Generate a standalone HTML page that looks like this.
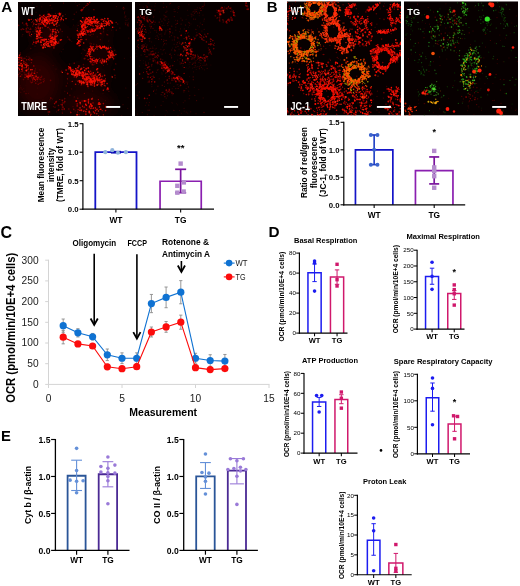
<!DOCTYPE html>
<html><head><meta charset="utf-8"><style>
html,body{margin:0;padding:0;background:#fff;width:520px;height:586px;overflow:hidden}
svg{display:block}
text{font-family:'Liberation Sans', Arial, sans-serif}
</style></head><body>
<svg width="520" height="586" viewBox="0 0 520 586">
<rect width="520" height="586" fill="#fff"/>
<text x="1.30" y="11.90" font-size="15.3" font-weight="bold" text-anchor="start" fill="#000" >A</text>
<text x="266.70" y="11.70" font-size="15" font-weight="bold" text-anchor="start" fill="#000" >B</text>
<text x="0.60" y="238.40" font-size="16" font-weight="bold" text-anchor="start" fill="#000" >C</text>
<text x="268.40" y="236.80" font-size="15.3" font-weight="bold" text-anchor="start" fill="#000" >D</text>
<text x="0.90" y="440.60" font-size="14.8" font-weight="bold" text-anchor="start" fill="#000" >E</text>
<defs><filter id="soft" x="-5%" y="-5%" width="110%" height="110%"><feGaussianBlur stdDeviation="0.35"/></filter><filter id="haze" x="-50%" y="-50%" width="200%" height="200%"><feGaussianBlur stdDeviation="7"/></filter><clipPath id="cA1"><rect x="18" y="2" width="114" height="114"/></clipPath><clipPath id="cA2"><rect x="135" y="2" width="115" height="114"/></clipPath><clipPath id="cB1"><rect x="287" y="1.3" width="114" height="114.3"/></clipPath><clipPath id="cB2"><rect x="404" y="1.3" width="114" height="114.3"/></clipPath></defs>
<g clip-path="url(#cA1)"><rect x="18" y="2" width="114" height="114" fill="#070000"/><g filter="url(#haze)"><ellipse cx="38" cy="82" rx="22" ry="28" fill="#2a0000"/><ellipse cx="88" cy="104" rx="26" ry="10" fill="#2a0000"/><ellipse cx="48" cy="34" rx="14" ry="14" fill="#220000"/><ellipse cx="93" cy="32" rx="16" ry="10" fill="#1e0000"/><ellipse cx="86" cy="78" rx="20" ry="10" fill="#260000"/><ellipse cx="100" cy="54" rx="13" ry="8" fill="#1e0000"/></g><g filter="url(#soft)"><path d="M53.7 24.6h0M50.3 15.8h0M48.8 18.2h0M39.1 19.9h0M49.5 23.8h0M55.5 40.1h0M56.1 16.8h0M109.1 20.5h0M86.9 18.6h0M106.5 25.2h0M99.7 23.7h0M107.4 23.2h0M77.4 39.4h0M82.5 29.0h0M83.7 29.7h0M83.6 25.8h0M95.4 30.5h0M95.0 29.3h0M93.1 28.7h0M101.4 25.9h0M89.7 54.6h0M95.2 60.9h0M91.9 56.6h0M108.7 59.8h0M97.2 49.1h0M92.5 59.9h0M97.2 60.4h0M75.5 72.5h0M95.1 75.1h0M91.9 81.2h0M80.7 75.1h0M72.4 69.6h0M77.4 74.8h0M22.1 65.4h0M22.6 70.9h0M28.9 72.0h0M35.1 79.4h0M95.6 108.5h0M84.6 107.1h0M86.0 100.9h0M45.3 22.5h0M47.8 21.3h0M41.3 16.6h0M81.2 82.9h0M92.4 83.6h0" stroke="#e80a04" stroke-width="1.2" stroke-opacity="0.8" stroke-linecap="round"/><path d="M46.4 17.6h0M41.9 39.6h0M37.7 34.7h0M55.9 34.7h0M55.9 39.3h0M86.7 22.2h0M78.4 37.4h0M77.4 34.3h0M89.9 31.5h0M93.9 30.5h0M111.8 53.8h0M112.5 51.6h0M89.0 50.5h0M100.4 60.5h0M75.6 84.2h0M75.8 75.4h0M91.5 82.2h0M104.6 75.4h0M86.0 74.5h0M72.7 71.5h0M83.6 75.5h0M87.0 73.8h0M24.0 63.6h0M105.6 110.6h0M98.3 104.1h0M42.0 21.7h0M54.9 38.8h0M49.6 41.8h0M88.9 20.6h0M94.7 23.2h0" stroke="#ff1208" stroke-width="1.6" stroke-opacity="0.6" stroke-linecap="round"/><path d="M39.4 20.1h0M52.9 15.6h0M54.0 42.7h0M54.2 31.6h0M98.7 25.3h0M83.9 20.0h0M85.5 23.4h0M90.5 56.3h0M71.4 71.2h0M97.8 80.3h0M81.1 85.0h0M67.4 78.8h0M91.6 85.0h0M94.9 80.9h0M86.2 83.8h0M98.3 79.3h0M31.3 75.6h0M89.7 105.4h0M98.4 99.7h0M55.5 38.8h0" stroke="#f00c04" stroke-width="1.2" stroke-opacity="0.6" stroke-linecap="round"/><path d="M39.9 15.4h0M43.6 18.4h0M57.9 19.7h0M48.6 16.4h0M44.4 16.6h0M51.9 19.6h0M52.2 44.0h0M58.6 42.0h0M44.2 40.8h0M58.2 16.7h0M60.5 19.7h0M90.4 20.3h0M90.8 19.6h0M104.4 23.2h0M82.2 27.1h0M100.1 28.4h0M84.9 33.8h0M76.9 43.9h0M71.5 72.8h0M100.4 74.1h0M89.3 76.7h0M86.9 81.4h0M97.3 76.5h0M104.3 85.3h0M82.6 71.7h0M102.9 81.7h0M34.4 79.0h0M37.6 79.1h0M90.4 108.5h0M84.1 100.9h0M45.0 19.6h0M46.5 23.9h0M55.9 32.2h0" stroke="#ff0a00" stroke-width="1.6" stroke-opacity="0.6" stroke-linecap="round"/><path d="M47.2 20.4h0M37.0 21.7h0M46.5 22.3h0M41.8 32.3h0M39.2 34.5h0M39.1 29.0h0M44.7 39.6h0M44.2 40.9h0M66.0 18.7h0M87.4 18.9h0M86.9 19.7h0M78.7 35.9h0M106.3 61.3h0M110.6 47.3h0M104.6 47.6h0M87.3 53.2h0M73.5 74.7h0M99.8 77.4h0M87.4 74.2h0M81.8 73.8h0M68.7 66.7h0M86.9 77.9h0M18.9 62.1h0M28.1 65.7h0M90.6 115.2h0M46.3 19.4h0M84.0 79.8h0M85.2 78.8h0M82.9 78.6h0" stroke="#ff1208" stroke-width="1.2" stroke-opacity="1.0" stroke-linecap="round"/><path d="M49.3 17.1h0M56.2 20.9h0M36.0 29.9h0M48.7 42.0h0M52.4 42.0h0M52.3 37.9h0M47.9 43.6h0M52.9 37.4h0M55.3 37.5h0M56.6 36.3h0M93.9 21.6h0M109.1 23.6h0M98.6 23.0h0M103.0 25.7h0M85.3 21.1h0M83.9 31.2h0M81.1 34.0h0M82.1 22.9h0M81.2 30.5h0M92.2 29.7h0M89.4 30.0h0M106.1 47.6h0M108.9 58.5h0M106.2 47.2h0M95.6 48.5h0M90.7 49.3h0M108.6 57.2h0M75.9 70.5h0M76.3 77.6h0M90.6 80.2h0M72.2 81.4h0M81.5 84.0h0M95.1 79.3h0M105.5 78.8h0M92.0 82.3h0M94.8 81.0h0M28.8 73.3h0M88.7 103.5h0M105.5 106.3h0M88.8 99.1h0M93.0 102.9h0M95.3 107.5h0M105.5 107.2h0M44.2 20.5h0M55.2 38.0h0M92.5 25.0h0" stroke="#f00c04" stroke-width="1.2" stroke-opacity="0.8" stroke-linecap="round"/><path d="M46.0 19.8h0M39.5 21.4h0M49.9 22.0h0M44.5 20.1h0M42.6 21.0h0M53.2 20.5h0M40.6 37.5h0M38.3 32.4h0M38.3 33.2h0M54.5 42.7h0M50.8 35.9h0M41.3 45.0h0M55.2 29.4h0M54.5 43.7h0M88.9 24.0h0M95.4 21.3h0M98.3 21.6h0M100.6 25.3h0M85.3 20.2h0M109.2 25.3h0M102.7 19.5h0M94.5 19.7h0M78.6 37.6h0M80.5 35.2h0M83.3 31.7h0M85.6 23.0h0M84.7 27.9h0M92.0 30.4h0M94.0 31.0h0M83.8 33.4h0M88.9 49.8h0M88.4 51.5h0M97.2 61.2h0M108.7 56.7h0M102.2 59.3h0M111.8 55.5h0M77.3 74.4h0M70.6 68.1h0M75.0 74.7h0M78.5 73.4h0M76.0 72.8h0M84.0 74.4h0M76.1 69.1h0M76.7 76.3h0M81.3 82.4h0M81.9 75.7h0M87.8 84.0h0M101.8 79.4h0M86.2 77.2h0M83.7 72.3h0M26.2 67.6h0M22.2 68.7h0M33.2 78.1h0M86.6 109.3h0M91.4 106.0h0M87.3 82.3h0M83.6 76.1h0M81.2 82.8h0M86.6 21.9h0" stroke="#f00c04" stroke-width="1.6" stroke-opacity="0.8" stroke-linecap="round"/><path d="M47.9 27.6h0M51.5 18.8h0M45.1 24.0h0M42.4 19.1h0M37.9 18.9h0M50.0 23.3h0M61.0 17.2h0M38.2 32.3h0M40.9 42.0h0M52.4 33.1h0M108.3 21.2h0M82.1 28.4h0M83.8 24.2h0M82.8 29.2h0M104.0 25.6h0M95.6 29.2h0M91.1 31.6h0M88.1 59.7h0M107.8 51.9h0M92.5 59.1h0M97.6 61.2h0M94.0 62.6h0M106.4 49.0h0M89.9 56.3h0M108.7 47.9h0M94.0 58.0h0M77.9 71.2h0M85.8 76.6h0M83.4 82.4h0M83.7 75.9h0M99.2 80.0h0M104.4 83.1h0M97.8 82.5h0M33.8 65.9h0M29.1 75.4h0M96.0 110.0h0M90.5 104.1h0M78.1 109.7h0M47.3 22.8h0M52.4 38.7h0M81.7 81.6h0" stroke="#ff0a00" stroke-width="1.2" stroke-opacity="0.8" stroke-linecap="round"/><path d="M47.2 19.5h0M50.3 20.4h0M53.0 19.3h0M38.6 37.2h0M37.3 41.7h0M42.8 47.9h0M48.0 43.9h0M58.6 32.1h0M57.4 30.3h0M55.1 42.1h0M55.3 33.0h0M62.8 16.0h0M104.0 20.6h0M89.3 21.9h0M79.2 33.9h0M86.9 30.5h0M82.9 25.1h0M83.1 35.3h0M90.6 32.3h0M90.4 52.0h0M90.5 54.0h0M97.2 60.1h0M77.7 74.2h0M85.9 79.6h0M99.2 78.2h0M93.5 80.7h0M100.7 76.3h0M21.3 63.8h0M96.8 113.7h0M95.5 110.8h0M80.2 103.7h0M80.0 107.9h0M91.8 105.6h0M55.2 17.9h0M81.6 81.0h0" stroke="#ff2414" stroke-width="1.6" stroke-opacity="0.6" stroke-linecap="round"/><path d="M53.4 20.6h0M54.0 19.5h0M53.6 42.1h0M53.4 39.5h0M44.8 43.6h0M55.2 39.7h0M53.0 31.2h0M57.9 43.2h0M85.9 19.8h0M103.5 21.5h0M105.9 21.2h0M80.6 20.9h0M84.8 31.3h0M83.5 25.2h0M83.3 35.1h0M77.5 43.8h0M89.2 49.8h0M90.3 58.7h0M72.4 71.3h0M76.0 74.0h0M90.5 79.2h0M92.4 82.6h0M92.3 82.8h0M70.0 67.7h0M21.8 69.5h0M89.5 106.9h0M98.9 104.1h0M80.1 102.5h0M97.0 109.3h0M44.5 20.7h0M44.7 19.4h0M40.9 24.0h0M52.1 37.2h0M85.0 79.9h0M86.1 23.2h0" stroke="#f00c04" stroke-width="1.6" stroke-opacity="1.0" stroke-linecap="round"/><path d="M47.3 23.3h0M43.7 44.4h0M41.0 42.5h0M52.1 41.5h0M108.1 24.0h0M94.5 21.4h0M97.5 22.5h0M110.4 21.0h0M80.2 34.3h0M97.8 26.2h0M99.4 46.6h0M88.5 77.9h0M79.2 80.9h0M87.2 84.6h0M99.4 74.5h0M94.6 82.2h0M75.8 73.8h0M98.6 116.2h0M52.3 37.2h0M88.3 77.8h0M89.9 24.2h0M87.8 21.8h0M88.4 20.1h0" stroke="#ff2414" stroke-width="1.6" stroke-opacity="1.0" stroke-linecap="round"/><path d="M50.2 20.4h0M44.3 15.0h0M47.0 16.0h0M52.1 39.7h0M111.4 21.2h0M89.6 19.4h0M99.7 28.2h0M97.1 27.0h0M98.4 59.7h0M91.3 50.6h0M113.2 53.0h0M78.6 72.2h0M94.4 82.7h0M85.5 75.8h0M77.6 112.0h0M92.6 98.1h0M84.5 110.8h0M90.8 82.3h0M89.9 78.5h0M92.7 23.3h0" stroke="#ff1208" stroke-width="1.2" stroke-opacity="0.6" stroke-linecap="round"/><path d="M47.3 23.5h0M44.2 39.3h0M95.0 21.2h0M80.3 41.7h0M91.6 59.4h0M88.6 81.4h0M26.7 64.2h0M53.7 43.4h0" stroke="#e80a04" stroke-width="2.0" stroke-opacity="0.6" stroke-linecap="round"/><path d="M45.7 20.6h0M35.6 19.7h0M40.1 18.7h0M52.5 22.8h0M56.0 24.3h0M56.5 23.4h0M57.4 18.6h0M37.2 35.9h0M36.1 24.5h0M40.2 30.5h0M46.1 45.1h0M45.3 47.3h0M54.0 45.8h0M55.6 36.5h0M54.1 37.3h0M106.1 25.5h0M106.0 23.4h0M102.4 26.5h0M81.0 37.0h0M81.7 26.1h0M83.9 33.7h0M113.9 55.6h0M89.2 54.4h0M104.4 61.7h0M104.7 60.5h0M73.4 71.9h0M78.0 67.7h0M96.3 76.9h0M97.8 72.2h0M101.2 84.7h0M77.7 74.2h0M112.3 77.0h0M101.3 82.6h0M94.5 78.7h0M99.4 80.8h0M95.3 81.0h0M94.5 83.6h0M84.2 74.9h0M26.9 65.8h0M17.4 62.3h0M19.1 65.2h0M30.1 76.1h0M30.4 75.4h0M98.4 111.0h0M99.5 107.0h0M36.7 20.6h0M49.2 19.4h0M47.9 41.5h0M93.0 81.5h0M81.8 83.6h0M91.4 23.6h0M95.8 25.6h0M95.1 21.3h0" stroke="#ff2414" stroke-width="1.6" stroke-opacity="0.8" stroke-linecap="round"/><path d="M50.0 16.5h0M49.5 23.6h0M43.4 15.4h0M39.8 37.8h0M63.1 19.5h0M89.1 20.4h0M106.5 24.4h0M82.1 25.2h0M100.9 26.5h0M101.5 48.6h0M107.2 58.7h0M87.4 55.9h0M76.6 73.8h0M76.8 74.4h0M91.1 75.1h0M103.3 90.2h0M19.2 65.6h0M24.1 67.8h0M28.6 68.0h0M22.4 64.8h0M21.5 58.0h0M100.0 109.5h0M51.9 23.5h0M82.8 78.4h0M90.8 78.6h0M88.5 24.6h0" stroke="#f00c04" stroke-width="1.2" stroke-opacity="1.0" stroke-linecap="round"/><path d="M51.8 18.7h0M40.2 28.9h0M107.8 22.8h0M90.2 29.8h0M98.2 28.3h0M87.6 84.5h0M92.5 74.1h0M92.5 75.8h0M105.1 85.5h0M91.9 106.1h0M46.4 19.3h0M77.8 81.2h0" stroke="#ff2414" stroke-width="1.2" stroke-opacity="0.6" stroke-linecap="round"/><path d="M43.4 24.0h0M43.1 21.2h0M57.9 20.5h0M36.0 42.0h0M50.6 42.1h0M53.8 16.8h0M89.8 22.5h0M82.8 17.8h0M94.2 20.0h0M79.0 35.1h0M97.2 27.4h0M90.2 61.4h0M89.3 55.0h0M93.1 46.8h0M78.9 66.1h0M86.7 77.6h0M93.3 72.9h0M32.7 75.5h0M28.7 75.2h0M85.9 111.7h0M88.4 99.9h0M51.9 41.6h0M90.9 25.2h0" stroke="#e80a04" stroke-width="1.6" stroke-opacity="1.0" stroke-linecap="round"/><path d="M54.6 15.8h0M55.6 18.0h0M33.8 42.2h0M47.6 46.1h0M46.6 41.5h0M46.0 44.1h0M57.3 35.7h0M59.9 15.1h0M106.5 22.0h0M107.1 23.1h0M107.4 22.9h0M84.6 29.9h0M83.1 28.3h0M81.7 26.1h0M84.4 23.2h0M103.6 28.7h0M80.2 45.2h0M77.9 42.6h0M96.7 63.1h0M106.5 47.8h0M107.2 48.9h0M110.6 52.7h0M102.6 60.5h0M110.3 57.3h0M107.0 58.9h0M92.7 60.8h0M111.6 51.0h0M99.5 46.5h0M88.6 51.8h0M95.4 61.1h0M83.5 73.8h0M70.8 70.9h0M80.6 69.6h0M74.1 75.0h0M83.9 83.4h0M96.2 79.1h0M90.7 74.1h0M91.3 82.1h0M89.0 77.0h0M83.4 72.8h0M108.0 89.4h0M87.2 76.9h0M101.8 82.0h0M88.6 76.9h0M90.7 79.2h0M19.5 55.3h0M34.6 73.3h0M31.3 74.0h0M92.2 106.0h0M94.6 113.1h0M93.5 108.1h0M46.0 17.6h0M50.6 38.5h0" stroke="#ff0a00" stroke-width="1.6" stroke-opacity="0.8" stroke-linecap="round"/><path d="M38.0 19.9h0M52.9 21.7h0M58.2 13.4h0M53.0 40.9h0M55.9 37.1h0M83.3 25.3h0M83.2 31.7h0M112.7 56.9h0M95.8 62.6h0M99.4 58.3h0M91.5 80.2h0M98.7 81.0h0M73.3 69.4h0M81.2 110.1h0M43.3 17.8h0M47.8 43.4h0" stroke="#e80a04" stroke-width="1.2" stroke-opacity="0.6" stroke-linecap="round"/><path d="M50.4 20.5h0M104.5 25.9h0M108.9 22.3h0M92.8 19.2h0M80.8 24.0h0M84.9 34.1h0M104.3 61.6h0M101.4 62.0h0M76.4 74.1h0M75.9 75.1h0M95.2 75.2h0M62.3 72.4h0M87.3 84.0h0M97.7 79.5h0M98.2 84.0h0M85.4 73.2h0M82.6 75.9h0M85.9 74.7h0M19.5 69.2h0M22.3 67.0h0M32.1 69.7h0M91.0 114.2h0M83.4 111.1h0M91.3 108.0h0M86.3 80.0h0M85.5 81.0h0M95.2 22.2h0" stroke="#ff2414" stroke-width="1.2" stroke-opacity="1.0" stroke-linecap="round"/><path d="M47.8 16.8h0M51.9 20.5h0M36.7 34.3h0M37.5 31.1h0M44.2 45.7h0M40.9 41.4h0M52.0 45.4h0M51.3 44.4h0M61.5 18.3h0M87.2 18.5h0M92.0 22.9h0M81.7 21.6h0M84.7 70.4h0M90.9 81.3h0M73.7 72.8h0M97.6 68.8h0M94.5 86.0h0M99.6 80.1h0M91.5 82.3h0M103.2 81.0h0M82.9 76.8h0M30.8 69.7h0M21.5 60.5h0M99.1 102.7h0M88.4 102.1h0M54.2 25.2h0M86.4 78.5h0M94.1 21.9h0" stroke="#ff1208" stroke-width="1.6" stroke-opacity="1.0" stroke-linecap="round"/><path d="M41.4 22.4h0M38.4 28.2h0M39.5 30.7h0M37.9 38.7h0M49.8 40.1h0M87.6 20.0h0M88.4 17.4h0M87.0 23.9h0M100.4 28.5h0M86.0 55.6h0M113.7 58.8h0M112.9 53.5h0M76.9 72.7h0M68.5 68.0h0M82.0 74.0h0M84.1 78.6h0M80.1 80.7h0M98.1 80.1h0M100.0 80.2h0M75.6 68.6h0M22.6 65.9h0M37.8 77.4h0M82.6 106.2h0M55.6 43.5h0M48.4 39.3h0M54.6 37.0h0M88.3 76.7h0M82.4 82.2h0" stroke="#e80a04" stroke-width="1.2" stroke-opacity="1.0" stroke-linecap="round"/><path d="M40.1 19.6h0M52.4 22.4h0M50.9 40.8h0M53.0 29.7h0M56.3 42.6h0M77.8 43.2h0M110.3 53.9h0M94.5 60.7h0M86.2 68.7h0M93.9 75.9h0M91.3 23.1h0" stroke="#f00c04" stroke-width="2.0" stroke-opacity="0.8" stroke-linecap="round"/><path d="M55.0 21.3h0M29.0 19.9h0M40.1 18.3h0M83.0 25.0h0M102.9 47.2h0M96.6 46.8h0M108.3 48.5h0M93.9 81.5h0M21.8 66.3h0M27.0 76.2h0M28.2 77.0h0M90.9 104.2h0" stroke="#ff1208" stroke-width="2.0" stroke-opacity="0.8" stroke-linecap="round"/><path d="M31.2 19.3h0M38.2 41.2h0M45.8 42.7h0M82.2 22.7h0M83.3 32.3h0M81.4 26.7h0M96.6 28.8h0M89.5 54.0h0M91.2 73.2h0M93.4 111.9h0M86.3 105.3h0M46.5 20.4h0M54.7 39.9h0M91.2 79.5h0M97.3 24.0h0M92.1 23.3h0" stroke="#ff0a00" stroke-width="1.2" stroke-opacity="1.0" stroke-linecap="round"/><path d="M46.6 19.9h0M56.1 15.7h0M36.6 31.5h0M48.5 45.9h0M90.1 20.9h0M85.3 22.3h0M110.6 55.5h0M109.2 52.2h0M92.5 49.3h0M90.8 84.5h0M90.7 80.0h0M83.3 82.2h0M74.8 75.5h0M97.2 84.9h0M89.4 112.4h0M77.1 114.8h0M54.8 43.3h0M53.6 39.2h0" stroke="#ff2414" stroke-width="2.0" stroke-opacity="0.8" stroke-linecap="round"/><path d="M48.3 14.2h0M78.5 42.5h0M87.8 86.2h0M17.2 63.1h0M45.4 21.2h0" stroke="#ff1208" stroke-width="2.0" stroke-opacity="0.6" stroke-linecap="round"/><path d="M53.4 16.6h0M44.7 21.0h0M89.4 17.7h0M85.0 25.1h0M81.5 68.6h0M89.7 81.5h0M90.1 80.5h0M70.5 68.9h0M36.1 76.6h0M91.8 99.1h0" stroke="#ff2414" stroke-width="2.0" stroke-opacity="0.6" stroke-linecap="round"/><path d="M57.4 22.2h0M47.0 20.1h0M46.2 17.6h0M55.7 20.9h0M37.3 38.6h0M39.0 23.9h0M36.4 38.8h0M39.5 34.9h0M40.6 37.3h0M52.0 41.7h0M36.1 43.2h0M48.1 43.3h0M101.4 23.2h0M93.7 18.0h0M86.2 17.8h0M96.1 22.2h0M77.3 30.6h0M83.9 24.9h0M88.5 31.6h0M97.9 28.6h0M97.9 28.3h0M106.3 61.9h0M106.6 59.7h0M104.8 46.5h0M107.0 48.2h0M112.1 52.7h0M97.9 46.2h0M115.8 54.6h0M96.7 59.5h0M95.8 59.8h0M72.8 74.7h0M74.1 71.1h0M66.1 70.1h0M84.3 78.8h0M77.4 75.9h0M107.1 83.6h0M101.8 82.4h0M94.4 81.9h0M100.2 82.8h0M94.3 83.9h0M94.7 79.4h0M92.1 80.3h0M100.9 79.6h0M20.4 65.3h0M29.4 76.1h0M86.2 105.2h0M91.2 106.1h0M44.5 22.4h0M44.7 25.8h0M58.2 17.1h0M47.6 20.8h0M50.8 34.2h0M89.4 81.9h0M87.3 79.6h0M87.1 78.6h0M88.7 76.5h0M84.6 22.5h0" stroke="#e80a04" stroke-width="1.6" stroke-opacity="0.8" stroke-linecap="round"/><path d="M42.6 22.3h0M44.8 18.8h0M55.0 18.3h0M53.3 17.5h0M60.5 14.0h0M38.3 41.0h0M39.3 31.2h0M40.3 32.6h0M49.8 46.4h0M55.4 42.6h0M55.6 44.6h0M46.1 42.6h0M106.8 24.6h0M104.8 18.6h0M101.2 19.8h0M92.5 21.9h0M80.8 39.7h0M82.9 25.6h0M82.7 26.7h0M92.5 30.4h0M91.8 29.5h0M99.4 27.6h0M82.6 35.1h0M100.0 27.5h0M79.2 45.7h0M83.7 43.0h0M112.4 57.3h0M102.8 46.5h0M90.0 51.9h0M102.9 61.8h0M109.8 57.1h0M108.2 55.3h0M112.0 54.4h0M104.0 47.1h0M100.1 46.6h0M101.6 63.0h0M92.0 50.0h0M89.2 53.4h0M77.1 71.1h0M78.8 70.6h0M79.2 72.2h0M72.0 74.1h0M89.6 78.3h0M97.1 78.4h0M92.8 78.2h0M104.5 81.5h0M90.8 83.0h0M82.6 75.2h0M97.5 80.9h0M76.5 70.7h0M18.6 57.5h0M79.9 110.3h0M100.4 104.0h0M79.5 82.1h0M82.0 75.8h0M90.3 78.8h0M90.8 22.1h0M88.5 24.1h0" stroke="#ff1208" stroke-width="1.6" stroke-opacity="0.8" stroke-linecap="round"/><path d="M40.9 17.7h0M48.4 22.2h0M53.4 15.7h0M39.8 32.5h0M61.6 39.6h0M50.9 42.8h0M50.3 41.0h0M63.5 20.1h0M87.1 18.5h0M81.7 27.4h0M90.9 31.8h0M90.4 57.0h0M89.6 50.8h0M96.4 59.1h0M112.7 55.2h0M108.2 55.5h0M83.9 67.4h0M89.2 72.5h0M93.2 78.6h0M88.0 77.4h0M92.0 76.8h0M102.9 83.7h0M100.5 75.6h0M92.8 85.1h0M101.7 83.8h0M70.3 68.9h0M17.7 64.0h0M28.0 69.4h0M26.6 66.7h0M103.3 114.8h0M77.2 103.9h0M44.6 21.8h0M84.5 82.7h0M100.0 27.3h0M90.5 22.3h0M96.7 26.2h0" stroke="#ff1208" stroke-width="1.2" stroke-opacity="0.8" stroke-linecap="round"/><path d="M49.2 14.4h0M50.0 36.4h0M60.5 39.9h0M91.3 21.6h0M94.1 17.0h0M101.8 23.9h0M111.8 22.2h0M83.6 29.1h0M82.3 33.7h0M88.0 31.1h0M90.6 46.4h0M88.2 68.1h0M76.4 72.1h0M79.3 74.7h0M80.1 81.8h0M96.9 69.4h0M104.1 80.6h0M97.1 79.4h0M94.2 79.0h0M86.6 79.5h0" stroke="#ff0a00" stroke-width="2.0" stroke-opacity="0.8" stroke-linecap="round"/><path d="M45.6 26.1h0M95.0 30.3h0M87.7 32.0h0M92.1 59.6h0M67.7 73.7h0M20.9 63.6h0M85.9 114.3h0M42.6 16.9h0M87.5 82.2h0" stroke="#ff0a00" stroke-width="2.0" stroke-opacity="0.6" stroke-linecap="round"/><path d="M43.0 23.3h0M48.1 44.0h0M59.7 13.4h0M90.8 19.5h0M112.7 27.2h0M108.5 21.2h0M82.3 34.3h0M97.8 28.2h0M97.4 28.5h0M91.4 48.3h0M109.4 51.4h0M93.7 50.9h0M71.4 70.3h0M82.5 72.6h0M92.9 81.4h0M88.5 71.4h0M77.3 70.4h0M99.4 104.3h0M100.8 109.2h0M85.7 104.2h0M89.2 111.4h0M43.8 24.5h0M54.6 38.8h0M90.4 80.6h0M88.0 23.9h0" stroke="#ff0a00" stroke-width="1.6" stroke-opacity="1.0" stroke-linecap="round"/><path d="M41.9 19.9h0M38.2 26.2h0M49.3 42.7h0M56.5 42.7h0M103.1 23.7h0M84.8 26.1h0M86.1 34.7h0M90.1 35.1h0M91.3 47.9h0M92.5 47.2h0M94.2 79.2h0M89.0 79.1h0M90.0 81.2h0M83.7 81.3h0M81.6 74.1h0M74.2 63.2h0M68.3 69.1h0M102.2 110.6h0M92.8 108.5h0M41.3 20.4h0M90.0 74.1h0" stroke="#ff0a00" stroke-width="1.2" stroke-opacity="0.6" stroke-linecap="round"/><path d="M50.6 15.7h0M43.3 47.4h0M46.0 39.4h0M85.7 27.5h0M92.7 30.9h0M101.0 47.9h0M99.8 46.5h0M26.4 70.4h0M46.6 19.2h0" stroke="#ff1208" stroke-width="2.0" stroke-opacity="1.0" stroke-linecap="round"/><path d="M57.5 20.6h0M54.9 15.9h0M41.4 39.9h0M39.0 35.0h0M52.7 31.8h0M91.7 47.6h0M82.2 72.2h0M50.4 20.1h0" stroke="#f00c04" stroke-width="2.0" stroke-opacity="0.6" stroke-linecap="round"/><path d="M55.6 17.6h0M40.5 27.9h0M31.6 34.4h0M38.5 33.9h0M46.4 44.8h0M52.7 34.6h0M95.6 23.0h0M92.0 21.6h0M99.0 21.6h0M79.9 33.0h0M77.8 35.4h0M87.3 26.6h0M81.0 33.7h0M82.5 27.0h0M83.8 23.9h0M94.2 31.2h0M85.7 32.9h0M105.5 48.1h0M89.2 49.7h0M113.2 54.7h0M110.8 56.8h0M111.3 52.4h0M104.4 46.2h0M93.5 60.5h0M71.5 74.1h0M79.2 75.4h0M74.1 70.8h0M105.2 80.9h0M72.1 74.7h0M91.6 81.7h0M86.9 83.9h0M98.6 80.2h0M101.9 81.1h0M94.3 80.7h0M102.6 84.4h0M102.3 81.9h0M53.8 23.9h0M57.3 22.3h0M47.9 23.0h0M56.4 32.8h0M52.0 41.2h0M98.7 75.5h0M86.9 78.9h0M91.6 79.1h0M86.0 82.5h0M95.9 80.7h0M96.8 23.5h0" stroke="#ff2414" stroke-width="1.2" stroke-opacity="0.8" stroke-linecap="round"/><path d="M54.0 15.7h0M40.0 28.0h0M55.6 31.7h0M61.4 19.6h0M88.4 20.4h0M88.3 23.4h0M90.7 31.1h0M100.4 27.5h0M79.2 43.5h0M90.6 52.1h0M96.1 61.3h0M113.7 55.1h0M79.8 82.6h0M88.5 74.8h0M97.2 77.9h0M23.8 61.9h0M33.8 77.3h0M103.4 103.6h0M42.4 22.8h0M49.7 20.7h0" stroke="#e80a04" stroke-width="1.6" stroke-opacity="0.6" stroke-linecap="round"/><path d="M39.8 31.1h0M53.6 44.9h0M91.3 18.1h0M81.2 31.7h0M79.6 34.3h0M79.4 72.1h0M94.1 77.8h0M87.5 78.4h0M107.7 88.3h0M76.3 101.1h0" stroke="#e80a04" stroke-width="2.0" stroke-opacity="1.0" stroke-linecap="round"/><path d="M37.0 36.5h0M101.4 26.3h0M78.9 40.9h0M82.0 33.3h0M79.9 73.0h0M44.8 20.5h0M55.7 41.5h0" stroke="#ff2414" stroke-width="2.0" stroke-opacity="1.0" stroke-linecap="round"/><path d="M42.0 37.5h0M48.0 43.5h0M51.5 42.5h0M54.5 35.7h0M93.0 21.7h0M102.1 25.0h0M109.4 23.7h0M86.3 18.6h0M81.9 39.5h0M84.8 34.1h0M94.5 49.5h0M81.2 68.9h0M88.5 80.9h0M101.0 81.8h0M100.1 81.1h0M94.7 80.6h0M92.4 80.2h0M80.8 73.0h0M72.9 73.7h0M74.4 71.3h0M101.0 85.6h0M87.0 73.6h0M93.8 21.6h0M93.2 26.2h0" stroke="#f00c04" stroke-width="1.6" stroke-opacity="0.6" stroke-linecap="round"/><path d="M39.6 33.9h0M43.0 40.1h0M59.5 14.5h0M82.4 29.8h0M109.9 57.6h0M89.4 48.9h0M83.3 74.8h0M91.2 80.2h0M84.8 100.9h0M90.3 82.3h0" stroke="#f00c04" stroke-width="2.0" stroke-opacity="1.0" stroke-linecap="round"/><path d="M51.9 40.8h0M55.7 36.4h0M84.5 21.7h0M112.3 23.1h0M107.9 18.8h0M96.6 21.2h0M84.9 26.1h0M90.8 82.6h0M19.7 57.6h0M25.5 64.7h0M81.4 110.2h0M83.4 77.3h0M87.9 78.5h0M92.9 22.3h0" stroke="#e80a04" stroke-width="2.0" stroke-opacity="0.8" stroke-linecap="round"/><path d="M32.7 26.1h0M30.5 14.2h0M30.4 81.1h0M27.9 73.5h0M79.1 101.0h0M30.7 48.5h0M91.9 34.3h0M110.5 24.3h0M74.3 14.2h0M117.7 24.0h0M83.7 74.6h0M85.9 71.1h0M87.8 78.0h0M84.8 50.3h0M93.8 44.3h0" stroke="#900404" stroke-width="1.6" stroke-opacity="0.4" stroke-linecap="round"/><path d="M29.6 35.1h0M33.3 20.2h0M28.0 31.7h0M28.7 32.2h0M28.2 28.2h0M33.9 24.0h0M80.9 10.2h0M43.2 79.2h0M26.4 76.8h0M21.0 71.5h0M63.5 107.2h0M60.6 29.8h0M49.7 35.2h0M82.2 29.2h0M103.0 27.6h0M74.1 74.9h0M108.9 91.5h0M84.9 58.2h0M69.9 95.2h0M91.7 76.5h0M84.4 93.4h0M102.6 63.8h0" stroke="#a00606" stroke-width="1.2" stroke-opacity="0.6" stroke-linecap="round"/><path d="M30.0 35.6h0M30.0 31.9h0M27.0 32.4h0M84.1 7.5h0M19.5 69.9h0M19.9 73.0h0M26.6 59.9h0M55.6 102.1h0M38.8 42.2h0M42.4 27.8h0M67.5 93.1h0M89.2 73.8h0M103.9 62.7h0M89.5 50.2h0M84.8 58.8h0" stroke="#c00808" stroke-width="1.2" stroke-opacity="0.8" stroke-linecap="round"/><path d="M31.0 36.6h0M48.8 36.4h0M44.9 25.2h0M96.0 77.2h0M107.2 64.2h0" stroke="#c00808" stroke-width="0.8" stroke-opacity="0.6" stroke-linecap="round"/><path d="M37.2 28.0h0M31.8 22.5h0M31.9 15.6h0M33.6 24.6h0M26.1 23.9h0M89.4 2.7h0M34.6 79.6h0M32.5 82.0h0M28.3 74.9h0M27.6 75.4h0M18.4 74.4h0M39.9 83.3h0M30.5 74.6h0M25.0 74.3h0M83.4 107.2h0M48.4 27.0h0M38.8 28.2h0M30.9 1.0h0M100.3 39.6h0M116.2 30.1h0M97.7 27.2h0M115.8 63.9h0M89.8 76.3h0M85.3 81.0h0" stroke="#b00404" stroke-width="1.2" stroke-opacity="0.6" stroke-linecap="round"/><path d="M21.2 29.6h0M36.5 28.5h0M81.9 9.9h0M88.4 4.3h0M31.8 72.4h0M40.7 79.7h0M34.9 71.1h0M35.8 83.2h0M43.5 81.8h0M41.1 82.8h0M26.0 75.1h0M31.3 82.6h0M29.9 58.3h0M64.2 108.9h0M58.5 105.5h0M38.9 36.1h0M32.8 44.1h0M114.2 69.6h0M61.5 71.3h0M89.0 77.0h0M97.0 47.2h0" stroke="#a00606" stroke-width="1.6" stroke-opacity="0.6" stroke-linecap="round"/><path d="M38.1 34.7h0M26.3 28.9h0M27.5 25.3h0M87.4 3.8h0M32.8 79.5h0M20.6 76.2h0M28.1 79.0h0M17.1 59.8h0M64.8 101.6h0M62.4 100.6h0M79.1 114.7h0M49.5 111.9h0M48.2 112.0h0M62.5 107.1h0M62.1 109.2h0M56.8 26.3h0M50.3 29.7h0M92.2 59.6h0M90.5 50.1h0" stroke="#c00808" stroke-width="1.6" stroke-opacity="0.6" stroke-linecap="round"/><path d="M37.1 34.6h0M30.8 29.0h0M38.9 76.9h0M33.1 73.2h0M17.5 64.8h0M31.3 62.7h0M25.8 62.4h0M63.8 102.8h0M35.7 27.4h0M92.7 22.5h0M102.6 47.8h0M113.4 58.2h0" stroke="#c00808" stroke-width="1.2" stroke-opacity="0.6" stroke-linecap="round"/><path d="M18.6 25.4h0M26.5 24.8h0M17.9 75.9h0M32.7 80.3h0M36.2 75.6h0M21.8 74.8h0M29.2 60.1h0M61.1 104.5h0M68.8 109.0h0M56.2 102.5h0M47.4 109.1h0M58.9 109.5h0M50.7 97.9h0M62.5 103.0h0M42.3 45.9h0M40.7 40.0h0M98.0 28.4h0M96.0 73.9h0M99.1 78.3h0M111.1 57.0h0M96.7 46.6h0" stroke="#900404" stroke-width="1.6" stroke-opacity="0.6" stroke-linecap="round"/><path d="M34.9 33.5h0M20.2 76.4h0M24.0 61.2h0M74.3 96.9h0M75.1 110.8h0M45.7 16.5h0M60.2 28.8h0M108.5 52.9h0" stroke="#c00808" stroke-width="1.2" stroke-opacity="0.4" stroke-linecap="round"/><path d="M27.1 27.1h0M32.6 21.6h0M81.4 10.5h0M40.9 77.6h0M24.9 58.2h0M77.8 98.2h0M59.8 99.5h0M41.2 41.7h0M69.1 39.2h0M93.9 9.7h0M91.4 24.6h0M70.0 40.1h0M105.1 86.6h0M93.7 64.8h0M96.9 75.7h0M103.4 59.9h0" stroke="#900404" stroke-width="1.2" stroke-opacity="0.8" stroke-linecap="round"/><path d="M25.9 30.9h0M36.6 78.3h0M37.5 81.0h0M31.5 77.6h0M37.1 77.1h0M18.0 59.8h0M19.0 59.8h0M23.0 58.2h0M23.0 60.5h0M51.0 98.3h0M42.7 19.2h0M50.0 47.1h0M55.4 13.3h0M78.2 25.5h0M48.1 18.9h0M119.9 28.0h0M91.4 43.8h0M83.9 26.4h0M101.5 33.8h0M106.7 49.8h0M99.1 23.5h0M88.2 86.7h0M102.2 80.4h0M96.6 44.8h0M91.2 58.6h0" stroke="#900404" stroke-width="1.2" stroke-opacity="0.6" stroke-linecap="round"/><path d="M29.3 33.8h0M23.8 29.3h0M38.2 84.2h0M39.7 79.1h0M37.1 72.6h0M35.5 80.4h0M28.3 59.4h0M100.0 73.9h0" stroke="#b00404" stroke-width="1.2" stroke-opacity="0.8" stroke-linecap="round"/><path d="M28.6 31.3h0M35.0 29.1h0M22.8 34.6h0M85.3 6.1h0M83.5 8.8h0M81.2 10.7h0M41.1 77.5h0M73.0 106.6h0M70.4 111.3h0M60.3 21.1h0M111.6 76.3h0M99.2 84.7h0M97.0 76.3h0M97.6 77.3h0M71.6 88.9h0M94.8 64.1h0M108.7 52.3h0M87.2 48.0h0M86.8 54.4h0M108.3 46.2h0" stroke="#a00606" stroke-width="1.2" stroke-opacity="0.4" stroke-linecap="round"/><path d="M22.6 23.0h0M89.8 2.3h0M81.3 10.3h0M28.7 75.5h0M36.9 79.5h0M58.3 110.2h0M82.1 101.0h0M73.7 109.4h0M38.3 27.6h0M103.3 21.0h0M91.4 28.8h0M86.2 39.5h0M116.2 22.5h0M74.2 77.1h0M90.6 62.8h0M111.2 56.7h0" stroke="#b00404" stroke-width="1.6" stroke-opacity="0.6" stroke-linecap="round"/><path d="M33.9 23.7h0M26.4 23.4h0M81.7 10.7h0M19.1 59.2h0M56.4 101.5h0M26.7 23.6h0M90.4 84.0h0M92.3 64.7h0M104.1 60.0h0M99.1 46.5h0M100.2 61.9h0" stroke="#a00606" stroke-width="1.6" stroke-opacity="0.8" stroke-linecap="round"/><path d="M30.7 29.3h0M28.3 19.2h0M23.5 79.5h0M41.6 76.4h0M35.0 75.7h0M62.4 113.1h0M62.1 100.1h0M64.2 109.4h0M59.1 25.3h0M66.3 86.0h0M83.4 64.6h0M50.6 80.4h0" stroke="#b00404" stroke-width="1.6" stroke-opacity="0.4" stroke-linecap="round"/><path d="M24.0 24.9h0M85.4 6.1h0M44.6 78.8h0M31.7 76.4h0M28.9 56.9h0M24.0 58.7h0M41.3 27.8h0M77.6 28.7h0M93.8 30.6h0M102.3 63.4h0M83.1 49.2h0" stroke="#b00404" stroke-width="0.8" stroke-opacity="0.6" stroke-linecap="round"/><path d="M37.7 24.0h0M34.9 77.2h0M32.0 59.9h0M55.0 107.2h0M64.7 98.6h0M95.1 74.9h0M114.9 75.4h0M111.0 48.3h0" stroke="#c00808" stroke-width="1.6" stroke-opacity="0.4" stroke-linecap="round"/><path d="M22.7 29.4h0M83.6 7.7h0M82.2 9.8h0M31.5 76.3h0M32.5 82.1h0M19.9 60.0h0M22.0 62.7h0M42.2 105.3h0M56.6 111.8h0M51.9 14.0h0M51.1 29.4h0M32.9 31.7h0M59.1 43.4h0M103.3 32.0h0M103.5 31.0h0M100.0 81.1h0M83.0 84.8h0M104.2 89.0h0M110.6 49.2h0" stroke="#900404" stroke-width="1.2" stroke-opacity="0.4" stroke-linecap="round"/><path d="M39.1 25.6h0M33.7 22.7h0M83.4 8.9h0" stroke="#a00606" stroke-width="0.8" stroke-opacity="0.8" stroke-linecap="round"/><path d="M35.9 22.0h0M24.0 67.8h0M64.1 103.7h0M83.6 74.5h0" stroke="#b00404" stroke-width="0.8" stroke-opacity="0.4" stroke-linecap="round"/><path d="M29.5 29.3h0M24.2 72.7h0M26.8 74.1h0M25.1 74.2h0M34.2 81.5h0M24.9 75.8h0M20.6 61.1h0M20.8 58.8h0M26.6 56.5h0M23.2 60.6h0M56.2 32.3h0M49.4 28.4h0M93.5 34.2h0M94.5 28.9h0M100.1 24.8h0M92.2 80.5h0M93.3 74.1h0M91.1 51.3h0" stroke="#b00404" stroke-width="1.2" stroke-opacity="0.4" stroke-linecap="round"/><path d="M22.8 28.5h0M101.9 86.4h0" stroke="#c00808" stroke-width="0.8" stroke-opacity="0.8" stroke-linecap="round"/><path d="M26.9 31.2h0M30.3 75.1h0M107.2 34.8h0" stroke="#900404" stroke-width="1.6" stroke-opacity="0.8" stroke-linecap="round"/><path d="M30.4 28.2h0M31.9 78.4h0M64.5 108.7h0M64.6 102.2h0M111.2 51.0h0" stroke="#a00606" stroke-width="0.8" stroke-opacity="0.6" stroke-linecap="round"/><path d="M97.0 19.5h0M70.0 67.5h0M48.4 21.2h0M51.5 38.3h0" stroke="#ff0a00" stroke-width="2.0" stroke-opacity="1.0" stroke-linecap="round"/><path d="M83.3 7.3h0M85.0 81.6h0M93.0 67.7h0M76.2 80.4h0" stroke="#900404" stroke-width="0.8" stroke-opacity="0.4" stroke-linecap="round"/><path d="M86.9 5.3h0M65.0 102.0h0M48.4 114.3h0M84.7 30.6h0M97.6 69.4h0M103.5 65.4h0" stroke="#900404" stroke-width="0.8" stroke-opacity="0.8" stroke-linecap="round"/><path d="M82.1 9.7h0M36.0 74.5h0M21.5 71.7h0M81.3 53.3h0" stroke="#900404" stroke-width="0.8" stroke-opacity="0.6" stroke-linecap="round"/><path d="M82.1 9.6h0M38.3 77.8h0M17.1 65.8h0M54.6 103.6h0M53.9 47.9h0M88.6 31.5h0M102.4 76.4h0M107.0 89.6h0M90.4 71.2h0M96.3 60.8h0" stroke="#b00404" stroke-width="1.6" stroke-opacity="0.8" stroke-linecap="round"/><path d="M86.9 5.4h0M32.0 75.8h0M21.9 57.0h0M20.3 54.2h0M58.7 116.9h0M36.7 42.2h0M53.1 44.8h0M86.3 29.9h0M67.7 37.0h0M90.6 77.5h0" stroke="#a00606" stroke-width="1.2" stroke-opacity="0.8" stroke-linecap="round"/><path d="M127.4 25.0h0M123.5 9.1h0M123.4 7.4h0M125.3 23.0h0M125.0 17.1h0M50.2 5.3h0M114.7 50.3h0M35.4 68.9h0M35.0 46.1h0M88.4 82.0h0M77.3 5.7h0M20.2 52.6h0M108.8 48.1h0M63.5 3.1h0M69.5 64.1h0M115.1 77.8h0M90.1 43.2h0M62.2 31.4h0" stroke="#800404" stroke-width="1.2" stroke-opacity="0.6" stroke-linecap="round"/><path d="M124.4 13.9h0M32.7 3.2h0M75.4 2.3h0M36.1 12.4h0" stroke="#600000" stroke-width="0.8" stroke-opacity="0.6" stroke-linecap="round"/><path d="M127.4 24.4h0M126.2 22.9h0M25.9 85.2h0M106.1 63.0h0M88.8 9.8h0M107.8 30.6h0M109.1 40.1h0M37.2 94.1h0M36.5 81.4h0M26.3 91.0h0M25.0 31.7h0" stroke="#600000" stroke-width="0.8" stroke-opacity="0.4" stroke-linecap="round"/><path d="M124.8 11.8h0M128.1 22.9h0M124.2 8.2h0M124.7 8.7h0M125.9 20.4h0M127.2 20.0h0M22.1 89.7h0M108.6 41.1h0M71.8 41.5h0M124.4 58.3h0M53.2 65.6h0M22.1 36.1h0M54.6 33.7h0M83.5 58.7h0M94.8 109.2h0M65.4 14.4h0M92.6 91.0h0M51.9 8.1h0M111.6 30.2h0M42.9 21.2h0M90.4 44.8h0M105.5 100.5h0M64.2 99.8h0M106.4 25.7h0" stroke="#700202" stroke-width="1.2" stroke-opacity="0.4" stroke-linecap="round"/><path d="M126.1 18.7h0M20.6 85.8h0M47.6 11.7h0M88.6 88.2h0M43.1 48.3h0M91.6 71.4h0M100.0 109.1h0" stroke="#800404" stroke-width="0.8" stroke-opacity="0.4" stroke-linecap="round"/><path d="M123.6 7.6h0M127.9 24.4h0M125.8 88.0h0M64.8 91.3h0M123.0 104.7h0M93.2 26.5h0M128.8 38.1h0M96.0 77.2h0M121.7 115.9h0M61.5 13.0h0M43.0 100.0h0M88.4 34.7h0" stroke="#600000" stroke-width="1.2" stroke-opacity="0.6" stroke-linecap="round"/><path d="M124.5 12.8h0M125.7 24.6h0M128.5 25.8h0M25.8 93.7h0M56.7 39.6h0M33.2 40.0h0M53.4 106.7h0M77.6 36.8h0M45.5 42.4h0M67.5 83.2h0M76.3 12.1h0M24.1 106.6h0M39.9 69.9h0M52.4 99.0h0" stroke="#700202" stroke-width="1.2" stroke-opacity="0.6" stroke-linecap="round"/><path d="M128.6 23.8h0M125.1 15.8h0M23.7 88.5h0M114.3 27.4h0M88.3 25.9h0M130.5 57.3h0M95.4 26.9h0" stroke="#700202" stroke-width="0.8" stroke-opacity="0.4" stroke-linecap="round"/><path d="M125.8 16.2h0M24.2 91.4h0M20.9 87.3h0M19.8 88.9h0M20.8 92.3h0M28.3 93.3h0M49.4 42.3h0M22.5 68.4h0M56.0 69.0h0M26.2 74.9h0M97.2 36.8h0M38.0 31.0h0M78.5 84.3h0M63.1 49.2h0M79.2 4.5h0M50.0 99.7h0M73.1 19.4h0M84.1 18.1h0M116.4 6.6h0" stroke="#800404" stroke-width="1.2" stroke-opacity="0.4" stroke-linecap="round"/><path d="M122.4 8.3h0M21.2 88.7h0M127.7 108.4h0M85.1 80.8h0M37.5 88.0h0M91.9 36.6h0M37.2 103.0h0M36.8 6.4h0M62.5 110.9h0M61.3 51.7h0M73.5 25.2h0M41.8 6.8h0M95.6 75.1h0M65.4 72.3h0M128.1 97.6h0M51.3 31.4h0" stroke="#600000" stroke-width="1.2" stroke-opacity="0.4" stroke-linecap="round"/><path d="M127.4 25.8h0M26.6 93.7h0M113.0 58.4h0M44.8 110.0h0" stroke="#800404" stroke-width="0.8" stroke-opacity="0.6" stroke-linecap="round"/><path d="M25.0 77.5h0M18.5 68.1h0M31.3 59.7h0M62.2 104.9h0M77.2 105.9h0M70.8 112.6h0M100.5 33.5h0M91.6 61.9h0" stroke="#c00808" stroke-width="1.6" stroke-opacity="0.8" stroke-linecap="round"/><path d="M29.5 74.4h0M40.1 78.0h0M20.9 58.0h0M98.1 77.3h0" stroke="#a00606" stroke-width="0.8" stroke-opacity="0.4" stroke-linecap="round"/><path d="M20.3 76.5h0M19.0 62.9h0M25.1 58.8h0M65.5 117.0h0M101.5 18.6h0" stroke="#c00808" stroke-width="0.8" stroke-opacity="0.4" stroke-linecap="round"/><path d="M44.2 80.7h0" stroke="#b00404" stroke-width="0.8" stroke-opacity="0.8" stroke-linecap="round"/><path d="M22.7 59.4h0M78.8 31.7h0M99.7 25.5h0M94.5 85.1h0M92.2 63.2h0" stroke="#a00606" stroke-width="1.6" stroke-opacity="0.4" stroke-linecap="round"/><path d="M18.4 91.3h0M85.8 110.4h0M114.0 56.1h0M103.0 93.7h0M108.3 35.0h0M106.7 34.1h0M20.0 2.5h0M128.8 18.8h0M100.6 59.0h0M54.7 20.6h0" stroke="#700202" stroke-width="0.8" stroke-opacity="0.6" stroke-linecap="round"/></g></g>
<g clip-path="url(#cA2)"><rect x="135" y="2" width="115" height="114" fill="#070000"/><g filter="url(#soft)"><path d="M142.4 45.4h0M141.4 27.7h0M139.6 18.1h0M147.0 17.6h0M176.6 77.1h0M171.3 73.8h0M177.5 78.0h0M149.0 74.2h0M203.1 40.2h0M199.6 57.8h0M209.3 52.5h0M191.9 48.9h0M204.0 57.9h0M205.1 59.9h0M193.9 58.0h0M227.1 8.9h0" stroke="#a00606" stroke-width="1.6" stroke-opacity="0.4" stroke-linecap="round"/><path d="M140.8 16.1h0M137.5 17.2h0M138.4 16.6h0M143.8 17.8h0M158.7 56.1h0M156.6 56.7h0M163.7 70.8h0M148.2 82.0h0M204.1 54.6h0M213.9 45.4h0M187.2 52.4h0M223.2 22.0h0M228.5 6.4h0M169.4 92.0h0M181.4 63.1h0M142.7 78.3h0M178.0 38.1h0" stroke="#900404" stroke-width="1.2" stroke-opacity="0.8" stroke-linecap="round"/><path d="M140.1 39.1h0M139.9 38.5h0M142.8 46.9h0M146.4 19.8h0M148.3 21.9h0M147.7 19.0h0M144.5 20.1h0M153.5 58.8h0M213.6 48.6h0M200.0 59.9h0M203.9 40.3h0M210.6 52.4h0M208.5 48.0h0M204.8 34.4h0M246.1 3.6h0M247.8 9.4h0M157.9 86.3h0M167.7 83.3h0" stroke="#900404" stroke-width="1.6" stroke-opacity="0.4" stroke-linecap="round"/><path d="M139.9 34.3h0M138.0 31.1h0M142.5 40.9h0M138.4 17.6h0M143.5 18.6h0M153.2 53.6h0M147.5 73.6h0M190.2 42.1h0M210.3 51.4h0M187.9 53.8h0M222.0 7.5h0M221.0 8.3h0M231.2 17.9h0M246.2 2.6h0M151.3 26.6h0M175.0 50.8h0M152.8 51.2h0M172.7 65.6h0M180.2 55.6h0" stroke="#900404" stroke-width="1.6" stroke-opacity="0.6" stroke-linecap="round"/><path d="M144.1 46.1h0M138.3 29.9h0M142.9 24.4h0M140.5 15.7h0M143.1 37.3h0M143.0 16.6h0M155.1 56.9h0M144.9 51.9h0M164.9 68.1h0M162.0 63.7h0M167.8 71.7h0M178.0 76.4h0M186.1 82.0h0M174.6 79.2h0M152.3 78.9h0M199.6 57.9h0M190.3 56.5h0M202.0 57.6h0M209.6 49.7h0M222.9 19.7h0M234.9 15.9h0M224.8 9.8h0M226.4 21.4h0M219.3 12.1h0M219.9 20.9h0M219.2 17.3h0M230.0 19.1h0M217.3 17.6h0M162.2 92.4h0M151.0 9.5h0M169.1 68.9h0M182.2 43.2h0M147.0 56.7h0" stroke="#b00404" stroke-width="1.2" stroke-opacity="0.6" stroke-linecap="round"/><path d="M140.3 30.3h0M155.1 57.4h0M169.2 76.2h0M165.1 61.6h0M170.0 66.4h0M165.5 65.6h0M184.0 80.8h0M174.0 77.4h0M151.6 79.5h0M213.2 44.6h0M195.4 56.6h0M197.6 35.1h0M204.0 37.3h0M194.1 39.8h0M198.5 58.3h0M229.6 8.2h0M233.4 10.9h0M232.2 18.8h0M248.2 9.2h0M248.2 8.4h0M170.9 91.8h0M169.1 89.2h0M150.8 28.0h0M153.5 91.5h0M164.9 96.7h0M171.6 57.8h0M178.1 88.5h0" stroke="#a00606" stroke-width="1.2" stroke-opacity="0.6" stroke-linecap="round"/><path d="M141.8 26.4h0M164.1 63.1h0M164.0 64.9h0M174.7 74.5h0M154.7 81.9h0M193.1 54.9h0M205.0 60.9h0M149.3 95.2h0M139.6 74.0h0M161.8 68.1h0" stroke="#b00404" stroke-width="1.6" stroke-opacity="0.8" stroke-linecap="round"/><path d="M140.7 33.8h0M151.7 22.1h0M150.5 21.1h0M154.3 54.0h0M163.6 67.2h0M164.5 64.6h0M176.9 77.4h0M179.9 78.1h0M151.0 73.0h0M205.1 58.2h0M200.5 57.4h0M233.5 15.3h0M215.2 15.8h0M226.1 8.0h0M173.1 93.7h0M184.1 73.4h0" stroke="#c00808" stroke-width="1.2" stroke-opacity="0.8" stroke-linecap="round"/><path d="M141.5 45.9h0M138.4 44.7h0M144.7 46.1h0M141.1 35.9h0M157.4 63.8h0M161.8 63.0h0M171.9 78.2h0M168.2 64.0h0M178.1 80.1h0M184.1 81.4h0M154.1 77.3h0M151.9 76.5h0M230.5 11.3h0M221.7 7.1h0M218.7 13.1h0M234.2 14.6h0M223.8 20.9h0M232.0 11.4h0M178.9 6.7h0" stroke="#a00606" stroke-width="1.2" stroke-opacity="0.4" stroke-linecap="round"/><path d="M142.0 40.9h0M141.3 48.1h0M140.3 22.4h0M151.1 23.7h0M144.9 49.4h0M153.4 54.6h0M148.9 50.8h0M155.2 60.9h0M169.2 76.4h0M163.5 68.6h0M163.2 63.5h0M183.5 82.0h0M174.7 77.6h0M148.3 64.0h0M145.8 65.3h0M226.4 8.3h0M228.2 20.8h0M222.4 9.6h0M220.3 11.6h0M166.2 92.1h0M170.8 65.6h0M161.9 21.2h0M151.7 64.7h0M180.5 28.8h0" stroke="#900404" stroke-width="1.2" stroke-opacity="0.4" stroke-linecap="round"/><path d="M144.6 26.4h0M141.5 27.0h0M141.6 22.4h0M147.8 20.4h0M144.3 16.6h0M153.5 21.1h0M147.8 21.7h0M161.8 63.0h0M157.3 57.8h0M151.2 51.6h0M153.0 54.6h0M150.9 53.1h0M155.7 53.1h0M165.5 66.0h0M184.6 83.6h0M183.3 80.5h0M172.0 78.9h0M177.6 77.2h0M148.2 74.5h0M196.2 35.8h0M202.3 58.4h0M210.6 41.3h0M211.4 39.3h0M187.5 50.0h0M203.8 55.2h0M195.5 55.2h0M226.5 21.2h0M219.7 11.6h0M231.0 17.1h0M248.1 9.6h0M245.7 5.1h0" stroke="#c00808" stroke-width="1.2" stroke-opacity="0.6" stroke-linecap="round"/><path d="M136.7 28.6h0M214.6 43.3h0" stroke="#a00606" stroke-width="0.8" stroke-opacity="0.8" stroke-linecap="round"/><path d="M139.6 25.0h0M140.8 34.2h0M142.2 48.8h0M147.2 20.9h0M151.1 54.6h0M157.7 62.0h0M153.2 60.9h0M162.1 66.1h0M179.2 80.7h0M178.5 76.4h0M152.7 72.1h0M149.7 69.8h0M212.8 40.5h0M188.9 36.5h0M202.1 39.1h0M208.9 44.2h0M194.9 38.4h0M206.9 57.1h0M219.1 11.0h0M226.0 22.1h0M230.6 8.5h0M169.9 29.0h0M147.2 7.0h0M149.2 38.6h0" stroke="#b00404" stroke-width="1.6" stroke-opacity="0.6" stroke-linecap="round"/><path d="M142.6 24.9h0M137.6 22.4h0M149.6 19.9h0M144.3 18.7h0M146.4 47.1h0M143.3 47.3h0M147.4 49.9h0M160.2 61.6h0M164.4 62.6h0M182.8 82.5h0M172.0 80.2h0M178.8 76.5h0M147.5 67.6h0M146.4 65.2h0M204.6 57.9h0M207.8 33.8h0M206.1 56.4h0M199.3 33.7h0M206.4 41.9h0M190.7 50.2h0M201.0 57.5h0M189.9 45.0h0M195.0 55.6h0M229.6 20.3h0M219.5 10.2h0M246.0 5.7h0M246.0 3.1h0M166.5 90.2h0M168.4 91.3h0" stroke="#a00606" stroke-width="1.6" stroke-opacity="0.6" stroke-linecap="round"/><path d="M137.9 31.3h0M145.4 29.4h0M157.3 62.4h0M154.1 77.3h0M150.5 77.3h0M201.3 35.7h0M189.3 42.7h0M186.5 48.2h0M201.8 38.9h0M189.7 38.5h0M191.4 59.0h0M207.6 56.5h0M166.1 90.2h0M183.1 63.3h0M151.8 79.0h0" stroke="#a00606" stroke-width="1.2" stroke-opacity="0.8" stroke-linecap="round"/><path d="M140.3 35.4h0M172.2 73.3h0M161.7 62.9h0M172.9 72.7h0M173.0 74.0h0M227.9 20.0h0M164.6 94.0h0M181.6 44.4h0" stroke="#900404" stroke-width="1.6" stroke-opacity="0.8" stroke-linecap="round"/><path d="M142.8 30.9h0M154.1 24.5h0M182.2 80.1h0M204.8 40.6h0M220.8 17.1h0M224.3 8.6h0M246.9 3.6h0M165.0 17.3h0" stroke="#a00606" stroke-width="0.8" stroke-opacity="0.4" stroke-linecap="round"/><path d="M141.4 31.1h0M139.9 20.5h0M141.1 39.5h0M152.5 22.5h0M142.0 17.5h0M152.6 54.7h0M143.7 51.3h0M165.2 68.7h0M162.0 68.2h0M171.6 71.4h0M174.2 78.5h0M149.0 66.7h0M210.5 39.1h0M188.3 54.5h0M185.1 49.9h0M198.4 56.6h0M234.1 15.3h0M226.9 22.9h0M228.4 19.4h0M169.4 90.1h0M180.6 85.4h0M167.3 80.1h0M169.9 31.8h0M146.7 71.8h0" stroke="#c00808" stroke-width="1.6" stroke-opacity="0.6" stroke-linecap="round"/><path d="M141.0 21.2h0M157.8 55.2h0M167.1 70.5h0M166.5 65.8h0M151.7 81.8h0M192.5 51.7h0M234.2 12.8h0" stroke="#a00606" stroke-width="1.6" stroke-opacity="0.8" stroke-linecap="round"/><path d="M142.8 38.6h0M144.6 18.2h0M146.5 49.3h0M170.5 68.5h0M167.3 66.8h0M161.3 63.0h0M179.1 77.4h0M153.3 76.3h0M209.1 50.1h0M188.8 49.1h0M213.8 48.7h0M247.5 6.7h0M147.3 98.5h0" stroke="#b00404" stroke-width="1.6" stroke-opacity="0.4" stroke-linecap="round"/><path d="M139.2 20.7h0M162.8 59.9h0M144.8 54.5h0M144.8 50.1h0M150.0 59.2h0M200.8 56.8h0M191.7 56.9h0M188.6 43.6h0M221.0 9.2h0M167.3 95.8h0" stroke="#c00808" stroke-width="0.8" stroke-opacity="0.6" stroke-linecap="round"/><path d="M138.9 20.0h0M210.8 44.1h0M233.7 12.7h0M231.9 20.1h0M181.2 35.4h0M144.6 98.4h0" stroke="#c00808" stroke-width="1.6" stroke-opacity="0.8" stroke-linecap="round"/><path d="M140.6 23.4h0M141.1 21.1h0M141.7 48.2h0M158.0 63.2h0M160.9 64.7h0M175.7 80.8h0M169.3 78.4h0M148.0 67.6h0M190.5 43.0h0M194.8 57.6h0M200.3 34.5h0M206.3 36.7h0M219.7 19.1h0M228.1 7.6h0M219.5 15.8h0M233.2 11.2h0M246.7 6.3h0M171.9 92.4h0M171.8 93.2h0M146.0 32.2h0" stroke="#c00808" stroke-width="1.6" stroke-opacity="0.4" stroke-linecap="round"/><path d="M141.9 26.8h0M158.7 39.4h0M163.0 70.0h0" stroke="#b00404" stroke-width="0.8" stroke-opacity="0.8" stroke-linecap="round"/><path d="M140.8 33.3h0M141.2 39.3h0M154.3 54.9h0M149.1 54.9h0M138.3 47.5h0M152.9 58.8h0M166.3 72.6h0M165.0 65.0h0M162.9 64.4h0M169.9 72.2h0M179.9 76.4h0M167.3 72.5h0M194.6 38.8h0M189.3 45.0h0M205.9 36.0h0M190.2 54.6h0M224.3 7.0h0M217.2 12.5h0M229.5 21.3h0M220.2 12.5h0M184.7 90.6h0M177.3 23.3h0M157.4 70.0h0" stroke="#900404" stroke-width="1.2" stroke-opacity="0.6" stroke-linecap="round"/><path d="M143.3 44.8h0M143.9 50.2h0M152.9 48.2h0M165.0 66.9h0M165.0 69.2h0M178.9 80.9h0M180.7 81.7h0M174.6 78.3h0M148.4 74.1h0M151.7 65.9h0M195.1 62.2h0M208.7 53.8h0M209.2 44.4h0M211.6 54.2h0M203.1 36.8h0M230.9 7.5h0M219.3 20.6h0M223.5 9.1h0M231.9 9.8h0M247.2 5.3h0" stroke="#c00808" stroke-width="1.2" stroke-opacity="0.4" stroke-linecap="round"/><path d="M139.2 28.1h0M142.5 29.3h0M160.6 59.1h0M149.2 81.0h0M148.0 76.9h0M211.8 44.0h0M186.6 53.5h0M200.9 37.4h0M247.0 9.2h0" stroke="#b00404" stroke-width="1.2" stroke-opacity="0.8" stroke-linecap="round"/><path d="M144.7 31.3h0M165.6 73.2h0M171.7 74.6h0M166.1 63.1h0M187.3 84.1h0M176.1 78.1h0M150.4 77.4h0M206.6 36.8h0M203.5 59.3h0M210.7 45.3h0M210.9 53.6h0M205.9 36.1h0M197.6 59.4h0M220.8 10.9h0M216.7 10.0h0M228.2 20.2h0M174.4 39.9h0M177.4 42.7h0M178.0 55.0h0M161.2 94.7h0M163.7 7.3h0M177.4 20.8h0" stroke="#b00404" stroke-width="1.2" stroke-opacity="0.4" stroke-linecap="round"/><path d="M140.1 29.1h0M149.6 20.6h0M149.3 48.9h0M182.8 79.9h0M152.8 80.1h0M146.6 69.5h0M163.3 92.3h0M148.2 2.9h0M179.0 49.2h0" stroke="#c00808" stroke-width="0.8" stroke-opacity="0.4" stroke-linecap="round"/><path d="M139.7 22.9h0M154.6 60.0h0M145.2 51.0h0M179.1 79.1h0M207.8 59.0h0" stroke="#a00606" stroke-width="0.8" stroke-opacity="0.6" stroke-linecap="round"/><path d="M150.0 24.0h0M174.9 78.4h0M227.8 20.7h0M233.5 14.4h0" stroke="#900404" stroke-width="0.8" stroke-opacity="0.8" stroke-linecap="round"/><path d="M147.0 18.9h0M166.2 62.0h0M187.2 84.1h0" stroke="#900404" stroke-width="0.8" stroke-opacity="0.4" stroke-linecap="round"/><path d="M140.6 28.9h0M142.3 39.4h0M159.9 28.6h0" stroke="#ff1208" stroke-width="1.2" stroke-opacity="0.6" stroke-linecap="round"/><path d="M139.6 32.2h0M187.6 46.7h0M220.0 14.1h0M160.9 28.5h0" stroke="#f00c04" stroke-width="1.6" stroke-opacity="1.0" stroke-linecap="round"/><path d="M143.2 36.6h0" stroke="#e80a04" stroke-width="2.0" stroke-opacity="0.6" stroke-linecap="round"/><path d="M142.8 35.0h0M142.4 31.2h0M166.2 68.7h0M188.9 53.6h0M185.3 42.7h0M187.3 49.7h0M160.8 28.1h0" stroke="#ff1208" stroke-width="1.2" stroke-opacity="0.8" stroke-linecap="round"/><path d="M141.5 35.6h0" stroke="#ff1208" stroke-width="2.0" stroke-opacity="0.8" stroke-linecap="round"/><path d="M144.7 38.3h0M223.2 10.8h0" stroke="#ff2414" stroke-width="2.0" stroke-opacity="0.8" stroke-linecap="round"/><path d="M144.2 34.7h0M190.4 49.3h0" stroke="#f00c04" stroke-width="1.6" stroke-opacity="0.6" stroke-linecap="round"/><path d="M142.9 36.8h0" stroke="#ff0a00" stroke-width="2.0" stroke-opacity="0.8" stroke-linecap="round"/><path d="M141.3 32.1h0M138.4 33.1h0M191.0 54.1h0M189.3 43.4h0" stroke="#ff0a00" stroke-width="1.6" stroke-opacity="1.0" stroke-linecap="round"/><path d="M141.3 34.8h0M142.0 33.7h0M165.0 64.9h0" stroke="#ff1208" stroke-width="1.6" stroke-opacity="0.8" stroke-linecap="round"/><path d="M139.6 34.5h0M184.2 67.5h0M182.6 55.7h0" stroke="#ff0a00" stroke-width="1.2" stroke-opacity="0.8" stroke-linecap="round"/><path d="M141.9 41.4h0M169.2 70.3h0M178.0 79.1h0M186.1 45.3h0M190.1 50.0h0" stroke="#ff2414" stroke-width="1.2" stroke-opacity="0.8" stroke-linecap="round"/><path d="M139.7 36.1h0M138.0 40.5h0M185.3 62.5h0" stroke="#e80a04" stroke-width="1.6" stroke-opacity="0.6" stroke-linecap="round"/><path d="M144.7 49.7h0M143.5 72.4h0M189.4 46.4h0M200.4 34.7h0M162.2 85.3h0M164.3 82.0h0" stroke="#c00808" stroke-width="0.8" stroke-opacity="0.8" stroke-linecap="round"/><path d="M155.8 62.8h0M157.0 63.4h0M201.6 35.8h0M247.2 5.9h0" stroke="#b00404" stroke-width="0.8" stroke-opacity="0.4" stroke-linecap="round"/><path d="M155.9 55.6h0M163.1 64.1h0M167.6 68.4h0M223.0 20.5h0M232.7 20.5h0M232.5 12.7h0M167.5 92.8h0M135.7 29.4h0" stroke="#900404" stroke-width="0.8" stroke-opacity="0.6" stroke-linecap="round"/><path d="M163.7 66.9h0M181.0 78.7h0M175.2 78.6h0M179.2 81.9h0M197.4 55.0h0M203.4 37.1h0M217.0 18.5h0" stroke="#b00404" stroke-width="0.8" stroke-opacity="0.6" stroke-linecap="round"/><path d="M166.9 67.6h0M159.9 28.1h0" stroke="#ff1208" stroke-width="1.6" stroke-opacity="1.0" stroke-linecap="round"/><path d="M161.3 62.0h0M168.2 69.9h0M161.8 29.9h0" stroke="#ff2414" stroke-width="1.6" stroke-opacity="0.8" stroke-linecap="round"/><path d="M161.7 63.1h0" stroke="#ff0a00" stroke-width="1.2" stroke-opacity="1.0" stroke-linecap="round"/><path d="M166.9 66.5h0M162.5 63.1h0M187.8 58.4h0" stroke="#e80a04" stroke-width="1.6" stroke-opacity="0.8" stroke-linecap="round"/><path d="M168.3 68.0h0M165.4 68.1h0M181.0 79.2h0M182.5 79.2h0M173.6 78.0h0M183.8 46.7h0M187.7 53.0h0M159.7 30.0h0" stroke="#f00c04" stroke-width="1.6" stroke-opacity="0.8" stroke-linecap="round"/><path d="M169.6 69.3h0M165.1 64.4h0M188.2 45.8h0M186.7 52.6h0M221.2 11.0h0" stroke="#ff0a00" stroke-width="1.6" stroke-opacity="0.6" stroke-linecap="round"/><path d="M172.8 72.1h0M182.5 60.0h0" stroke="#e80a04" stroke-width="1.2" stroke-opacity="1.0" stroke-linecap="round"/><path d="M167.8 71.3h0M177.0 77.7h0M191.1 51.3h0" stroke="#ff2414" stroke-width="1.6" stroke-opacity="1.0" stroke-linecap="round"/><path d="M169.0 70.9h0M183.3 80.9h0M182.8 43.0h0" stroke="#ff2414" stroke-width="1.6" stroke-opacity="0.6" stroke-linecap="round"/><path d="M163.2 65.3h0M175.6 78.2h0M186.7 39.0h0" stroke="#ff1208" stroke-width="1.6" stroke-opacity="0.6" stroke-linecap="round"/><path d="M167.1 67.3h0" stroke="#f00c04" stroke-width="1.2" stroke-opacity="0.8" stroke-linecap="round"/><path d="M167.3 68.0h0" stroke="#ff2414" stroke-width="1.2" stroke-opacity="0.6" stroke-linecap="round"/><path d="M164.3 67.3h0M189.1 43.6h0M189.5 43.5h0" stroke="#ff0a00" stroke-width="1.6" stroke-opacity="0.8" stroke-linecap="round"/><path d="M183.8 81.9h0M175.9 81.7h0M181.1 77.9h0M222.2 7.8h0M160.0 27.3h0" stroke="#f00c04" stroke-width="1.2" stroke-opacity="1.0" stroke-linecap="round"/><path d="M177.6 78.8h0" stroke="#ff0a00" stroke-width="2.0" stroke-opacity="1.0" stroke-linecap="round"/><path d="M183.4 81.8h0M159.8 26.7h0" stroke="#ff1208" stroke-width="1.2" stroke-opacity="1.0" stroke-linecap="round"/><path d="M186.1 55.6h0M223.6 12.6h0" stroke="#ff2414" stroke-width="2.0" stroke-opacity="0.6" stroke-linecap="round"/><path d="M186.6 50.1h0M185.1 47.9h0" stroke="#ff2414" stroke-width="1.2" stroke-opacity="1.0" stroke-linecap="round"/><path d="M184.2 47.9h0" stroke="#f00c04" stroke-width="1.2" stroke-opacity="0.6" stroke-linecap="round"/><path d="M187.9 58.8h0" stroke="#f00c04" stroke-width="2.0" stroke-opacity="0.6" stroke-linecap="round"/><path d="M186.3 30.9h0M191.6 39.5h0" stroke="#e80a04" stroke-width="1.6" stroke-opacity="1.0" stroke-linecap="round"/><path d="M180.9 54.5h0M218.5 10.7h0" stroke="#f00c04" stroke-width="2.0" stroke-opacity="0.8" stroke-linecap="round"/><path d="M191.1 52.7h0" stroke="#e80a04" stroke-width="1.2" stroke-opacity="0.8" stroke-linecap="round"/><path d="M186.4 37.5h0" stroke="#ff1208" stroke-width="2.0" stroke-opacity="0.6" stroke-linecap="round"/><path d="M183.5 51.1h0" stroke="#e80a04" stroke-width="1.2" stroke-opacity="0.6" stroke-linecap="round"/><path d="M220.6 14.4h0" stroke="#ff0a00" stroke-width="2.0" stroke-opacity="0.6" stroke-linecap="round"/><path d="M197.3 7.8h0M185.7 25.1h0M165.9 30.2h0M154.3 30.3h0M197.3 58.1h0M206.9 65.1h0M199.8 60.7h0M202.8 68.9h0M163.1 95.3h0M188.9 4.7h0M137.7 83.5h0M151.7 42.0h0M173.4 78.8h0M179.9 43.2h0M163.1 101.6h0M155.9 93.7h0M185.3 25.1h0M172.2 88.7h0M147.2 114.4h0" stroke="#700202" stroke-width="0.8" stroke-opacity="0.6" stroke-linecap="round"/><path d="M204.2 4.1h0M201.7 7.2h0M191.8 16.0h0M202.9 8.6h0M158.5 28.3h0M150.2 38.2h0M148.6 49.9h0M179.6 31.6h0M166.8 16.9h0M175.8 37.0h0M147.9 16.7h0M165.9 31.1h0M172.6 32.9h0M168.4 19.3h0M175.5 11.6h0M158.3 37.5h0M162.4 29.6h0M204.0 62.9h0M200.7 63.5h0M176.8 69.7h0M188.9 36.1h0M188.0 15.5h0M161.8 72.8h0M165.6 53.1h0M139.7 4.6h0M139.4 66.2h0M196.5 34.7h0M159.7 64.2h0M136.7 49.5h0M199.4 26.9h0M161.6 59.1h0M178.0 115.4h0M187.6 113.0h0M164.1 25.5h0M139.1 14.1h0M183.3 102.6h0M163.5 23.0h0M159.4 64.3h0M198.0 56.0h0M184.2 111.1h0M196.0 113.6h0M203.0 15.1h0M200.3 23.1h0M194.3 87.3h0M172.2 94.9h0M138.9 39.7h0M136.9 95.0h0M165.3 115.3h0M163.9 15.1h0M203.2 97.9h0M204.6 69.8h0M156.6 89.8h0M188.6 22.4h0M154.6 90.0h0" stroke="#600000" stroke-width="1.2" stroke-opacity="0.4" stroke-linecap="round"/><path d="M193.8 15.4h0M192.9 12.2h0M148.7 33.2h0M154.5 45.4h0M186.3 43.6h0M164.8 34.3h0M157.8 36.5h0M187.4 10.3h0M194.3 59.6h0M189.8 66.9h0M189.1 64.2h0M181.4 113.4h0M172.4 48.1h0M168.6 69.7h0M153.4 61.6h0M166.7 80.8h0M155.0 21.3h0M155.6 3.5h0M196.2 69.5h0M136.4 84.5h0M171.8 102.7h0M199.2 15.7h0M147.6 114.9h0" stroke="#800404" stroke-width="0.8" stroke-opacity="0.4" stroke-linecap="round"/><path d="M203.4 6.7h0M201.5 10.5h0M160.5 19.1h0M174.1 44.3h0M161.9 36.1h0M150.2 32.2h0M153.8 16.4h0M170.5 32.6h0M161.1 34.0h0M187.2 60.5h0M199.5 66.8h0M201.6 57.5h0M196.1 60.6h0M206.4 64.1h0M174.7 49.5h0M145.8 56.6h0M155.7 107.1h0M193.7 37.1h0M146.7 102.8h0M145.1 68.6h0M169.3 4.0h0M186.2 112.1h0M159.2 78.8h0M196.8 32.7h0M179.4 110.6h0M151.9 86.6h0M198.8 89.6h0M148.6 62.9h0M166.2 43.9h0M144.7 44.7h0M169.7 33.9h0M169.2 76.5h0" stroke="#800404" stroke-width="0.8" stroke-opacity="0.6" stroke-linecap="round"/><path d="M200.5 8.5h0M199.5 12.9h0M195.1 11.9h0M196.5 11.6h0M202.4 6.6h0M195.0 9.8h0M193.5 19.0h0M184.1 38.5h0M171.8 26.2h0M164.4 43.6h0M153.0 28.4h0M165.9 16.6h0M195.9 29.3h0M186.1 59.1h0M167.1 91.8h0M149.9 26.1h0M147.0 45.0h0M144.9 14.8h0M149.6 82.1h0M169.7 54.3h0M175.8 88.6h0M154.7 10.0h0M192.4 64.4h0M174.5 61.5h0M166.4 89.8h0M173.9 110.3h0M174.3 36.8h0M164.4 64.7h0M193.3 79.7h0M177.7 79.5h0M178.0 46.3h0M182.3 20.1h0M185.7 31.1h0M204.0 112.4h0M193.2 76.9h0M150.8 48.3h0M202.3 24.6h0M137.4 46.2h0" stroke="#800404" stroke-width="1.2" stroke-opacity="0.6" stroke-linecap="round"/><path d="M196.8 9.6h0M194.5 13.3h0M192.8 14.8h0M156.1 30.6h0M163.3 50.2h0M159.2 21.9h0M175.8 27.1h0M157.1 35.3h0M175.8 30.2h0M174.6 54.5h0M165.9 12.4h0M203.0 65.3h0M188.3 86.8h0M199.0 62.4h0M204.2 29.4h0M183.2 51.9h0M167.9 29.7h0M156.6 72.3h0M146.2 5.6h0M151.8 84.3h0M166.9 11.2h0M197.7 25.7h0M188.2 60.7h0M169.7 36.8h0M200.4 65.5h0M185.0 100.8h0M138.8 48.1h0M188.7 35.7h0M156.3 48.3h0M149.4 102.5h0M162.1 74.0h0M155.1 49.0h0M176.8 44.3h0M153.6 90.5h0M160.9 49.3h0M189.2 98.7h0M178.8 78.5h0M174.2 11.6h0M193.3 11.3h0" stroke="#800404" stroke-width="1.2" stroke-opacity="0.4" stroke-linecap="round"/><path d="M191.7 14.8h0M203.1 6.0h0M191.3 16.8h0M167.9 25.5h0M174.4 38.2h0M143.4 28.3h0M210.9 65.1h0M186.0 67.7h0M186.8 46.9h0M187.7 82.8h0M138.2 49.8h0M151.8 6.8h0M143.4 7.4h0M193.5 56.4h0M145.4 62.7h0M172.4 103.2h0M177.3 104.8h0M188.4 27.3h0M191.0 24.0h0M177.5 12.5h0M152.3 46.9h0" stroke="#700202" stroke-width="0.8" stroke-opacity="0.4" stroke-linecap="round"/><path d="M197.7 13.0h0M204.3 5.1h0M200.6 10.3h0M167.4 23.3h0M166.6 6.9h0M171.2 55.8h0M155.9 38.5h0M142.9 37.8h0M162.1 54.1h0M163.6 41.6h0M177.2 23.4h0M161.5 39.4h0M149.7 41.1h0M175.9 24.5h0M170.5 54.0h0M166.3 40.4h0M192.8 59.1h0M199.4 68.7h0M189.9 62.3h0M201.5 67.3h0M192.6 57.9h0M141.1 55.0h0M164.5 86.5h0M163.9 18.9h0M152.0 64.6h0M137.3 95.5h0M183.7 90.3h0M199.5 36.9h0M145.8 64.2h0M170.3 83.0h0M149.1 54.0h0M174.0 80.6h0M148.8 105.1h0M204.3 19.1h0M196.6 100.6h0M181.1 24.1h0M175.9 47.2h0M179.7 43.1h0M201.0 60.6h0M174.3 16.6h0M150.0 73.4h0M170.6 3.3h0M189.4 23.1h0M191.2 14.0h0M155.1 22.3h0M168.8 21.9h0M193.2 63.2h0M195.3 19.2h0" stroke="#700202" stroke-width="1.2" stroke-opacity="0.6" stroke-linecap="round"/><path d="M155.8 36.4h0M160.4 24.5h0M149.1 30.4h0M177.3 7.4h0M158.6 33.6h0M162.4 47.0h0M201.6 60.6h0M143.1 6.5h0M189.9 38.0h0M153.7 16.0h0M159.5 11.8h0M143.6 60.7h0M189.4 76.6h0M179.7 61.8h0M197.4 57.2h0M176.7 103.7h0M159.3 30.9h0M190.6 39.0h0M143.4 63.4h0M167.6 112.0h0M188.1 68.2h0M168.1 82.9h0M190.9 47.4h0M145.4 61.6h0" stroke="#600000" stroke-width="0.8" stroke-opacity="0.4" stroke-linecap="round"/><path d="M188.3 32.4h0M164.9 33.9h0M168.0 25.3h0M192.5 68.2h0M182.8 66.0h0M179.0 41.5h0M178.9 86.5h0M135.8 53.3h0M186.1 19.3h0M166.2 110.6h0M175.5 20.3h0M185.4 33.4h0M137.4 114.1h0M145.3 43.6h0M136.8 56.2h0" stroke="#600000" stroke-width="0.8" stroke-opacity="0.6" stroke-linecap="round"/><path d="M164.9 15.6h0M163.6 44.9h0M171.7 49.9h0M163.8 39.8h0M159.2 22.7h0M171.4 35.6h0M195.2 65.7h0M207.2 68.4h0M182.5 61.4h0M205.0 65.2h0M183.8 91.9h0M186.2 88.5h0M184.1 61.3h0M180.2 63.0h0M191.9 50.3h0M148.0 110.2h0M140.1 60.5h0M201.9 31.0h0M194.8 95.4h0M137.2 17.6h0M188.5 87.1h0M188.7 91.2h0M183.0 55.1h0M175.7 81.5h0M142.3 112.5h0M163.4 3.0h0M173.9 86.5h0M138.2 39.6h0M161.1 105.3h0M180.1 58.5h0M195.2 63.5h0M139.4 92.0h0M165.6 76.5h0M188.9 53.4h0M189.8 95.6h0M164.2 49.5h0M157.4 57.4h0M149.4 110.2h0M194.8 54.8h0M178.5 8.4h0M162.3 25.5h0M139.2 98.1h0M165.0 20.2h0" stroke="#600000" stroke-width="1.2" stroke-opacity="0.6" stroke-linecap="round"/><path d="M145.4 26.6h0M187.7 33.1h0M153.6 17.5h0M159.9 34.6h0M165.0 40.4h0M177.6 37.4h0M192.8 57.9h0M197.9 66.7h0M196.0 67.1h0M194.2 67.3h0M193.5 71.8h0M145.4 105.3h0M172.3 40.1h0M190.7 111.8h0M189.6 25.5h0M180.9 18.1h0M204.4 2.8h0M146.1 30.8h0M153.5 77.7h0M191.7 48.5h0M147.8 77.3h0M138.6 30.6h0M177.6 60.0h0M158.3 52.4h0M154.1 115.7h0M174.2 9.4h0M177.1 84.8h0M171.9 77.0h0M177.9 84.5h0M187.9 81.9h0M166.3 98.2h0M165.1 32.8h0M135.7 85.1h0M199.5 7.9h0M156.6 32.2h0M184.1 108.4h0M203.9 21.0h0M180.2 64.1h0M154.9 6.0h0M184.3 28.9h0M135.5 109.1h0M158.3 69.6h0" stroke="#700202" stroke-width="1.2" stroke-opacity="0.4" stroke-linecap="round"/></g></g>
<g clip-path="url(#cB1)"><rect x="287" y="1.3" width="114" height="114.3" fill="#070000"/><g filter="url(#soft)"><path d="M315.2 16.5h0M317.3 12.8h0M323.2 9.4h0M315.9 15.7h0M325.4 11.4h0M319.2 4.9h0M314.6 17.7h0M317.8 18.0h0M310.7 14.4h0M303.1 14.9h0M313.8 44.1h0M306.3 34.0h0M306.7 52.7h0M296.7 48.3h0M305.7 51.6h0M310.9 51.0h0M297.1 54.4h0M296.7 40.9h0M304.7 34.7h0M303.1 35.3h0M308.4 52.6h0M289.8 46.8h0M305.2 51.4h0M302.6 35.9h0M317.8 45.4h0M312.2 46.2h0M308.3 36.1h0M306.4 52.4h0M314.1 41.4h0M305.3 33.6h0M303.6 33.6h0M357.5 81.8h0M362.0 72.6h0M356.2 65.6h0M345.0 83.3h0M355.9 83.3h0M365.5 76.3h0M346.7 75.5h0M354.2 66.5h0M354.2 82.5h0M347.2 73.5h0M356.2 82.6h0M349.3 77.1h0M356.4 68.0h0M348.4 76.4h0M354.0 80.6h0M352.0 64.5h0M360.0 67.9h0M346.8 84.1h0M304.7 57.0h0" stroke="#a8a000" stroke-width="1.6" stroke-opacity="0.8" stroke-linecap="round"/><path d="M309.9 4.7h0M327.1 15.5h0M316.1 51.6h0M289.8 37.7h0M347.6 81.1h0M356.7 82.6h0M351.5 62.7h0M363.1 72.3h0M357.0 84.2h0M369.9 76.2h0M363.4 76.4h0M296.7 57.3h0" stroke="#ff5000" stroke-width="2.0" stroke-opacity="1.0" stroke-linecap="round"/><path d="M310.7 4.4h0M312.1 19.4h0M326.2 11.6h0M321.6 6.4h0M315.2 16.3h0M317.8 12.4h0M319.0 11.5h0M312.4 13.4h0M318.4 0.4h0M312.6 1.3h0M320.0 11.9h0M316.6 17.0h0M310.2 50.8h0M322.2 37.7h0M301.5 37.1h0M308.2 39.3h0M310.9 37.6h0M304.1 36.5h0M289.4 41.4h0M295.8 50.7h0M318.1 39.6h0M293.4 47.6h0M299.7 52.6h0M286.0 51.9h0M294.0 52.7h0M293.7 46.5h0M307.7 55.9h0M292.3 41.5h0M294.0 47.6h0M294.7 34.7h0M350.8 88.8h0M343.8 77.7h0M359.0 80.7h0M359.2 88.9h0M354.0 67.6h0M366.4 78.9h0M349.6 64.1h0M368.9 75.8h0M365.9 76.4h0M365.1 63.7h0M354.7 61.4h0M350.2 83.3h0M347.3 82.6h0M357.3 90.6h0M363.5 68.1h0M344.7 78.3h0M344.5 72.2h0M297.3 60.6h0M309.9 59.2h0M303.2 55.1h0" stroke="#ff5000" stroke-width="1.6" stroke-opacity="0.8" stroke-linecap="round"/><path d="M317.3 3.8h0M309.2 9.8h0M316.1 3.1h0M313.1 14.5h0M312.1 14.1h0M320.3 11.4h0M306.3 18.4h0M308.5 53.9h0M296.5 43.3h0M294.6 52.7h0M296.1 45.6h0M308.3 52.2h0M301.8 52.8h0M313.6 42.3h0M305.4 51.6h0M290.5 50.4h0M304.3 29.4h0M313.3 58.1h0M293.1 46.2h0M299.7 37.5h0M312.3 44.8h0M311.3 54.4h0M348.9 69.2h0M355.0 80.0h0M362.1 88.0h0M348.4 77.5h0M357.8 88.8h0M358.6 64.9h0M350.9 63.5h0M346.7 72.3h0M350.2 78.5h0M349.2 67.2h0M349.1 76.4h0M344.0 75.7h0M356.6 58.4h0M304.5 60.3h0M295.2 61.8h0" stroke="#ff6400" stroke-width="1.2" stroke-opacity="0.8" stroke-linecap="round"/><path d="M314.2 14.4h0M319.5 15.1h0M307.0 7.3h0M320.3 12.6h0M321.1 11.3h0M310.9 14.0h0M304.8 13.2h0M317.7 3.5h0M316.7 13.1h0M310.5 13.3h0M314.9 15.1h0M320.3 13.6h0M295.2 42.8h0M315.4 38.1h0M297.4 50.0h0M311.0 39.9h0M293.3 45.3h0M300.7 38.4h0M308.5 32.8h0M305.2 38.1h0M298.4 37.1h0M296.5 46.0h0M303.2 56.2h0M306.2 54.5h0M297.3 47.3h0M292.8 45.0h0M296.7 38.5h0M303.1 30.2h0M344.3 77.3h0M351.8 85.4h0M356.8 81.5h0M364.2 68.0h0M348.4 79.8h0M352.6 61.6h0M363.8 77.3h0M349.1 70.2h0M358.3 64.5h0M344.4 74.9h0M365.9 68.3h0M353.1 84.3h0M348.5 77.6h0M350.6 78.8h0M300.8 58.8h0" stroke="#f86a00" stroke-width="1.6" stroke-opacity="0.8" stroke-linecap="round"/><path d="M298.4 11.4h0M309.5 13.8h0M320.1 3.4h0M320.3 13.8h0M312.1 13.2h0M314.5 0.4h0M309.9 14.2h0M312.2 15.7h0M304.7 11.2h0M302.3 52.9h0M304.2 51.5h0M291.6 36.7h0M295.8 43.2h0M307.4 52.5h0M315.1 47.4h0M312.8 44.0h0M291.3 48.3h0M309.9 55.2h0M313.6 61.4h0M314.6 41.3h0M310.2 39.0h0M302.6 51.4h0M297.6 35.1h0M299.4 38.1h0M293.0 44.3h0M368.2 71.6h0M350.2 83.1h0M362.4 83.7h0M358.3 60.4h0M351.5 65.3h0M362.7 72.5h0M349.9 76.9h0M351.8 69.1h0M364.1 70.5h0M364.2 76.7h0M368.0 74.1h0M367.9 67.0h0M361.9 68.7h0M357.6 63.1h0M306.7 65.2h0" stroke="#ff4200" stroke-width="1.2" stroke-opacity="0.8" stroke-linecap="round"/><path d="M318.0 13.0h0M313.2 3.4h0M314.4 0.6h0M310.8 13.4h0M319.6 13.2h0M310.7 17.5h0M319.5 4.1h0M308.9 19.8h0M302.7 13.8h0M296.3 40.5h0M291.3 43.9h0M306.5 51.6h0M310.8 39.4h0M313.8 43.7h0M310.7 50.3h0M300.7 35.3h0M349.0 69.0h0M348.3 67.5h0M350.0 82.8h0M353.7 81.7h0M348.3 75.0h0M358.2 66.6h0M351.5 67.8h0M298.3 61.4h0" stroke="#ff3a00" stroke-width="1.2" stroke-opacity="1.0" stroke-linecap="round"/><path d="M309.4 2.4h0M310.0 5.8h0M310.9 13.2h0M326.3 8.6h0M318.0 4.3h0M320.4 7.4h0M308.4 8.2h0M307.9 1.8h0M317.7 14.9h0M311.9 12.9h0M307.8 14.5h0M306.8 13.9h0M309.4 36.2h0M296.5 44.8h0M312.3 36.9h0M308.5 39.5h0M300.4 35.4h0M295.0 40.7h0M294.4 42.2h0M300.2 51.5h0M300.1 38.8h0M311.4 45.3h0M309.6 39.2h0M310.9 47.3h0M299.6 51.3h0M303.2 37.8h0M300.5 56.9h0M311.3 43.8h0M293.2 42.0h0M295.3 44.4h0M310.1 36.5h0M309.9 40.3h0M295.3 54.3h0M306.7 51.3h0M306.7 38.7h0M359.8 82.6h0M363.4 72.1h0M355.0 83.9h0M361.5 67.2h0M346.6 68.6h0M362.6 75.9h0M363.1 76.1h0M343.4 76.8h0M350.8 80.3h0M352.8 80.7h0M356.5 63.7h0M347.9 75.0h0M368.7 66.2h0M342.9 76.5h0M363.0 75.9h0M353.6 89.4h0M360.8 59.7h0M342.7 67.3h0M359.1 66.4h0M352.2 67.6h0M362.4 72.0h0M347.2 74.6h0M346.2 75.8h0M347.6 77.7h0M349.5 81.5h0M349.6 79.4h0M367.5 71.9h0M359.4 88.8h0M300.6 56.8h0" stroke="#ff5a08" stroke-width="1.6" stroke-opacity="0.8" stroke-linecap="round"/><path d="M308.5 4.3h0M308.5 5.5h0M311.2 16.9h0M310.1 5.6h0M307.7 15.2h0M318.9 16.4h0M312.2 17.3h0M299.7 54.6h0M303.1 53.6h0M309.3 39.7h0M297.9 50.7h0M304.9 52.1h0M319.1 43.5h0M294.1 42.4h0M296.8 47.8h0M303.4 51.5h0M300.8 51.7h0M309.1 37.0h0M294.0 39.8h0M297.3 53.1h0M339.1 72.9h0M367.8 77.1h0M347.5 73.8h0M348.9 77.2h0M355.1 58.4h0M355.5 56.8h0M349.0 75.0h0M363.2 72.5h0M363.5 82.3h0M342.2 77.0h0M361.6 76.0h0M364.8 83.3h0M343.8 73.3h0M345.4 83.9h0M290.6 56.7h0M310.7 60.0h0" stroke="#a8a000" stroke-width="1.2" stroke-opacity="0.8" stroke-linecap="round"/><path d="M310.8 19.6h0M322.5 4.9h0M313.1 1.9h0M321.3 2.1h0M318.8 14.6h0M307.5 1.0h0M311.2 1.5h0M324.5 0.8h0M317.9 14.5h0M316.7 0.8h0M308.9 5.9h0M310.1 5.6h0M324.5 1.9h0M311.6 18.7h0M310.0 18.5h0M314.4 17.6h0M309.9 17.3h0M312.9 18.1h0M313.7 15.5h0M315.6 17.0h0M309.5 62.3h0M307.8 32.0h0M296.1 45.8h0M313.6 50.2h0M297.6 48.0h0M307.1 50.8h0M309.4 36.3h0M300.8 35.1h0M300.5 38.3h0M293.7 44.0h0M301.5 51.2h0M300.1 50.7h0M296.2 39.0h0M304.9 36.3h0M313.2 38.4h0M306.5 36.6h0M296.9 43.3h0M309.3 50.5h0M302.5 33.8h0M288.7 42.6h0M306.8 53.4h0M313.3 44.7h0M311.5 41.0h0M311.6 41.4h0M341.3 66.1h0M350.9 63.0h0M359.1 64.1h0M358.9 79.4h0M347.1 69.8h0M349.8 69.5h0M363.8 69.3h0M350.4 78.4h0M345.6 73.8h0M365.3 74.7h0M363.7 61.0h0M362.0 76.5h0M369.0 71.5h0M348.4 70.6h0M348.2 78.5h0M293.9 57.7h0M292.8 61.9h0" stroke="#ff6400" stroke-width="1.6" stroke-opacity="0.8" stroke-linecap="round"/><path d="M308.3 9.4h0M309.2 4.8h0M313.4 2.0h0M309.4 14.1h0M287.9 42.0h0M297.8 39.7h0M298.5 32.1h0M297.1 38.4h0M297.3 59.6h0M289.4 45.8h0M361.3 69.1h0M348.5 64.7h0M346.8 67.9h0M350.0 77.5h0" stroke="#ff3a00" stroke-width="2.0" stroke-opacity="0.8" stroke-linecap="round"/><path d="M322.4 4.1h0M321.8 4.8h0M319.8 11.5h0M321.7 9.7h0M318.4 17.5h0M311.0 15.8h0M309.1 4.9h0M304.8 6.8h0M306.5 13.2h0M304.9 13.4h0M322.0 2.0h0M322.0 9.4h0M314.0 15.7h0M312.4 14.0h0M307.6 15.9h0M303.9 37.7h0M295.3 38.7h0M294.7 51.4h0M313.3 48.3h0M310.7 38.1h0M309.6 35.5h0M307.1 50.7h0M297.4 42.1h0M319.0 31.9h0M293.8 40.4h0M312.3 51.3h0M306.3 58.8h0M314.9 46.4h0M294.3 49.0h0M314.7 46.0h0M310.1 40.9h0M301.7 53.3h0M291.8 50.3h0M298.6 50.3h0M364.7 69.9h0M361.4 69.2h0M366.6 86.4h0M347.6 70.2h0M354.7 65.8h0M359.8 68.9h0M346.7 57.9h0M348.2 78.0h0M350.8 69.3h0M367.2 76.0h0M346.1 62.9h0M354.1 81.6h0M350.5 70.0h0M355.2 81.5h0M346.0 68.0h0M358.1 67.3h0M349.6 76.6h0M358.7 86.8h0" stroke="#ff4200" stroke-width="1.6" stroke-opacity="0.8" stroke-linecap="round"/><path d="M309.7 12.1h0M320.8 3.6h0M314.1 2.6h0M312.9 14.6h0M322.4 10.1h0M311.0 1.2h0M308.4 20.8h0M301.6 55.9h0M294.1 44.5h0M312.1 38.4h0M311.0 39.6h0M300.7 37.5h0M304.1 33.6h0M293.3 46.2h0M312.8 39.8h0M304.3 53.2h0M313.0 32.0h0M304.1 54.2h0M355.6 66.4h0M351.1 64.1h0M349.4 71.4h0M346.9 75.3h0M353.4 68.2h0M351.2 80.1h0M351.4 69.3h0M361.7 75.4h0M365.3 78.2h0M350.0 68.9h0M346.5 76.2h0M362.7 79.8h0M347.5 75.6h0M349.0 70.2h0M344.3 74.3h0M363.9 74.8h0M368.1 71.2h0M348.4 73.7h0M348.0 66.7h0M307.1 61.4h0M298.0 55.5h0" stroke="#ff5000" stroke-width="1.6" stroke-opacity="1.0" stroke-linecap="round"/><path d="M319.3 3.8h0M308.5 4.7h0M319.7 16.0h0M293.7 46.7h0M300.8 35.9h0M299.5 54.3h0M303.9 36.6h0M362.5 76.4h0M351.0 78.3h0M358.4 81.0h0M367.5 73.2h0M362.5 76.3h0" stroke="#ff3a00" stroke-width="2.0" stroke-opacity="1.0" stroke-linecap="round"/><path d="M315.9 14.3h0M322.7 5.1h0M310.0 2.0h0M314.4 3.0h0M309.0 11.3h0M305.4 4.4h0M307.6 13.8h0M316.1 55.7h0M299.6 37.2h0M296.7 41.3h0M303.5 54.9h0M314.0 51.7h0" stroke="#f86a00" stroke-width="2.0" stroke-opacity="0.8" stroke-linecap="round"/><path d="M323.9 6.3h0M303.0 13.4h0M321.3 14.1h0M311.8 13.9h0M294.7 44.4h0M319.1 43.0h0M298.1 39.0h0M291.6 44.5h0M297.6 53.6h0M360.9 64.2h0M363.0 65.9h0M361.6 67.2h0M359.8 82.2h0M348.9 66.2h0M354.4 57.0h0" stroke="#a8a000" stroke-width="2.0" stroke-opacity="0.8" stroke-linecap="round"/><path d="M312.4 14.9h0M318.6 3.1h0M316.7 2.6h0M307.3 20.2h0M313.2 12.3h0M309.1 39.7h0M296.7 43.7h0M295.6 52.0h0M300.4 52.0h0M308.2 37.9h0M296.1 51.1h0M298.8 37.1h0M312.1 40.2h0M305.1 53.0h0M296.9 45.6h0M312.2 43.0h0M303.5 30.7h0M299.5 37.6h0M296.7 47.0h0M294.6 53.3h0M321.1 48.8h0M305.7 51.8h0M302.0 38.3h0M293.6 48.9h0M293.9 41.5h0M297.8 39.7h0M358.0 83.1h0M351.6 78.4h0M358.1 66.6h0M364.9 74.3h0M363.7 76.3h0M371.4 86.5h0M362.5 79.7h0M354.2 85.8h0M361.8 71.1h0M357.7 80.4h0M348.9 73.6h0M348.6 76.1h0M297.7 58.9h0" stroke="#ff5a08" stroke-width="1.2" stroke-opacity="0.8" stroke-linecap="round"/><path d="M307.2 8.0h0M320.6 0.8h0M297.4 51.3h0M295.4 43.6h0M306.2 58.3h0M297.0 41.8h0M298.7 36.7h0M310.9 47.6h0M349.2 68.8h0M351.5 82.6h0M349.3 83.7h0M354.7 67.8h0" stroke="#a8a000" stroke-width="2.0" stroke-opacity="1.0" stroke-linecap="round"/><path d="M306.5 3.6h0M322.2 7.8h0M307.5 12.4h0M312.3 0.7h0M318.8 11.5h0M319.3 4.7h0M309.6 13.8h0M301.7 54.1h0M311.7 45.1h0M297.0 50.1h0M307.4 55.5h0M312.1 49.9h0M293.9 44.3h0M297.0 44.8h0M297.1 51.3h0M300.1 52.7h0M303.7 36.4h0M362.0 66.6h0M353.5 84.8h0M353.7 83.6h0M348.1 74.2h0M355.5 80.7h0M365.4 63.0h0M366.9 72.3h0M361.8 63.4h0M365.1 62.5h0M299.4 58.8h0" stroke="#ff5a08" stroke-width="1.6" stroke-opacity="1.0" stroke-linecap="round"/><path d="M304.4 3.2h0M311.5 15.7h0M305.3 7.2h0M322.7 6.0h0M313.7 14.1h0M306.3 8.6h0M308.1 5.4h0M294.6 48.3h0M307.0 58.0h0M293.9 52.4h0M301.8 34.7h0M295.3 53.4h0M303.8 36.8h0M303.1 31.0h0M292.5 39.4h0M292.3 36.4h0M298.8 57.8h0M300.4 54.4h0M289.0 38.5h0M302.2 56.6h0M299.4 39.5h0M295.1 45.7h0M306.1 35.9h0M320.2 44.8h0M359.8 79.9h0M350.1 79.2h0M352.8 67.8h0M362.1 77.1h0M352.6 66.3h0M369.1 67.6h0M366.3 79.9h0M297.5 57.1h0" stroke="#f86a00" stroke-width="1.2" stroke-opacity="0.8" stroke-linecap="round"/><path d="M313.0 13.9h0M320.1 8.2h0M317.1 13.9h0M307.0 7.0h0M321.9 15.5h0M313.1 0.9h0M310.1 5.8h0M305.4 15.2h0M314.9 14.1h0M313.5 12.9h0M311.3 15.0h0M315.4 13.7h0M312.2 43.0h0M312.1 32.1h0M292.0 36.5h0M310.5 48.6h0M300.7 52.1h0M315.5 37.0h0M312.9 54.7h0M295.5 51.4h0M297.8 51.4h0M289.2 53.4h0M295.5 44.4h0M307.8 52.3h0M301.6 34.6h0M300.3 56.2h0M317.8 51.4h0M309.9 37.2h0M345.8 73.8h0M358.8 83.1h0M347.7 61.6h0M348.0 82.7h0M362.4 78.1h0M361.5 81.2h0M348.0 84.1h0M362.3 81.7h0M353.3 68.5h0M358.7 81.7h0M353.7 66.2h0M346.8 70.5h0M364.3 73.6h0M349.1 84.6h0M356.4 67.6h0M358.5 80.5h0M347.9 67.9h0M346.0 72.6h0M346.9 76.8h0M301.9 61.3h0M309.3 59.3h0" stroke="#ff3a00" stroke-width="1.6" stroke-opacity="0.8" stroke-linecap="round"/><path d="M306.8 1.5h0M318.3 2.0h0M296.2 51.5h0M293.9 45.4h0M295.5 45.9h0M298.7 52.1h0M311.7 40.5h0M353.5 84.0h0M361.9 65.0h0M351.5 79.6h0M344.4 60.0h0M356.7 61.9h0M349.6 68.9h0" stroke="#ff5000" stroke-width="2.0" stroke-opacity="0.8" stroke-linecap="round"/><path d="M311.4 14.0h0M314.5 15.9h0M320.6 8.4h0M307.1 15.9h0M310.3 10.9h0M322.2 3.9h0M306.5 9.3h0M298.9 51.2h0M306.8 51.7h0M313.7 44.3h0M306.5 55.7h0M290.5 49.7h0M310.2 37.7h0M310.4 39.9h0M310.6 48.4h0M294.1 36.8h0M290.5 51.7h0M311.2 39.9h0M290.4 46.0h0M307.2 51.2h0M343.2 75.8h0M351.3 62.9h0M368.8 74.5h0M343.5 69.7h0M361.6 65.9h0M349.9 87.8h0M361.3 63.2h0M353.7 83.5h0M348.7 76.9h0M350.6 79.5h0M363.6 78.6h0M353.3 83.1h0M359.7 80.1h0M363.7 68.5h0M348.6 79.1h0M360.5 59.8h0M366.8 73.3h0M347.7 70.5h0M354.7 65.7h0M294.4 59.4h0M292.1 62.8h0M302.4 61.2h0M289.3 63.0h0" stroke="#ff3a00" stroke-width="1.2" stroke-opacity="0.8" stroke-linecap="round"/><path d="M317.5 16.8h0M318.8 12.3h0M308.3 4.5h0M319.1 2.7h0M309.3 14.1h0M310.1 15.5h0M294.7 50.5h0M309.4 49.7h0M301.3 52.9h0M306.9 53.6h0M298.5 52.4h0M296.4 39.5h0M301.0 55.1h0M311.2 34.0h0M311.3 43.7h0M357.7 80.6h0M364.9 76.9h0M344.7 81.1h0M362.6 71.8h0M363.0 73.2h0M364.6 65.1h0M354.1 67.8h0M348.1 85.4h0M352.0 85.6h0" stroke="#ff5a08" stroke-width="1.2" stroke-opacity="1.0" stroke-linecap="round"/><path d="M321.4 10.2h0M309.2 1.5h0M322.7 6.2h0M297.2 36.4h0M294.8 49.7h0M309.7 48.7h0M308.5 51.9h0M295.0 52.1h0M315.8 39.1h0M312.9 53.7h0M361.8 77.2h0M364.8 77.8h0M350.6 65.9h0M354.2 85.8h0M354.1 65.6h0M351.4 79.2h0M351.9 82.0h0M353.4 92.4h0M356.9 82.4h0M353.0 79.4h0M296.9 59.0h0M297.1 59.5h0M303.6 60.4h0" stroke="#a8a000" stroke-width="1.2" stroke-opacity="1.0" stroke-linecap="round"/><path d="M309.1 3.1h0M313.6 3.2h0M319.9 10.4h0M319.0 5.1h0M311.4 14.2h0M324.5 5.3h0M308.1 9.1h0M316.5 13.1h0M321.1 12.2h0M311.0 17.7h0M313.6 17.0h0M301.6 54.6h0M296.3 47.6h0M298.9 32.1h0M298.9 52.3h0M296.6 49.3h0M303.5 55.4h0M303.7 54.9h0M310.3 50.7h0M290.4 35.9h0M299.3 33.9h0M309.9 36.6h0M344.8 71.3h0M364.5 68.6h0M348.1 73.3h0M362.6 72.6h0M362.0 76.1h0M359.9 69.6h0M359.3 79.0h0M304.2 61.5h0M295.1 59.7h0" stroke="#ff6400" stroke-width="1.6" stroke-opacity="1.0" stroke-linecap="round"/><path d="M300.6 6.4h0M306.4 5.7h0M322.3 11.4h0M320.3 10.9h0M321.5 7.9h0M309.4 9.4h0M314.7 12.5h0M311.1 41.2h0M296.0 40.4h0M308.2 39.5h0M295.5 47.8h0M312.9 47.3h0M295.2 35.8h0M294.4 41.1h0M304.4 52.1h0M301.8 36.1h0M312.3 51.1h0M305.4 32.1h0M349.6 84.4h0M350.6 65.0h0M367.8 81.7h0M364.2 71.3h0M345.2 78.2h0M351.2 90.4h0M349.0 76.0h0M344.4 74.6h0M362.9 69.5h0M362.3 81.3h0M350.7 89.7h0M350.0 70.1h0M298.3 59.6h0" stroke="#a8a000" stroke-width="1.6" stroke-opacity="1.0" stroke-linecap="round"/><path d="M309.8 13.0h0M304.4 13.9h0M321.0 3.9h0M309.8 1.9h0M309.6 13.0h0M307.5 11.6h0M309.0 11.2h0M311.2 4.1h0M307.0 15.2h0M301.4 56.5h0M295.5 37.1h0M303.9 38.1h0M293.6 42.0h0M300.8 38.9h0M301.8 55.5h0M311.0 36.6h0M359.6 79.2h0M357.4 81.5h0M362.8 79.1h0M348.3 78.7h0M363.1 73.5h0M364.0 59.2h0M347.8 81.1h0M362.6 66.3h0M363.9 73.5h0M351.3 87.4h0M345.6 74.9h0M345.3 73.5h0" stroke="#ff3a00" stroke-width="1.6" stroke-opacity="1.0" stroke-linecap="round"/><path d="M312.4 14.0h0M313.9 43.7h0M294.2 41.2h0M355.2 79.8h0M358.5 79.3h0M344.6 70.2h0M351.1 81.0h0M358.2 66.0h0M348.4 64.8h0M352.8 81.1h0" stroke="#f86a00" stroke-width="2.0" stroke-opacity="1.0" stroke-linecap="round"/><path d="M304.7 12.3h0M318.5 4.7h0M318.8 11.7h0M307.8 11.2h0M312.8 15.8h0M314.8 11.3h0M315.7 15.5h0M309.2 38.4h0M301.7 36.1h0M288.1 51.3h0M315.1 49.5h0M292.6 38.4h0M302.7 37.1h0M310.8 41.3h0M308.6 50.6h0M310.5 54.8h0M313.5 48.1h0M307.2 54.3h0M347.1 70.1h0M360.1 66.5h0M357.8 89.1h0M348.6 88.7h0M360.7 77.1h0M348.2 80.6h0M358.0 80.3h0M344.4 79.9h0M359.9 67.0h0M347.5 73.8h0M350.5 79.7h0M347.5 76.4h0M347.3 73.9h0M298.8 59.9h0M297.5 60.2h0" stroke="#ff4200" stroke-width="1.6" stroke-opacity="1.0" stroke-linecap="round"/><path d="M307.4 6.9h0M309.1 5.0h0M308.2 3.4h0M319.0 3.4h0M311.2 3.4h0M314.8 0.7h0M311.2 41.9h0M292.9 50.1h0M301.4 51.5h0M309.6 50.6h0M308.9 30.2h0M309.4 51.4h0M297.8 49.9h0M318.9 49.8h0M292.8 48.2h0M312.1 43.3h0M313.5 33.6h0M306.3 31.9h0M313.6 45.2h0M301.9 36.9h0M310.1 38.0h0M297.3 47.8h0M345.6 77.9h0M363.1 69.5h0M351.4 68.0h0M346.7 75.2h0M343.8 76.7h0M361.4 79.6h0M362.6 67.6h0M347.4 67.9h0M358.9 79.1h0M364.2 69.0h0M346.7 70.4h0M363.4 76.2h0M351.4 85.0h0M302.0 58.5h0" stroke="#ff5000" stroke-width="1.2" stroke-opacity="0.8" stroke-linecap="round"/><path d="M322.1 7.7h0M314.9 16.9h0M314.5 2.0h0M319.7 1.6h0M310.9 15.2h0M304.0 53.2h0M311.5 49.8h0M304.6 37.7h0M288.7 44.3h0M313.5 43.7h0M306.3 61.6h0M306.2 54.4h0M299.3 51.4h0M300.4 52.5h0M296.2 45.4h0M302.4 37.9h0M310.9 35.2h0M311.7 52.0h0M361.8 69.5h0M364.2 78.4h0M354.0 65.2h0M349.3 68.9h0M343.8 81.3h0M346.1 78.4h0M351.1 79.2h0M348.9 73.4h0M366.4 75.1h0M300.1 57.8h0M302.7 58.4h0" stroke="#f86a00" stroke-width="1.6" stroke-opacity="1.0" stroke-linecap="round"/><path d="M317.7 14.1h0M313.0 17.8h0M301.5 55.4h0M296.6 47.9h0M301.8 38.6h0M313.5 47.3h0M309.1 37.9h0M303.2 55.1h0M355.6 86.9h0M360.3 66.9h0M343.1 67.6h0M360.2 77.7h0M363.4 66.4h0M349.9 68.7h0M360.8 69.6h0M367.3 75.3h0M358.6 63.6h0M359.6 79.9h0M345.2 71.0h0M359.6 78.7h0M353.0 68.6h0" stroke="#f86a00" stroke-width="1.2" stroke-opacity="1.0" stroke-linecap="round"/><path d="M316.2 0.4h0M320.5 10.4h0M315.6 1.9h0M312.3 13.1h0M315.3 3.2h0M316.2 54.3h0M304.5 35.9h0M312.8 54.8h0M293.3 45.1h0M347.2 69.4h0M367.8 68.9h0M365.7 85.4h0M348.1 88.5h0M364.7 68.0h0M361.6 75.7h0M347.4 75.1h0M363.2 66.8h0M364.9 77.3h0M348.8 72.9h0M361.3 70.3h0M356.4 80.3h0" stroke="#ff5000" stroke-width="1.2" stroke-opacity="1.0" stroke-linecap="round"/><path d="M319.7 10.0h0M307.2 10.0h0M314.6 2.2h0M310.5 0.3h0M295.6 53.1h0M351.1 69.0h0M344.0 69.5h0" stroke="#ff4200" stroke-width="2.0" stroke-opacity="1.0" stroke-linecap="round"/><path d="M309.3 7.1h0M312.9 14.1h0M321.4 6.6h0M308.1 1.3h0M296.7 53.9h0M289.7 50.1h0M310.2 52.5h0M302.2 38.4h0M303.5 33.2h0M296.7 44.7h0M294.0 42.1h0M313.4 42.4h0M310.3 48.8h0M305.3 54.1h0M359.9 78.5h0M347.1 73.4h0M365.8 74.2h0M343.9 71.4h0M353.4 67.6h0M361.1 68.1h0M360.6 77.2h0M359.1 78.4h0M360.9 77.8h0M346.7 70.4h0M347.7 76.9h0M303.1 60.9h0M302.3 60.0h0" stroke="#ff4200" stroke-width="1.2" stroke-opacity="1.0" stroke-linecap="round"/><path d="M324.6 5.2h0" stroke="#ff5a08" stroke-width="2.0" stroke-opacity="1.0" stroke-linecap="round"/><path d="M309.5 13.9h0M307.9 51.4h0M295.2 47.0h0M293.7 49.5h0M345.6 79.1h0M348.9 70.1h0" stroke="#ff6400" stroke-width="2.0" stroke-opacity="0.8" stroke-linecap="round"/><path d="M308.5 11.7h0M368.5 77.1h0M346.5 70.9h0M347.0 73.3h0M308.1 58.9h0" stroke="#ff6400" stroke-width="2.0" stroke-opacity="1.0" stroke-linecap="round"/><path d="M313.5 3.0h0M309.0 16.2h0M305.2 33.7h0M288.0 41.7h0M315.0 38.1h0M361.9 67.6h0M353.7 82.0h0M353.7 62.3h0" stroke="#ff5a08" stroke-width="2.0" stroke-opacity="0.8" stroke-linecap="round"/><path d="M312.1 13.2h0M306.9 15.7h0M311.2 61.4h0M317.3 42.5h0M312.4 42.9h0M316.0 52.3h0M345.7 66.7h0M347.8 76.7h0M359.0 81.5h0" stroke="#ff4200" stroke-width="2.0" stroke-opacity="0.8" stroke-linecap="round"/><path d="M313.7 19.2h0M293.9 41.8h0M311.8 37.8h0M292.8 43.8h0M293.9 44.8h0M314.3 45.5h0M311.8 39.4h0M299.4 59.9h0M294.1 52.1h0M362.5 79.1h0M368.7 73.6h0M366.4 71.1h0M361.3 76.9h0M351.1 80.2h0M357.5 86.0h0M360.8 77.7h0M357.0 85.3h0M350.7 64.3h0M364.1 79.6h0M352.6 66.8h0M355.6 67.9h0M362.6 89.7h0M366.3 69.5h0" stroke="#ff6400" stroke-width="1.2" stroke-opacity="1.0" stroke-linecap="round"/><path d="M334.8 8.4h0M325.6 15.1h0M332.5 4.5h0M335.2 15.5h0M325.2 17.3h0M331.1 4.7h0M334.1 20.7h0M334.5 2.6h0M325.0 4.4h0M325.0 9.6h0M323.9 13.0h0M328.6 20.0h0M334.7 9.8h0M325.9 5.2h0M325.9 15.3h0M329.1 20.2h0M326.7 26.9h0M334.5 38.8h0M341.6 33.3h0M332.9 38.5h0M334.0 38.8h0M331.8 39.0h0M334.7 38.2h0M330.6 20.4h0M324.4 25.9h0M337.8 23.7h0M337.8 37.7h0M336.0 23.9h0M331.0 23.0h0M339.0 39.2h0M331.6 39.4h0M340.3 29.1h0M337.8 23.1h0M339.8 36.0h0M351.2 49.5h0M339.9 44.2h0M345.4 34.5h0M340.9 39.5h0M346.7 51.1h0M344.7 30.2h0M349.3 47.4h0M348.3 51.5h0M362.5 97.4h0" stroke="#ff2008" stroke-width="1.6" stroke-opacity="0.8" stroke-linecap="round"/><path d="M324.9 19.9h0M333.7 7.6h0M334.0 14.0h0M325.1 27.7h0M324.0 35.1h0M346.9 50.5h0" stroke="#ff3a10" stroke-width="2.0" stroke-opacity="0.8" stroke-linecap="round"/><path d="M333.4 1.1h0M334.6 10.0h0M334.2 14.9h0M338.8 9.8h0M325.1 9.5h0M332.9 17.8h0M329.1 19.0h0M328.8 18.2h0M334.2 13.8h0M327.6 5.5h0M339.4 27.9h0M323.9 38.5h0M325.5 25.9h0M326.5 36.3h0M327.9 35.0h0M335.1 20.0h0M338.8 29.4h0M339.7 32.7h0M326.6 23.5h0M339.4 28.5h0M335.9 38.3h0M338.5 24.9h0M341.4 31.9h0M338.0 39.0h0M340.0 25.4h0M326.1 29.9h0M323.4 35.1h0M349.3 38.5h0M351.6 50.6h0M346.3 48.9h0M353.6 39.3h0M349.6 38.3h0M344.6 50.9h0M337.8 40.6h0M341.9 36.6h0M343.5 48.5h0M336.9 41.2h0M363.3 96.0h0M363.6 98.0h0M364.2 94.5h0M362.6 96.0h0" stroke="#f02808" stroke-width="1.6" stroke-opacity="0.8" stroke-linecap="round"/><path d="M323.7 14.4h0M330.2 4.4h0M334.3 12.8h0M333.3 5.8h0M323.9 14.6h0M334.2 15.2h0M333.8 7.7h0M335.9 12.7h0M334.3 10.0h0M327.6 28.2h0M332.6 41.1h0M342.2 32.1h0M339.8 34.4h0M336.6 42.5h0M324.5 28.1h0M339.8 39.5h0M339.4 25.7h0M327.1 38.9h0M337.5 24.5h0M327.4 28.1h0M351.2 39.4h0M339.1 48.8h0" stroke="#ff3008" stroke-width="1.2" stroke-opacity="0.8" stroke-linecap="round"/><path d="M334.3 14.1h0M333.8 15.2h0M329.4 18.9h0M329.2 19.1h0M332.1 4.1h0M323.2 7.3h0M323.2 3.1h0M335.3 11.0h0M326.7 24.7h0M325.2 34.5h0M338.3 21.6h0M332.6 39.4h0M330.7 19.9h0M325.8 26.0h0M339.6 24.3h0M339.7 35.2h0M328.5 36.6h0M340.6 31.6h0M333.1 39.8h0M325.8 30.2h0M343.1 37.2h0M338.9 29.8h0M347.0 36.6h0M346.3 50.1h0M351.0 50.6h0M341.8 50.4h0M348.5 46.2h0M339.6 50.4h0M338.4 39.2h0M343.9 35.2h0M348.4 34.0h0M336.8 46.4h0M348.4 52.6h0" stroke="#f02808" stroke-width="1.2" stroke-opacity="0.8" stroke-linecap="round"/><path d="M324.0 11.4h0M335.6 11.4h0M329.3 5.0h0M325.9 7.4h0M326.9 16.8h0M323.7 22.9h0M323.9 10.9h0M338.4 10.8h0M327.5 5.9h0M325.5 35.0h0M324.3 27.6h0M326.5 32.8h0M341.9 36.7h0M325.5 31.2h0M329.5 38.5h0M341.6 37.0h0M340.4 50.4h0M343.5 36.6h0M348.3 45.3h0M349.3 39.8h0M356.1 41.2h0M343.9 34.9h0" stroke="#ff3008" stroke-width="1.2" stroke-opacity="1.0" stroke-linecap="round"/><path d="M327.7 3.2h0M326.9 21.1h0M333.4 19.8h0M330.8 17.5h0M326.2 14.6h0M331.4 19.5h0M337.5 14.3h0M336.1 8.8h0M333.7 7.8h0M334.4 10.1h0M331.3 19.5h0M336.1 10.3h0M332.7 4.0h0M323.6 9.0h0M324.4 25.3h0M333.3 20.9h0M336.9 21.0h0M336.8 43.3h0M337.9 36.1h0M340.0 37.7h0M343.2 28.8h0M332.6 39.2h0M330.8 23.3h0M336.8 25.9h0M327.5 41.9h0M339.9 35.4h0M330.5 39.4h0M331.6 41.7h0M341.7 52.6h0M346.7 52.1h0M337.1 40.7h0M337.7 36.7h0M338.3 48.2h0M349.0 36.8h0M340.2 35.9h0M342.7 36.7h0M348.6 45.8h0M340.4 43.3h0" stroke="#ff3008" stroke-width="1.6" stroke-opacity="0.8" stroke-linecap="round"/><path d="M327.0 6.3h0M333.0 17.8h0M335.1 11.4h0M335.9 7.9h0M325.2 8.6h0M332.3 22.4h0M327.1 19.2h0M322.6 19.9h0M335.5 14.9h0M338.6 20.6h0M338.5 25.6h0M336.0 37.9h0M324.2 27.7h0M321.4 34.5h0M329.8 19.6h0M337.1 40.2h0M331.3 23.3h0M341.7 35.0h0M329.7 25.2h0M340.0 45.3h0M342.7 35.3h0M339.2 42.7h0M338.4 36.3h0M343.6 48.8h0M339.1 41.1h0M347.8 47.4h0" stroke="#f02808" stroke-width="1.6" stroke-opacity="1.0" stroke-linecap="round"/><path d="M325.2 17.5h0M326.0 14.8h0M334.6 8.8h0M335.5 1.1h0M332.3 6.1h0M334.8 14.4h0M325.0 6.7h0M333.9 7.1h0M331.5 17.4h0M331.3 4.2h0M324.9 5.2h0M332.8 6.5h0M333.3 22.5h0M339.1 26.4h0M341.0 28.0h0M326.8 20.9h0M334.2 21.4h0M338.4 23.8h0M337.7 21.2h0M336.8 39.2h0M322.7 25.4h0M327.2 30.1h0M324.1 30.2h0M329.0 23.9h0M339.3 26.6h0M325.7 27.9h0M328.1 24.4h0M333.3 23.3h0M337.8 21.8h0M326.6 41.8h0M333.2 23.9h0M336.9 25.6h0M323.7 33.2h0M346.7 49.8h0M350.1 42.8h0M349.6 39.7h0M341.8 47.8h0M353.2 45.7h0M342.4 33.8h0M335.3 45.9h0M342.6 53.8h0M362.5 96.9h0M362.3 97.7h0" stroke="#ff4010" stroke-width="1.6" stroke-opacity="0.8" stroke-linecap="round"/><path d="M324.3 18.2h0M326.2 7.5h0M330.3 5.3h0M334.7 8.6h0M326.3 16.7h0M325.6 13.8h0M330.2 40.4h0M336.0 23.7h0M326.2 27.0h0M334.9 37.9h0M320.0 35.4h0M331.0 23.7h0M338.5 35.4h0M337.0 23.6h0M331.8 40.9h0M325.4 42.5h0M327.1 34.2h0M341.0 39.0h0M342.5 48.7h0M349.5 36.7h0M340.7 39.5h0M345.3 36.7h0M347.8 39.3h0M346.9 52.7h0M348.8 41.0h0M338.8 33.2h0M349.7 38.9h0M348.1 38.9h0M344.1 49.1h0M362.4 97.1h0M366.5 95.3h0" stroke="#ff4010" stroke-width="1.6" stroke-opacity="1.0" stroke-linecap="round"/><path d="M335.8 19.6h0M336.5 13.8h0M320.7 13.6h0M330.3 18.4h0M324.9 14.7h0M324.4 13.3h0M320.9 33.5h0M337.4 25.6h0M326.6 35.1h0M334.7 23.2h0M334.4 38.9h0M333.3 23.9h0M337.6 49.2h0M344.2 35.6h0M348.6 40.1h0M347.6 47.0h0M344.5 36.2h0M348.4 35.6h0M349.4 42.8h0M343.8 50.0h0" stroke="#ff3a10" stroke-width="1.6" stroke-opacity="1.0" stroke-linecap="round"/><path d="M325.2 12.8h0M326.3 6.9h0M339.5 9.5h0M333.0 19.7h0M326.6 27.5h0M326.3 39.0h0M332.4 22.0h0M322.9 32.8h0M339.9 29.3h0M338.8 27.1h0M346.3 33.9h0M353.2 43.0h0M364.4 96.5h0" stroke="#ff4010" stroke-width="2.0" stroke-opacity="0.8" stroke-linecap="round"/><path d="M332.6 17.0h0M335.7 12.6h0M332.9 21.6h0M323.9 10.4h0M334.5 22.1h0M341.9 30.2h0M329.7 40.5h0M343.7 30.4h0M325.4 26.6h0M324.8 32.3h0M333.5 41.0h0M329.2 39.6h0M335.0 48.2h0M338.6 42.1h0" stroke="#ff2008" stroke-width="1.6" stroke-opacity="1.0" stroke-linecap="round"/><path d="M334.3 12.1h0M335.1 12.8h0M335.5 15.2h0M321.5 12.3h0M327.4 16.1h0M334.3 14.8h0M337.2 5.8h0M330.3 4.9h0M332.7 4.8h0M338.0 25.2h0M336.8 25.6h0M333.0 38.5h0M336.7 24.2h0M325.9 30.7h0M338.6 38.0h0M326.8 29.5h0M339.5 32.1h0M339.5 24.6h0M354.0 46.6h0M350.9 39.6h0M346.3 48.4h0M344.6 49.8h0M338.5 37.4h0M349.9 41.8h0M346.6 32.7h0M339.5 35.5h0M341.9 37.4h0M352.6 38.1h0M349.1 45.3h0M347.3 51.2h0M349.1 35.6h0M347.1 34.3h0M346.1 36.2h0M348.2 37.4h0M347.4 47.8h0M363.0 98.6h0" stroke="#ff3a10" stroke-width="1.2" stroke-opacity="0.8" stroke-linecap="round"/><path d="M322.2 14.3h0M336.3 8.4h0M321.9 14.3h0M336.9 17.4h0M336.2 12.4h0M332.7 17.0h0M334.2 19.8h0M334.7 8.5h0M333.6 16.9h0M331.3 41.7h0M333.1 22.8h0M325.9 31.3h0M333.7 40.7h0M340.1 41.2h0M325.7 36.4h0M328.8 41.9h0M339.8 26.5h0M342.0 47.8h0M349.8 47.0h0M341.5 48.3h0M342.6 35.6h0M347.2 52.6h0M348.7 44.0h0M347.2 34.7h0M341.7 47.0h0M342.9 34.3h0M349.4 36.6h0M335.5 40.6h0" stroke="#ff4010" stroke-width="1.2" stroke-opacity="0.8" stroke-linecap="round"/><path d="M333.2 17.7h0M335.7 4.5h0M334.2 12.7h0M333.7 0.7h0M323.9 9.1h0M326.3 20.7h0M340.7 35.4h0M332.5 22.5h0M344.3 30.1h0M326.9 40.5h0M340.7 31.7h0M339.4 41.8h0M340.2 35.0h0M348.1 45.8h0M338.9 47.7h0M349.8 39.7h0" stroke="#ff2008" stroke-width="2.0" stroke-opacity="0.8" stroke-linecap="round"/><path d="M335.3 13.5h0M320.6 12.6h0M333.7 17.7h0M339.8 7.6h0M333.7 17.7h0M335.9 10.4h0M334.8 9.7h0M339.2 35.1h0M338.9 28.6h0M336.3 18.4h0M332.9 39.6h0M339.0 36.0h0M337.1 25.3h0M321.7 36.1h0M327.1 31.1h0M337.0 42.3h0M336.8 40.0h0M346.9 36.5h0M346.5 48.6h0M341.6 33.1h0M364.3 97.7h0" stroke="#ff3008" stroke-width="1.6" stroke-opacity="1.0" stroke-linecap="round"/><path d="M326.6 2.7h0M324.4 7.4h0M324.4 5.5h0M332.0 19.6h0M324.5 14.4h0M329.1 4.9h0M327.8 21.5h0M336.3 10.3h0M333.3 17.7h0M325.3 14.0h0M329.0 17.8h0M328.6 4.8h0M336.4 8.8h0M335.3 13.6h0M336.3 24.0h0M333.5 24.2h0M324.9 36.2h0M334.7 22.5h0M325.8 25.2h0M343.7 27.8h0M325.3 38.5h0M331.3 24.1h0M325.1 39.6h0M331.2 38.1h0M335.2 40.0h0M335.4 24.8h0M326.3 39.0h0M335.2 39.0h0M344.5 48.9h0M343.8 48.9h0M338.4 46.8h0M343.1 51.4h0M344.8 34.9h0M344.1 26.9h0M345.8 35.3h0M342.1 49.1h0" stroke="#ff3a10" stroke-width="1.6" stroke-opacity="0.8" stroke-linecap="round"/><path d="M334.4 8.2h0M329.1 1.5h0M325.7 14.5h0M333.1 5.7h0M335.3 16.6h0M324.2 5.6h0M328.4 18.3h0M327.0 19.7h0M338.2 2.3h0M339.0 30.9h0M338.5 25.8h0M338.2 26.2h0M332.7 39.6h0M327.6 24.9h0M333.1 22.4h0M347.1 34.8h0M321.6 25.2h0M334.6 23.6h0M336.7 25.8h0M326.4 34.1h0M341.9 32.8h0M351.7 45.8h0M342.6 37.1h0M348.7 46.7h0M343.7 35.4h0M341.5 37.7h0M342.0 47.8h0M350.4 36.0h0M341.1 49.1h0M349.3 47.2h0M347.5 35.8h0M349.5 41.9h0M347.6 33.2h0M340.7 48.3h0M364.1 96.3h0" stroke="#ff2008" stroke-width="1.2" stroke-opacity="0.8" stroke-linecap="round"/><path d="M334.8 16.3h0M329.6 40.4h0M325.8 27.9h0M338.8 27.1h0M327.0 33.4h0M344.9 33.8h0" stroke="#ff3a10" stroke-width="2.0" stroke-opacity="1.0" stroke-linecap="round"/><path d="M327.4 4.8h0M328.1 2.7h0M340.3 10.3h0M325.3 10.0h0M335.3 23.1h0M329.2 22.5h0M341.5 47.3h0M341.9 53.3h0" stroke="#ff3008" stroke-width="2.0" stroke-opacity="0.8" stroke-linecap="round"/><path d="M325.7 17.2h0M323.3 5.3h0M324.6 3.6h0M339.3 16.3h0M326.1 18.0h0M334.8 16.1h0M338.8 5.9h0M332.7 16.1h0M330.3 19.2h0M334.7 11.8h0M326.2 14.0h0M332.0 2.3h0M331.0 41.1h0M339.0 29.9h0M341.0 35.0h0M325.7 28.7h0M330.4 23.8h0M325.5 33.3h0M327.7 23.1h0M346.0 42.6h0M340.2 39.7h0M344.0 49.0h0M349.8 47.3h0M345.0 52.8h0" stroke="#ff3a10" stroke-width="1.2" stroke-opacity="1.0" stroke-linecap="round"/><path d="M328.3 3.4h0M325.5 10.4h0M349.5 46.6h0" stroke="#ff4010" stroke-width="2.0" stroke-opacity="1.0" stroke-linecap="round"/><path d="M327.3 4.7h0M325.8 9.5h0M333.8 3.1h0M328.3 24.0h0M335.2 38.5h0M327.2 37.2h0M337.6 36.1h0M332.7 21.0h0M328.6 36.0h0M338.6 28.1h0M343.1 23.0h0M326.3 32.5h0M335.4 40.0h0M334.5 22.1h0M335.0 41.0h0M348.7 44.0h0M339.1 37.6h0M340.4 47.7h0M353.7 48.1h0M346.0 29.4h0M354.6 41.3h0M365.9 96.6h0" stroke="#ff4010" stroke-width="1.2" stroke-opacity="1.0" stroke-linecap="round"/><path d="M327.0 6.2h0M327.0 6.6h0M336.4 15.3h0M325.9 15.8h0M338.8 26.5h0M339.8 30.1h0M339.6 40.8h0M337.3 42.4h0M339.0 34.8h0" stroke="#ff2008" stroke-width="2.0" stroke-opacity="1.0" stroke-linecap="round"/><path d="M321.3 8.8h0M342.8 29.9h0M334.0 20.1h0M338.4 26.6h0M326.2 28.9h0M344.2 31.5h0M338.6 36.6h0M329.3 40.0h0M339.3 29.3h0M348.9 36.3h0M339.6 37.8h0M350.7 45.1h0M349.5 30.8h0M348.9 40.5h0" stroke="#ff2008" stroke-width="1.2" stroke-opacity="1.0" stroke-linecap="round"/><path d="M329.3 2.0h0M332.1 4.7h0M325.7 10.2h0M330.1 20.1h0M332.8 4.1h0M334.9 39.3h0M335.3 21.6h0M329.3 38.0h0M342.6 51.9h0M343.3 48.3h0M348.7 40.6h0M339.8 36.3h0M346.2 48.3h0" stroke="#f02808" stroke-width="2.0" stroke-opacity="0.8" stroke-linecap="round"/><path d="M323.6 9.6h0M340.1 43.2h0M351.7 39.3h0" stroke="#f02808" stroke-width="2.0" stroke-opacity="1.0" stroke-linecap="round"/><path d="M328.2 35.9h0M328.2 24.3h0M327.9 25.5h0M330.7 39.0h0M339.7 33.5h0M323.9 25.8h0M323.9 34.4h0M334.3 39.6h0M333.3 38.3h0M338.3 41.3h0M351.3 42.8h0M340.1 35.1h0M348.6 44.7h0M361.4 97.2h0" stroke="#f02808" stroke-width="1.2" stroke-opacity="1.0" stroke-linecap="round"/><path d="M337.1 23.0h0M340.3 37.2h0" stroke="#ff3008" stroke-width="2.0" stroke-opacity="1.0" stroke-linecap="round"/><path d="M348.9 10.2h0M363.2 29.8h0M356.4 20.7h0M360.8 24.0h0M364.5 28.5h0M362.9 35.9h0M352.9 22.6h0M374.2 9.4h0M394.2 5.3h0M393.0 5.7h0M399.7 21.0h0M397.9 9.4h0M397.7 20.4h0M395.2 5.6h0M380.9 32.6h0M396.3 29.1h0M388.5 31.1h0M381.4 32.7h0M395.4 61.7h0M378.7 64.9h0M377.2 61.9h0M380.3 67.8h0M394.3 57.6h0M375.8 65.0h0M391.6 55.1h0M372.9 59.8h0M385.3 68.8h0M377.5 58.7h0M376.7 53.2h0M385.6 66.6h0M381.8 50.6h0M391.0 50.0h0M393.0 61.0h0M395.9 42.5h0M381.9 51.1h0M399.4 55.1h0M311.8 82.0h0M339.8 84.3h0M334.0 74.2h0M320.2 72.8h0M340.6 81.0h0M334.9 89.8h0M315.2 87.0h0M333.5 79.0h0M318.6 74.9h0M311.4 74.1h0M329.0 80.4h0M288.2 83.2h0M293.5 77.2h0M320.0 101.6h0M321.1 89.7h0M311.0 83.7h0M325.6 89.1h0M333.5 90.0h0M343.1 96.9h0M320.9 93.0h0M339.2 98.3h0M317.9 89.3h0M332.5 102.2h0M324.6 88.9h0M335.3 90.7h0M323.4 100.3h0M317.4 91.6h0M337.8 87.7h0M354.9 86.7h0M357.3 99.3h0M366.6 102.8h0M355.0 97.8h0M344.1 110.4h0M350.1 112.1h0M401.6 99.6h0M393.3 104.7h0M289.5 8.4h0M287.4 23.3h0M287.8 16.3h0M325.5 114.5h0M319.6 114.9h0" stroke="#ff1208" stroke-width="1.6" stroke-opacity="0.8" stroke-linecap="round"/><path d="M346.3 11.0h0M346.4 11.0h0M347.5 10.3h0M347.6 9.2h0M351.4 7.1h0M352.8 5.9h0M356.4 23.0h0M355.5 31.6h0M358.8 43.9h0M366.3 28.6h0M366.4 27.6h0M369.0 7.1h0M368.1 9.9h0M373.3 6.0h0M375.5 4.3h0M391.7 23.8h0M392.5 6.6h0M390.1 19.8h0M390.6 16.4h0M395.8 23.8h0M401.2 8.8h0M393.6 5.1h0M391.4 20.4h0M392.6 4.9h0M398.5 19.2h0M383.5 32.0h0M386.7 30.2h0M391.0 30.9h0M394.7 60.4h0M393.1 60.0h0M385.1 68.3h0M381.2 49.4h0M376.9 63.1h0M377.5 62.9h0M393.6 59.5h0M385.5 71.1h0M372.0 56.2h0M397.0 54.4h0M388.6 66.4h0M383.8 67.7h0M385.4 67.7h0M376.3 45.6h0M377.6 66.7h0M395.6 45.5h0M377.8 44.8h0M399.8 53.4h0M397.0 60.8h0M393.7 61.6h0M325.0 73.0h0M319.9 62.7h0M331.8 76.4h0M321.7 89.0h0M318.9 88.3h0M325.7 74.9h0M310.7 84.6h0M302.0 84.6h0M305.0 83.3h0M305.2 82.8h0M293.9 74.8h0M330.8 86.5h0M327.7 101.4h0M320.7 91.6h0M316.4 90.0h0M316.8 108.1h0M326.5 105.0h0M333.8 89.7h0M336.1 104.9h0M337.2 89.1h0M328.2 101.1h0M319.1 107.4h0M333.4 96.7h0M315.0 94.5h0M319.5 88.2h0M323.3 80.1h0M321.2 94.3h0M335.2 102.9h0M328.2 81.7h0M347.0 106.7h0M336.0 87.8h0M322.9 106.5h0M326.9 88.2h0M321.5 86.6h0M338.4 96.7h0M337.7 96.3h0M331.7 90.6h0M320.2 79.2h0M319.1 90.9h0M318.7 107.6h0M362.7 87.1h0M367.8 115.1h0M358.7 99.5h0M366.5 108.4h0M397.0 95.9h0M395.3 95.5h0M389.2 91.2h0M388.7 89.3h0M396.5 90.4h0M387.4 108.0h0M397.6 99.6h0M390.2 111.8h0M396.8 104.7h0M294.7 18.2h0M320.2 115.1h0M294.5 110.8h0M297.9 112.1h0" stroke="#ff0a00" stroke-width="1.6" stroke-opacity="0.8" stroke-linecap="round"/><path d="M348.5 13.7h0M352.6 42.9h0M398.0 18.2h0M381.0 33.1h0M378.1 49.8h0M381.3 66.9h0M387.7 66.3h0M388.8 64.2h0M392.2 58.1h0M389.6 53.8h0M376.1 56.8h0M375.0 64.6h0M378.5 64.7h0M382.2 45.9h0M395.5 58.5h0M392.9 60.6h0M336.5 74.2h0M325.2 71.1h0M322.1 80.8h0M338.0 66.7h0M299.8 77.3h0M320.8 95.4h0M325.0 88.5h0M329.4 99.8h0M318.6 98.4h0M332.1 90.7h0M331.1 98.4h0M321.3 96.2h0M315.7 96.7h0M317.4 92.2h0M324.1 82.1h0M338.9 84.6h0M362.9 107.5h0M353.2 102.5h0M355.2 91.0h0M352.1 107.2h0M371.9 94.0h0M400.0 100.5h0M397.1 90.6h0" stroke="#ff1208" stroke-width="1.6" stroke-opacity="0.6" stroke-linecap="round"/><path d="M346.6 11.8h0M358.3 37.8h0M368.6 42.3h0M400.0 15.3h0M390.2 9.7h0M378.5 65.1h0M389.2 63.8h0M385.4 47.6h0M382.9 45.6h0M375.7 50.7h0M399.9 52.8h0M320.9 79.8h0M307.6 88.7h0M330.8 86.8h0M301.3 88.6h0M310.1 90.8h0M330.4 87.7h0M350.5 112.1h0M365.2 96.8h0M349.1 106.0h0M364.5 105.9h0M391.3 97.8h0M287.2 29.5h0" stroke="#e80a04" stroke-width="2.0" stroke-opacity="0.8" stroke-linecap="round"/><path d="M348.6 3.8h0M369.8 34.7h0M369.6 32.3h0M355.2 24.9h0M358.1 31.2h0M358.6 39.4h0M355.6 39.9h0M368.5 11.2h0M369.2 8.0h0M389.5 17.8h0M395.7 19.7h0M376.2 66.1h0M380.4 49.6h0M376.4 47.8h0M381.8 69.2h0M383.4 67.6h0M378.4 67.3h0M376.8 52.7h0M382.7 47.3h0M397.0 46.6h0M394.4 60.2h0M398.9 57.0h0M394.9 59.8h0M329.5 78.5h0M315.2 73.2h0M339.6 86.8h0M310.2 72.5h0M313.7 79.9h0M333.8 80.9h0M307.4 83.8h0M310.6 87.8h0M293.8 81.3h0M300.8 90.2h0M318.3 93.4h0M336.0 96.8h0M324.9 104.9h0M323.1 88.9h0M316.6 95.0h0M320.6 99.9h0M321.4 96.1h0M329.4 107.7h0M321.8 93.7h0M320.8 98.2h0M333.0 107.6h0M324.1 99.5h0M321.0 96.3h0M346.3 102.5h0M345.4 104.2h0M344.2 113.0h0M368.6 114.0h0M391.8 91.8h0M392.4 92.0h0M291.2 109.6h0" stroke="#e80a04" stroke-width="1.6" stroke-opacity="0.6" stroke-linecap="round"/><path d="M349.0 10.8h0M370.0 39.0h0M358.6 38.0h0M369.1 42.8h0M355.4 22.2h0M358.0 29.7h0M367.9 21.7h0M392.4 18.7h0M394.2 9.1h0M390.2 20.8h0M389.8 12.4h0M377.8 33.4h0M379.5 52.5h0M385.5 45.9h0M382.2 48.9h0M391.4 52.3h0M392.1 52.6h0M375.0 51.7h0M391.2 46.8h0M378.7 50.1h0M397.3 54.9h0M339.2 65.3h0M335.7 75.2h0M342.8 79.6h0M339.3 78.1h0M340.2 79.9h0M337.3 85.4h0M321.0 86.7h0M292.4 81.0h0M327.2 87.5h0M323.8 106.3h0M328.8 83.8h0M330.4 106.3h0M333.0 96.4h0M331.2 99.4h0M325.0 99.8h0M316.6 93.8h0M333.3 85.8h0M322.5 90.1h0M365.1 109.2h0M365.0 105.2h0M371.2 93.0h0M314.7 111.6h0M326.0 113.5h0M316.9 115.3h0" stroke="#e80a04" stroke-width="1.2" stroke-opacity="0.8" stroke-linecap="round"/><path d="M345.5 15.5h0M353.0 4.0h0M349.8 5.4h0M354.4 5.8h0M359.1 41.8h0M358.2 36.6h0M354.1 23.9h0M370.8 33.3h0M366.8 23.1h0M355.2 21.5h0M357.5 29.8h0M393.8 3.8h0M392.8 29.9h0M378.2 47.7h0M374.7 58.7h0M388.4 51.5h0M396.1 58.9h0M395.8 39.9h0M383.6 46.4h0M378.1 49.6h0M398.0 55.1h0M337.4 63.2h0M317.6 77.3h0M325.4 79.9h0M308.6 69.8h0M294.1 76.0h0M312.2 86.4h0M313.4 88.2h0M319.7 95.9h0M341.0 104.3h0M337.0 96.6h0M318.8 90.9h0M339.4 100.2h0M327.0 87.4h0M330.9 89.3h0M329.2 88.8h0M323.4 88.6h0M352.3 86.6h0M350.8 92.4h0M363.5 109.7h0M393.5 94.9h0M290.1 10.5h0" stroke="#ff2414" stroke-width="1.6" stroke-opacity="1.0" stroke-linecap="round"/><path d="M348.6 11.6h0M349.0 14.2h0M351.3 6.7h0M353.9 4.6h0M351.6 4.8h0M371.3 40.5h0M362.5 40.1h0M366.5 22.1h0M359.7 21.6h0M355.4 25.5h0M368.0 29.3h0M358.2 37.6h0M368.4 21.6h0M359.1 42.3h0M354.6 41.0h0M373.0 7.1h0M369.5 9.7h0M370.1 9.2h0M390.2 14.6h0M396.2 21.6h0M396.6 18.3h0M400.2 6.9h0M391.5 25.9h0M393.6 20.2h0M396.4 17.9h0M379.7 32.4h0M379.3 31.7h0M383.9 30.8h0M380.0 32.1h0M382.3 32.7h0M378.1 70.5h0M381.6 67.0h0M372.7 64.7h0M391.2 58.4h0M376.9 57.6h0M377.5 50.8h0M389.4 53.1h0M384.9 67.1h0M379.5 71.7h0M391.1 54.9h0M373.7 57.4h0M397.0 43.6h0M387.1 46.4h0M400.3 44.4h0M398.9 46.5h0M400.3 54.5h0M395.9 56.6h0M396.7 59.8h0M400.3 55.8h0M395.9 58.8h0M315.3 75.5h0M328.8 72.8h0M325.1 70.1h0M308.1 66.7h0M324.9 87.5h0M336.1 88.7h0M319.3 84.6h0M316.3 62.8h0M328.0 78.0h0M331.6 66.5h0M332.5 89.3h0M334.8 68.1h0M289.4 77.3h0M294.2 71.4h0M301.4 87.5h0M308.9 91.7h0M305.8 87.6h0M321.5 97.5h0M335.0 96.7h0M314.8 98.9h0M330.1 103.5h0M333.3 90.7h0M321.9 107.3h0M340.8 92.4h0M332.3 87.6h0M340.8 89.1h0M318.6 93.3h0M325.7 88.2h0M327.6 88.7h0M333.0 84.8h0M338.9 94.0h0M332.1 82.4h0M319.9 92.7h0M318.8 92.3h0M323.6 101.3h0M327.4 85.9h0M334.3 100.1h0M331.6 89.6h0M321.7 94.8h0M324.2 103.3h0M321.3 92.0h0M324.5 84.8h0M313.8 91.0h0M348.5 100.2h0M354.7 96.5h0M356.0 95.1h0M360.5 96.3h0M367.3 89.6h0M354.7 115.2h0M364.1 103.2h0M369.2 93.1h0M369.9 105.3h0M393.7 92.7h0M400.2 99.2h0M396.3 91.4h0M397.2 91.1h0M390.6 93.9h0M388.2 96.4h0M391.1 98.5h0M399.1 112.1h0M393.8 111.1h0M391.1 99.4h0M294.3 11.8h0M288.4 14.4h0M287.2 110.4h0M308.6 110.7h0" stroke="#f00c04" stroke-width="1.6" stroke-opacity="0.8" stroke-linecap="round"/><path d="M351.5 13.6h0M347.9 11.3h0M348.4 16.5h0M355.0 4.1h0M371.7 23.0h0M360.9 38.0h0M367.1 20.3h0M360.4 42.3h0M361.9 17.9h0M356.9 24.0h0M377.4 4.1h0M367.7 10.0h0M370.1 9.6h0M390.2 7.8h0M394.9 23.1h0M387.7 18.1h0M388.1 12.8h0M398.6 6.8h0M398.6 6.3h0M390.4 4.8h0M401.1 17.3h0M397.8 20.0h0M400.1 17.3h0M383.3 31.5h0M382.6 32.7h0M385.1 32.4h0M394.8 29.1h0M390.7 30.8h0M385.7 31.9h0M392.0 60.7h0M392.6 51.8h0M388.9 65.5h0M391.3 59.4h0M374.5 53.0h0M392.5 52.4h0M378.1 63.1h0M387.1 68.4h0M374.5 66.1h0M390.6 62.5h0M376.5 58.1h0M377.0 63.2h0M378.5 54.0h0M390.9 59.3h0M376.9 56.9h0M387.1 48.2h0M376.1 48.9h0M375.9 51.8h0M374.7 48.8h0M398.0 56.5h0M333.1 80.0h0M328.6 77.6h0M308.6 81.7h0M308.3 74.8h0M335.5 69.0h0M316.8 84.9h0M306.3 94.6h0M301.3 86.8h0M321.4 105.1h0M320.5 103.7h0M321.9 97.6h0M318.6 97.5h0M319.5 86.3h0M317.0 94.2h0M327.2 105.6h0M333.6 104.0h0M320.8 84.9h0M333.2 94.9h0M325.1 88.8h0M343.7 103.0h0M333.4 90.8h0M336.7 81.7h0M336.6 110.3h0M334.8 108.0h0M332.3 91.7h0M318.9 82.9h0M330.7 100.5h0M333.1 93.6h0M354.8 101.2h0M354.0 113.6h0M352.0 102.7h0M351.6 93.1h0M365.2 106.5h0M368.5 97.1h0M394.2 95.0h0M393.6 93.0h0M388.9 97.2h0M390.2 100.4h0M324.3 111.6h0M290.6 114.3h0M305.2 111.4h0M287.8 111.5h0" stroke="#e80a04" stroke-width="1.6" stroke-opacity="0.8" stroke-linecap="round"/><path d="M350.5 14.1h0M347.7 12.4h0M362.2 30.1h0M357.8 16.4h0M365.3 32.3h0M387.0 33.1h0M388.5 52.9h0M394.3 59.7h0M372.4 49.8h0M335.3 70.9h0M310.4 90.1h0M332.1 98.8h0M333.7 97.9h0M331.7 97.7h0M325.8 88.2h0M317.3 94.6h0M317.0 89.3h0M342.9 95.0h0M360.7 105.7h0M397.4 113.9h0M301.0 113.1h0" stroke="#ff0a00" stroke-width="2.0" stroke-opacity="0.8" stroke-linecap="round"/><path d="M350.3 10.9h0M345.8 12.3h0M367.5 27.4h0M359.9 45.9h0M391.7 11.0h0M380.1 31.8h0M393.4 30.1h0M391.7 53.2h0M308.5 87.4h0M313.7 71.4h0M341.6 84.7h0M314.0 73.5h0M324.8 81.2h0M322.9 76.2h0M308.4 87.7h0M296.1 75.8h0M306.0 85.4h0M318.7 87.6h0M334.5 89.0h0M320.7 100.6h0M330.0 108.2h0M312.6 99.0h0M329.7 84.5h0M319.6 98.0h0M325.0 83.2h0M335.9 90.8h0M362.8 98.9h0M366.7 111.2h0M367.7 113.6h0M397.8 105.2h0M389.4 108.5h0M291.9 11.2h0" stroke="#e80a04" stroke-width="1.2" stroke-opacity="0.6" stroke-linecap="round"/><path d="M349.7 9.4h0M359.1 21.3h0M350.2 18.2h0M357.3 27.2h0M394.7 5.8h0M400.0 7.5h0M396.7 4.5h0M388.2 31.8h0M386.2 48.4h0M372.7 56.4h0M392.9 60.5h0M377.5 62.5h0M377.9 50.8h0M329.4 70.2h0M327.0 84.5h0M327.1 73.1h0M319.9 76.5h0M340.9 83.5h0M320.7 78.1h0M327.5 79.3h0M293.0 79.9h0M306.9 88.6h0M325.1 102.2h0M356.6 108.0h0M361.9 88.1h0M369.0 111.3h0M365.7 97.3h0M360.6 91.6h0M396.4 114.7h0M394.6 107.6h0M289.7 6.1h0M321.2 111.2h0" stroke="#e80a04" stroke-width="1.2" stroke-opacity="1.0" stroke-linecap="round"/><path d="M347.6 12.6h0M348.8 12.6h0M356.2 36.0h0M362.3 16.6h0M371.6 25.0h0M355.6 32.7h0M398.9 21.4h0M390.2 12.4h0M378.2 31.7h0M377.0 51.7h0M380.5 68.2h0M379.9 66.2h0M376.1 50.5h0M392.5 55.4h0M392.9 52.7h0M375.7 57.5h0M377.2 56.6h0M388.3 46.2h0M380.7 67.6h0M378.1 62.6h0M386.9 50.1h0M376.2 60.3h0M389.1 46.8h0M373.4 50.0h0M393.8 58.0h0M394.0 60.3h0M336.4 71.8h0M341.9 64.5h0M340.0 80.9h0M299.8 84.2h0M303.8 83.1h0M332.2 104.6h0M320.0 95.4h0M341.7 99.4h0M331.7 89.5h0M327.0 104.7h0M333.4 92.6h0M337.3 94.5h0M327.7 104.0h0M329.6 109.4h0M322.9 98.1h0M341.9 95.2h0M318.1 103.4h0M321.2 89.0h0M349.2 99.6h0M346.4 112.4h0M367.2 91.8h0M348.1 113.3h0" stroke="#f00c04" stroke-width="1.6" stroke-opacity="1.0" stroke-linecap="round"/><path d="M347.7 11.7h0M359.7 34.5h0M355.3 38.8h0M366.4 10.0h0M383.0 29.3h0M387.7 32.3h0M384.9 67.1h0M381.6 47.7h0M383.0 48.9h0M371.5 51.1h0M375.6 50.7h0M394.8 45.0h0M392.4 60.3h0M330.2 74.2h0M342.6 76.7h0M312.3 72.2h0M319.0 64.8h0M315.2 72.7h0M287.4 75.6h0M334.4 93.9h0M319.0 84.0h0M336.5 103.9h0M322.1 109.8h0M333.3 96.3h0M325.6 102.2h0M349.7 106.9h0M353.4 115.0h0M399.9 111.5h0" stroke="#ff1208" stroke-width="1.2" stroke-opacity="0.6" stroke-linecap="round"/><path d="M351.1 12.5h0M345.4 14.0h0M351.9 7.4h0M351.2 7.4h0M366.9 42.1h0M363.2 35.4h0M361.8 23.2h0M362.8 34.1h0M366.0 23.3h0M357.0 36.7h0M361.9 30.6h0M366.6 43.5h0M379.8 3.0h0M391.0 22.5h0M389.7 14.6h0M378.5 30.5h0M382.2 32.2h0M380.5 30.4h0M380.6 33.1h0M383.4 32.0h0M381.0 49.3h0M375.0 59.9h0M391.9 59.6h0M379.6 51.6h0M385.3 67.2h0M380.6 72.6h0M388.2 67.4h0M387.8 66.0h0M378.7 47.4h0M390.4 60.5h0M394.6 52.4h0M374.5 60.7h0M386.9 67.7h0M373.1 52.1h0M386.9 48.0h0M385.0 69.4h0M385.9 49.0h0M378.7 49.0h0M388.3 44.4h0M401.5 45.0h0M393.4 45.8h0M398.7 56.0h0M400.1 50.5h0M397.7 59.0h0M326.9 66.2h0M312.8 77.5h0M322.4 67.5h0M317.1 86.5h0M313.0 75.7h0M307.7 70.4h0M336.9 75.9h0M315.2 76.7h0M324.9 78.7h0M317.1 76.5h0M329.2 81.6h0M309.5 69.0h0M315.9 72.7h0M304.5 82.4h0M290.3 68.2h0M299.0 76.9h0M328.8 83.8h0M327.3 86.5h0M324.0 88.0h0M314.0 92.2h0M322.4 78.9h0M319.7 87.5h0M341.9 93.8h0M319.8 98.0h0M318.0 90.5h0M333.4 91.6h0M316.7 89.4h0M321.5 95.5h0M334.1 89.2h0M317.0 89.5h0M315.2 100.9h0M330.7 86.8h0M364.7 93.3h0M350.6 87.0h0M364.2 97.8h0M354.6 100.1h0M364.4 113.8h0M346.3 97.0h0M366.6 101.2h0M362.7 87.6h0M362.4 109.5h0M367.9 112.5h0M347.8 104.3h0M359.5 92.2h0M401.3 100.0h0M396.8 96.0h0M400.6 115.2h0M311.7 114.6h0" stroke="#ff2414" stroke-width="1.6" stroke-opacity="0.8" stroke-linecap="round"/><path d="M349.6 7.4h0M365.9 11.9h0M399.2 4.4h0M391.3 11.8h0M390.5 60.7h0M379.6 67.0h0M374.8 58.0h0M396.9 43.0h0M392.7 43.9h0M400.2 54.3h0M329.0 75.8h0M334.5 69.3h0M323.3 76.9h0M327.0 65.3h0M335.4 90.9h0M335.6 97.9h0M350.9 108.6h0M367.0 93.1h0M356.5 95.2h0M366.6 111.6h0M366.5 96.4h0M359.1 91.9h0M392.1 96.5h0M386.0 104.2h0M400.7 102.0h0M323.0 109.9h0M308.4 110.8h0" stroke="#f00c04" stroke-width="1.2" stroke-opacity="0.6" stroke-linecap="round"/><path d="M347.0 13.3h0M346.1 12.0h0M346.6 7.9h0M346.1 9.7h0M365.0 23.1h0M360.9 18.5h0M369.4 44.0h0M377.8 4.6h0M377.9 5.3h0M390.5 9.6h0M394.4 3.2h0M401.2 12.4h0M400.2 22.5h0M398.5 5.8h0M378.2 32.3h0M390.9 49.2h0M377.8 46.4h0M375.4 59.5h0M381.9 68.5h0M383.7 67.6h0M378.7 67.3h0M385.6 45.0h0M397.1 45.4h0M397.2 57.6h0M316.5 75.5h0M336.0 77.4h0M338.3 76.6h0M322.1 66.3h0M308.2 64.2h0M339.8 74.7h0M335.7 72.4h0M318.0 68.2h0M320.2 86.3h0M340.0 76.3h0M303.3 80.7h0M302.9 90.4h0M337.0 92.8h0M330.3 106.1h0M328.9 83.1h0M332.9 91.4h0M319.8 91.0h0M338.9 90.8h0M330.5 83.1h0M337.6 80.8h0M339.8 89.8h0M337.5 94.4h0M319.4 93.6h0M335.3 89.4h0M355.0 100.5h0M367.1 114.2h0M353.1 103.3h0M356.3 92.2h0M357.0 99.6h0M362.5 112.7h0M361.7 93.5h0M393.4 92.1h0M391.6 94.5h0M396.1 93.8h0M398.5 105.6h0M385.2 108.5h0M312.6 115.1h0M298.7 114.4h0M320.9 113.9h0" stroke="#ff1208" stroke-width="1.6" stroke-opacity="1.0" stroke-linecap="round"/><path d="M345.5 9.9h0M354.2 4.8h0M355.6 20.8h0M354.8 18.7h0M350.5 17.0h0M369.9 9.8h0M395.2 4.5h0M390.8 23.0h0M391.0 17.6h0M389.0 12.4h0M379.8 67.8h0M378.0 67.2h0M378.9 70.4h0M386.8 50.4h0M374.9 64.6h0M376.4 62.3h0M387.9 45.8h0M386.7 50.7h0M390.7 53.2h0M394.9 46.5h0M331.4 69.6h0M341.3 84.9h0M311.6 64.1h0M342.6 87.1h0M337.0 62.6h0M329.5 89.7h0M326.8 82.9h0M310.4 77.6h0M299.9 85.3h0M299.3 74.5h0M295.0 80.3h0M305.4 85.0h0M325.5 87.8h0M328.5 89.3h0M311.5 99.0h0M321.2 91.4h0M325.9 88.1h0M324.9 98.8h0M320.5 100.8h0M332.2 106.7h0M334.1 93.5h0M326.7 101.4h0M330.1 87.2h0M356.2 98.1h0M344.7 88.8h0M364.9 88.7h0M370.2 93.9h0M350.6 91.2h0M357.4 96.7h0M393.5 93.3h0M398.4 87.7h0" stroke="#ff1208" stroke-width="1.2" stroke-opacity="0.8" stroke-linecap="round"/><path d="M347.4 13.9h0M353.8 45.2h0M350.6 43.1h0M396.4 21.2h0M384.3 31.6h0M393.4 30.3h0M393.8 56.7h0M371.5 51.4h0M312.1 67.9h0M322.7 63.8h0M314.9 80.0h0M333.2 68.1h0M311.2 87.8h0M319.8 98.3h0M318.9 93.8h0M311.8 84.7h0M333.4 85.8h0M337.6 101.0h0M332.3 97.6h0M351.6 112.3h0M352.7 95.7h0M361.6 103.4h0M400.5 101.4h0M389.2 113.7h0M287.3 11.8h0" stroke="#ff2414" stroke-width="2.0" stroke-opacity="0.8" stroke-linecap="round"/><path d="M345.3 9.6h0M350.9 12.4h0M350.2 6.9h0M357.0 33.1h0M352.2 40.6h0M351.1 21.7h0M355.9 24.3h0M354.0 16.9h0M377.1 4.4h0M371.3 9.0h0M389.6 8.5h0M390.4 18.3h0M395.1 28.1h0M382.5 31.6h0M388.3 29.5h0M394.3 48.8h0M388.2 51.2h0M383.0 49.2h0M387.2 68.5h0M395.0 54.0h0M342.4 77.9h0M332.1 66.1h0M339.9 70.4h0M307.6 71.6h0M307.7 68.0h0M315.3 84.0h0M331.2 68.9h0M305.2 82.5h0M311.1 83.6h0M314.9 90.0h0M334.9 88.5h0M327.4 106.7h0M318.4 93.7h0M322.9 85.7h0M308.9 88.3h0M320.4 97.8h0M332.7 96.8h0M334.3 99.3h0M321.2 103.1h0M337.4 103.6h0M331.8 87.9h0M360.7 112.1h0M369.3 92.0h0M362.7 113.5h0M369.9 106.5h0M362.4 94.1h0M391.4 87.6h0M398.3 95.7h0M396.4 87.1h0M317.7 114.6h0" stroke="#ff0a00" stroke-width="1.6" stroke-opacity="1.0" stroke-linecap="round"/><path d="M346.1 13.8h0M364.5 20.8h0M355.3 44.3h0M368.9 34.6h0M365.7 19.9h0M350.6 39.7h0M398.4 5.6h0M397.3 6.8h0M396.9 4.4h0M401.3 15.7h0M380.1 31.9h0M386.1 45.0h0M377.2 52.4h0M375.3 75.2h0M385.2 48.1h0M392.1 45.4h0M373.8 49.2h0M400.9 43.2h0M396.6 57.3h0M308.8 78.1h0M302.9 81.8h0M331.9 90.6h0M322.3 88.2h0M323.5 97.9h0M320.8 99.2h0M322.6 88.2h0M337.2 93.3h0M317.8 94.1h0M356.8 88.1h0M365.7 113.8h0M349.7 106.0h0M361.5 102.5h0" stroke="#ff1208" stroke-width="2.0" stroke-opacity="0.8" stroke-linecap="round"/><path d="M348.7 9.4h0M349.4 13.2h0M350.2 7.2h0M357.5 21.3h0M360.3 28.9h0M367.4 29.9h0M365.9 44.9h0M359.8 42.7h0M360.8 31.8h0M392.2 6.8h0M386.8 31.6h0M385.0 32.7h0M390.4 49.3h0M389.1 52.0h0M372.9 53.5h0M374.3 56.1h0M377.0 55.0h0M377.4 57.0h0M388.9 64.5h0M375.9 65.2h0M390.3 54.8h0M387.0 49.7h0M399.7 53.5h0M340.1 86.7h0M311.9 66.9h0M321.6 71.2h0M308.5 74.2h0M334.3 84.3h0M318.4 71.4h0M317.2 82.4h0M287.7 74.4h0M289.8 77.8h0M338.3 95.0h0M320.2 90.4h0M327.3 86.2h0M313.0 92.3h0M327.8 84.5h0M317.1 93.9h0M334.3 105.2h0M322.8 89.2h0M328.0 88.0h0M334.9 102.3h0M344.7 110.2h0M355.8 110.8h0M359.3 110.9h0M366.6 108.5h0M360.7 108.0h0M350.0 111.1h0M370.8 112.2h0M391.8 113.1h0M287.8 24.5h0M289.5 30.7h0M301.9 111.6h0M317.4 112.7h0" stroke="#ff0a00" stroke-width="1.6" stroke-opacity="0.6" stroke-linecap="round"/><path d="M348.2 6.9h0M359.3 23.1h0M387.2 31.4h0M378.0 70.9h0M376.9 65.7h0M323.2 86.8h0M323.0 77.2h0M295.6 76.4h0M324.9 88.6h0M320.6 94.5h0M327.3 88.3h0M319.7 84.6h0M316.3 94.3h0M346.3 91.1h0M393.4 91.1h0M393.1 103.3h0M300.3 110.6h0" stroke="#f00c04" stroke-width="2.0" stroke-opacity="0.6" stroke-linecap="round"/><path d="M346.3 9.2h0M366.5 25.4h0M370.6 40.9h0M370.5 32.4h0M359.8 19.7h0M395.7 5.3h0M393.8 22.2h0M387.5 29.7h0M389.5 32.3h0M377.2 51.3h0M385.1 49.6h0M395.4 62.7h0M385.4 70.1h0M375.0 60.6h0M378.1 48.2h0M395.6 46.4h0M337.9 79.4h0M316.0 72.0h0M340.4 76.4h0M309.7 70.4h0M342.6 71.2h0M292.6 77.4h0M291.4 77.8h0M321.1 94.0h0M321.7 90.8h0M330.9 89.1h0M334.7 98.6h0M326.2 102.4h0M321.0 94.8h0M352.3 107.3h0M357.5 110.9h0M356.5 94.4h0M395.7 99.1h0M393.6 91.3h0" stroke="#ff0a00" stroke-width="1.2" stroke-opacity="0.6" stroke-linecap="round"/><path d="M345.8 9.4h0M366.1 19.5h0M358.4 16.8h0M359.3 41.5h0M368.0 19.0h0M364.9 24.3h0M377.2 5.6h0M398.0 5.9h0M400.7 12.5h0M390.7 24.7h0M397.5 3.3h0M372.7 58.4h0M381.4 51.3h0M378.6 52.3h0M380.2 68.7h0M376.0 55.2h0M396.1 59.1h0M376.0 56.3h0M388.4 45.1h0M392.8 62.5h0M379.1 64.2h0M393.4 51.4h0M373.9 65.2h0M376.5 62.0h0M387.1 51.0h0M385.9 66.7h0M386.4 69.8h0M394.3 53.1h0M393.8 46.4h0M390.7 46.4h0M397.0 58.2h0M317.7 86.6h0M329.7 80.7h0M318.1 90.1h0M341.0 83.9h0M313.5 73.2h0M312.3 87.0h0M328.1 71.1h0M315.2 74.0h0M320.4 74.9h0M339.0 80.3h0M340.2 77.9h0M324.7 84.2h0M295.5 77.4h0M299.0 81.8h0M335.2 93.1h0M330.9 100.4h0M321.5 95.7h0M328.3 100.8h0M337.3 100.9h0M339.2 104.2h0M327.0 81.4h0M321.4 86.8h0M328.4 88.4h0M316.5 88.4h0M321.2 97.7h0M333.0 97.0h0M333.1 95.0h0M322.6 99.3h0M330.0 104.6h0M339.0 96.1h0M331.8 84.0h0M355.3 114.8h0M366.3 98.5h0M356.0 114.2h0M351.2 109.9h0M352.7 110.5h0M391.3 89.1h0M400.7 98.1h0M395.1 93.6h0M395.1 90.1h0M390.7 105.8h0M386.5 107.9h0M392.8 102.1h0M391.5 107.7h0M288.2 18.2h0M308.1 114.6h0" stroke="#ff2414" stroke-width="1.2" stroke-opacity="0.8" stroke-linecap="round"/><path d="M344.9 12.3h0M351.7 4.7h0M366.4 45.6h0M352.5 40.1h0M360.4 37.6h0M367.2 36.4h0M365.6 20.4h0M378.3 5.1h0M376.9 5.8h0M398.3 5.1h0M384.0 30.9h0M384.0 32.7h0M385.0 66.8h0M393.5 60.6h0M387.7 67.5h0M379.8 51.6h0M380.7 67.2h0M373.0 61.1h0M390.2 62.3h0M374.0 58.1h0M374.6 69.6h0M400.6 42.4h0M397.4 57.7h0M392.2 62.4h0M393.7 56.8h0M315.7 74.0h0M312.2 75.2h0M322.9 80.1h0M321.7 73.9h0M316.8 78.2h0M330.0 79.7h0M314.1 79.9h0M310.3 84.4h0M306.3 85.9h0M332.3 99.7h0M330.4 104.6h0M329.5 88.4h0M336.8 96.6h0M310.5 88.0h0M333.0 103.1h0M334.5 102.0h0M370.5 95.0h0M349.9 112.6h0M344.3 92.0h0M354.0 93.4h0M365.6 108.9h0M359.8 102.6h0M388.5 88.5h0M397.2 91.0h0M397.8 91.6h0M400.3 108.7h0M389.5 105.6h0" stroke="#ff2414" stroke-width="1.6" stroke-opacity="0.6" stroke-linecap="round"/><path d="M347.3 14.0h0M366.1 24.1h0M357.7 21.0h0M373.6 10.2h0M373.7 8.8h0M397.9 4.5h0M392.4 18.8h0M388.3 10.9h0M388.0 31.8h0M390.6 29.6h0M380.6 68.5h0M377.0 53.8h0M378.1 51.4h0M390.7 63.5h0M388.7 48.9h0M374.4 59.5h0M389.4 51.2h0M380.8 50.1h0M397.2 42.8h0M390.0 46.6h0M316.5 88.9h0M309.0 83.3h0M335.4 63.9h0M299.0 87.2h0M307.4 89.2h0M325.8 101.0h0M324.4 88.7h0M335.2 92.3h0M330.2 102.1h0M334.5 96.8h0M349.3 109.7h0M349.6 108.5h0M394.5 94.2h0M396.8 91.9h0M292.3 19.2h0M292.5 17.3h0" stroke="#ff2414" stroke-width="1.2" stroke-opacity="1.0" stroke-linecap="round"/><path d="M348.9 14.5h0M350.7 5.5h0M352.2 6.3h0M365.3 41.3h0M377.3 5.5h0M374.7 8.3h0M376.4 7.1h0M400.9 12.5h0M398.3 5.0h0M396.6 18.4h0M387.1 9.7h0M383.8 32.3h0M392.3 54.1h0M381.0 48.8h0M379.7 65.3h0M379.1 65.0h0M384.1 49.8h0M383.5 73.8h0M391.5 56.3h0M390.7 61.3h0M379.0 50.3h0M393.0 47.2h0M396.5 56.6h0M323.2 71.4h0M331.6 72.8h0M314.5 75.4h0M330.1 86.9h0M324.4 73.2h0M326.2 64.5h0M313.2 82.7h0M298.2 82.0h0M322.1 88.9h0M333.6 95.2h0M324.7 99.9h0M322.4 99.1h0M332.0 97.2h0M366.2 109.6h0M351.8 105.8h0M352.7 103.8h0M366.7 105.7h0M392.2 92.0h0M389.9 89.7h0M390.8 101.9h0M291.9 112.9h0" stroke="#ff1208" stroke-width="1.2" stroke-opacity="1.0" stroke-linecap="round"/><path d="M346.3 11.6h0M355.7 5.2h0M357.9 39.5h0M367.6 37.2h0M357.8 33.5h0M367.5 18.5h0M371.0 7.9h0M393.7 5.1h0M390.8 18.5h0M384.0 32.8h0M379.8 51.0h0M376.3 53.6h0M382.4 68.4h0M377.5 57.8h0M391.1 49.7h0M390.2 52.6h0M393.6 58.6h0M384.5 67.8h0M387.6 65.7h0M392.6 60.5h0M384.7 67.7h0M371.0 54.1h0M393.1 60.0h0M342.8 83.3h0M323.7 81.3h0M307.2 78.9h0M318.9 71.6h0M331.9 79.2h0M298.7 82.5h0M295.8 76.7h0M290.3 78.5h0M321.0 94.9h0M319.7 99.2h0M317.9 90.3h0M337.9 97.7h0M344.8 98.7h0M320.6 90.0h0M323.3 105.7h0M330.3 107.5h0M329.9 101.2h0M353.0 108.7h0M353.4 96.7h0M365.9 91.3h0M356.0 107.7h0M350.9 110.8h0M348.4 98.3h0M344.7 101.4h0M394.6 95.4h0M395.8 90.8h0M394.6 94.3h0M390.6 97.2h0M288.1 20.3h0M287.9 112.8h0M293.8 114.7h0M326.1 114.5h0M301.1 110.4h0M323.4 113.9h0" stroke="#f00c04" stroke-width="1.6" stroke-opacity="0.6" stroke-linecap="round"/><path d="M350.3 7.3h0M355.3 4.2h0M361.9 18.5h0M352.4 36.1h0M371.3 29.6h0M364.0 45.8h0M389.8 7.0h0M398.7 6.5h0M392.4 7.7h0M390.4 16.0h0M394.7 7.1h0M397.3 5.1h0M388.7 31.3h0M385.5 33.6h0M383.2 48.6h0M391.1 60.1h0M390.1 51.2h0M375.8 50.3h0M391.3 51.8h0M377.1 58.3h0M377.4 54.9h0M384.8 50.5h0M396.6 45.9h0M373.5 50.1h0M394.7 46.0h0M379.8 49.7h0M400.0 44.4h0M386.0 50.0h0M308.0 87.1h0M322.4 72.8h0M340.7 85.0h0M332.4 87.8h0M313.4 72.2h0M319.7 71.2h0M333.2 81.6h0M333.8 67.2h0M326.5 83.9h0M310.9 70.9h0M289.6 72.4h0M316.2 94.2h0M309.2 91.1h0M290.3 78.2h0M292.5 76.2h0M326.5 113.8h0M324.3 100.8h0M332.1 99.4h0M329.2 102.9h0M338.5 89.5h0M336.3 91.5h0M342.4 93.2h0M334.9 91.1h0M317.2 90.8h0M318.2 100.7h0M319.8 97.9h0M335.0 86.5h0M333.9 98.9h0M364.1 86.9h0M365.3 92.8h0M366.7 111.1h0M390.4 89.9h0M397.7 88.3h0M397.6 89.0h0M397.0 88.5h0M399.1 89.4h0M399.9 105.3h0M392.8 103.5h0M396.0 113.3h0M293.3 13.1h0M313.4 110.8h0M317.6 110.1h0" stroke="#f00c04" stroke-width="1.2" stroke-opacity="0.8" stroke-linecap="round"/><path d="M351.3 5.6h0M384.7 33.0h0M381.7 67.0h0M379.0 69.1h0M380.0 48.2h0M396.6 57.6h0M318.4 95.3h0M312.5 94.6h0M321.4 87.2h0M308.7 94.3h0M361.2 105.6h0" stroke="#ff1208" stroke-width="2.0" stroke-opacity="0.6" stroke-linecap="round"/><path d="M351.2 45.3h0M366.5 21.5h0M401.7 13.3h0M400.5 18.6h0M374.0 61.9h0M380.9 50.0h0M378.0 76.1h0M388.0 51.4h0M400.8 44.4h0M400.0 43.7h0M330.2 74.4h0M323.5 63.3h0M339.5 66.3h0M314.3 88.5h0M309.8 68.4h0M330.7 65.8h0M312.0 85.7h0M323.8 86.5h0M333.2 88.1h0M333.9 92.3h0M327.8 88.3h0M338.3 70.4h0M358.9 87.4h0M371.3 105.3h0M363.4 91.7h0M395.3 92.9h0M394.0 111.3h0M295.5 1.7h0M287.5 2.3h0M319.5 109.7h0M300.5 110.7h0" stroke="#ff2414" stroke-width="1.2" stroke-opacity="0.6" stroke-linecap="round"/><path d="M357.8 26.2h0M367.8 16.5h0M391.2 18.5h0M390.4 9.1h0M388.5 15.3h0M389.7 15.0h0M385.1 50.4h0M376.4 56.2h0M382.7 73.7h0M377.3 57.0h0M383.1 69.2h0M384.2 50.2h0M387.3 66.4h0M380.9 48.8h0M342.7 71.4h0M316.6 86.4h0M341.3 84.7h0M333.1 72.4h0M296.6 80.6h0M334.4 94.4h0M331.2 98.4h0M324.8 82.4h0M327.8 107.6h0M337.8 77.8h0M333.1 94.3h0M351.2 114.9h0M346.6 110.8h0M401.1 95.9h0M391.7 90.3h0M295.5 17.9h0" stroke="#ff0a00" stroke-width="1.2" stroke-opacity="1.0" stroke-linecap="round"/><path d="M359.4 37.3h0M351.3 40.4h0M352.0 29.2h0M353.2 24.8h0M362.3 44.8h0M361.2 31.2h0M371.7 37.8h0M350.1 29.0h0M356.1 39.7h0M369.1 10.3h0M369.7 9.4h0M398.4 6.7h0M390.7 17.0h0M376.7 31.6h0M385.0 29.3h0M380.2 31.4h0M394.9 29.9h0M376.8 56.1h0M384.2 50.6h0M377.9 49.4h0M372.2 57.8h0M385.2 67.9h0M379.0 52.3h0M390.0 62.9h0M382.4 50.2h0M389.7 52.2h0M376.4 57.0h0M385.0 48.5h0M377.0 62.6h0M399.9 54.3h0M394.0 60.4h0M397.2 53.5h0M400.5 55.5h0M315.4 77.6h0M321.8 62.8h0M326.9 86.8h0M317.5 81.4h0M325.9 79.1h0M327.4 87.7h0M309.9 80.0h0M328.1 88.3h0M334.3 74.0h0M295.8 78.8h0M313.2 89.9h0M312.4 89.6h0M300.4 73.8h0M290.3 75.2h0M336.9 91.7h0M323.9 88.3h0M321.0 103.2h0M322.2 91.5h0M321.1 96.8h0M328.8 101.2h0M328.0 87.4h0M330.2 102.8h0M338.7 97.5h0M320.3 92.1h0M338.0 99.5h0M341.9 98.9h0M328.8 88.9h0M353.1 95.2h0M361.9 103.6h0M358.0 92.8h0M363.7 88.5h0M370.3 90.9h0M371.8 100.7h0M397.4 97.3h0M390.0 89.2h0M401.6 100.1h0M392.2 91.0h0M394.8 109.8h0M393.0 114.6h0M291.9 115.1h0M306.6 112.9h0" stroke="#ff0a00" stroke-width="1.2" stroke-opacity="0.8" stroke-linecap="round"/><path d="M353.9 17.5h0M363.1 18.7h0M359.4 28.1h0M350.5 39.2h0M373.1 7.0h0M375.8 4.8h0M370.7 9.4h0M371.3 9.4h0M369.0 10.8h0M397.2 19.8h0M379.7 31.5h0M385.6 48.3h0M389.2 53.1h0M392.7 58.0h0M387.5 49.3h0M386.8 49.2h0M382.1 69.3h0M388.0 45.1h0M398.6 45.4h0M377.6 49.4h0M307.0 80.1h0M307.1 87.2h0M330.9 76.5h0M334.0 88.4h0M310.2 86.0h0M333.5 91.5h0M333.5 88.2h0M320.2 96.9h0M323.0 88.2h0M322.3 102.2h0M323.5 98.2h0M333.0 107.5h0M347.4 108.2h0M387.2 89.0h0M393.2 92.4h0M288.7 11.4h0" stroke="#e80a04" stroke-width="1.6" stroke-opacity="1.0" stroke-linecap="round"/><path d="M351.3 44.9h0M361.1 20.3h0M370.4 23.7h0M392.0 20.8h0M392.3 19.8h0M379.2 48.3h0M396.4 56.1h0M393.0 54.4h0M386.2 50.1h0M375.9 60.1h0M373.3 60.6h0M374.3 59.9h0M377.8 52.2h0M377.4 50.0h0M311.8 64.4h0M338.7 80.4h0M336.1 90.6h0M328.4 82.7h0M324.3 98.5h0M332.0 84.1h0M333.2 101.4h0M334.9 105.9h0M339.4 92.8h0M371.5 102.6h0M366.4 114.4h0M365.6 102.9h0M351.7 112.3h0M386.0 108.3h0" stroke="#f00c04" stroke-width="1.2" stroke-opacity="1.0" stroke-linecap="round"/><path d="M362.8 43.9h0M381.9 49.9h0M388.3 52.3h0M373.8 57.9h0M386.3 45.6h0M390.1 63.2h0M310.5 72.8h0M335.8 105.3h0M337.1 92.5h0M360.8 94.1h0M363.5 100.6h0" stroke="#ff0a00" stroke-width="2.0" stroke-opacity="0.6" stroke-linecap="round"/><path d="M372.0 36.3h0M354.3 16.6h0M381.0 31.1h0M373.0 66.9h0M379.0 66.1h0M320.6 81.6h0M335.1 77.0h0M319.9 86.9h0M332.7 102.2h0M341.4 95.6h0M332.1 87.8h0M320.2 83.2h0M324.7 84.3h0M334.9 98.4h0M341.3 83.8h0M370.8 87.7h0M347.6 92.9h0M396.1 91.7h0M387.8 109.0h0M388.3 101.6h0" stroke="#f00c04" stroke-width="2.0" stroke-opacity="0.8" stroke-linecap="round"/><path d="M350.2 34.1h0M364.2 22.1h0M379.8 31.6h0M382.4 66.6h0M377.5 66.9h0M325.7 74.2h0M328.1 73.4h0M318.2 62.7h0M335.5 101.8h0M325.1 100.4h0M345.4 97.0h0" stroke="#ff2414" stroke-width="2.0" stroke-opacity="1.0" stroke-linecap="round"/><path d="M365.7 25.9h0M393.7 4.1h0M370.8 53.5h0M377.4 58.9h0M393.8 60.7h0M318.8 65.5h0M328.0 85.3h0M320.5 84.8h0M345.0 111.2h0M388.9 97.0h0M387.7 109.8h0" stroke="#ff2414" stroke-width="2.0" stroke-opacity="0.6" stroke-linecap="round"/><path d="M359.6 38.1h0M370.6 51.0h0M390.8 59.5h0M375.3 51.9h0M323.0 85.3h0M290.2 82.8h0M321.6 91.3h0M321.4 93.7h0" stroke="#ff1208" stroke-width="2.0" stroke-opacity="1.0" stroke-linecap="round"/><path d="M355.8 19.3h0M389.5 18.8h0M392.7 23.0h0M376.3 59.5h0M312.0 65.6h0M321.4 64.1h0M333.3 86.9h0" stroke="#e80a04" stroke-width="2.0" stroke-opacity="1.0" stroke-linecap="round"/><path d="M369.5 31.9h0M375.1 7.8h0M395.2 58.4h0M307.6 74.8h0M335.8 62.4h0M329.0 88.6h0M312.6 88.6h0M315.3 103.9h0M342.7 109.4h0M347.2 106.7h0M371.0 100.3h0" stroke="#ff0a00" stroke-width="2.0" stroke-opacity="1.0" stroke-linecap="round"/><path d="M377.0 6.1h0M388.7 51.1h0M391.8 51.0h0M376.3 71.9h0M384.2 68.8h0M316.4 79.2h0M289.8 76.2h0M339.9 96.3h0M355.8 112.2h0M360.0 99.6h0M349.2 92.6h0" stroke="#f00c04" stroke-width="2.0" stroke-opacity="1.0" stroke-linecap="round"/><path d="M370.3 9.0h0M378.5 63.4h0M384.3 48.5h0M328.2 62.6h0M336.6 72.5h0M324.9 84.0h0M333.1 92.1h0M310.9 108.8h0M326.2 87.2h0M350.1 104.0h0M347.7 114.3h0M398.0 89.1h0" stroke="#e80a04" stroke-width="2.0" stroke-opacity="0.6" stroke-linecap="round"/><path d="M345.2 98.5h0M374.3 65.4h0M320.7 4.3h0M287.8 85.0h0M384.0 19.4h0" stroke="#c00808" stroke-width="1.6" stroke-opacity="0.4" stroke-linecap="round"/><path d="M293.6 68.7h0M376.2 6.1h0M382.7 62.6h0M385.8 71.1h0M365.9 93.0h0M311.5 29.9h0M311.8 14.3h0M346.3 61.6h0M365.5 62.2h0M302.3 17.5h0M362.5 89.9h0M323.3 54.5h0M294.1 73.9h0M367.7 98.6h0" stroke="#b00404" stroke-width="1.6" stroke-opacity="0.6" stroke-linecap="round"/><path d="M367.2 108.2h0M369.0 40.5h0M301.4 86.5h0M395.0 95.8h0M340.8 95.4h0M304.5 50.2h0M344.2 109.0h0M308.7 95.1h0M395.3 96.4h0M330.5 60.2h0M383.7 6.2h0M369.0 41.6h0M326.6 90.9h0" stroke="#c00808" stroke-width="1.2" stroke-opacity="0.6" stroke-linecap="round"/><path d="M339.7 72.5h0M356.6 63.1h0M303.7 93.6h0M376.4 13.8h0M344.6 53.2h0M306.1 106.5h0M320.1 107.1h0" stroke="#900404" stroke-width="1.6" stroke-opacity="0.6" stroke-linecap="round"/><path d="M302.0 38.7h0" stroke="#a00606" stroke-width="0.8" stroke-opacity="0.8" stroke-linecap="round"/><path d="M400.8 27.9h0M328.3 15.4h0M336.0 73.0h0M313.7 40.6h0M310.6 19.0h0M389.1 45.7h0M350.4 92.3h0M334.6 2.6h0" stroke="#900404" stroke-width="1.6" stroke-opacity="0.4" stroke-linecap="round"/><path d="M370.0 7.6h0M348.9 77.7h0M317.5 28.9h0M364.9 94.5h0M292.5 111.3h0" stroke="#c00808" stroke-width="0.8" stroke-opacity="0.6" stroke-linecap="round"/><path d="M313.7 11.0h0M379.8 7.0h0M398.9 18.8h0M383.4 98.1h0M377.4 91.2h0M320.8 96.5h0M340.3 59.8h0M314.5 49.3h0" stroke="#a00606" stroke-width="1.2" stroke-opacity="0.4" stroke-linecap="round"/><path d="M333.8 22.4h0M392.7 30.7h0M333.0 75.6h0M339.9 20.6h0" stroke="#c00808" stroke-width="1.2" stroke-opacity="0.8" stroke-linecap="round"/><path d="M287.5 108.6h0M336.7 114.4h0M323.8 110.8h0M307.7 29.8h0M338.4 94.9h0M352.6 44.4h0M365.0 94.0h0M381.6 39.1h0M322.3 18.5h0M333.0 38.6h0" stroke="#a00606" stroke-width="1.6" stroke-opacity="0.6" stroke-linecap="round"/><path d="M328.4 25.4h0M344.9 29.6h0M337.2 57.4h0M364.2 106.0h0M302.0 63.0h0M351.3 67.9h0M347.5 39.9h0M322.9 73.1h0M325.9 48.6h0" stroke="#a00606" stroke-width="1.2" stroke-opacity="0.6" stroke-linecap="round"/><path d="M303.1 18.1h0M302.2 80.8h0M304.5 50.3h0M351.2 35.9h0M376.9 110.0h0M331.9 98.3h0M331.2 40.8h0M361.7 76.1h0M329.9 45.4h0M320.7 46.2h0M293.7 16.1h0" stroke="#900404" stroke-width="1.2" stroke-opacity="0.6" stroke-linecap="round"/><path d="M324.4 54.5h0M329.3 59.1h0M308.7 75.5h0M375.1 27.4h0M386.7 86.4h0M367.6 8.9h0" stroke="#900404" stroke-width="1.2" stroke-opacity="0.4" stroke-linecap="round"/><path d="M297.1 71.8h0M297.2 63.5h0M399.7 114.0h0M393.6 21.9h0M324.1 86.2h0M391.2 33.6h0M334.2 69.6h0M356.3 8.7h0M342.6 109.8h0M299.2 69.2h0M344.5 23.0h0M316.3 36.5h0" stroke="#b00404" stroke-width="1.2" stroke-opacity="0.6" stroke-linecap="round"/><path d="M312.8 69.1h0M400.9 51.8h0M322.4 104.6h0M377.2 51.5h0M292.8 95.6h0M354.8 108.2h0M381.1 52.5h0M327.5 2.3h0" stroke="#a00606" stroke-width="1.6" stroke-opacity="0.4" stroke-linecap="round"/><path d="M366.2 23.3h0M317.9 61.2h0M310.0 83.3h0M323.4 80.2h0" stroke="#900404" stroke-width="1.2" stroke-opacity="0.8" stroke-linecap="round"/><path d="M323.6 46.2h0M391.4 60.6h0M306.7 62.1h0M368.5 91.4h0" stroke="#a00606" stroke-width="1.2" stroke-opacity="0.8" stroke-linecap="round"/><path d="M379.9 18.6h0" stroke="#c00808" stroke-width="0.8" stroke-opacity="0.8" stroke-linecap="round"/><path d="M320.0 100.4h0M390.8 98.9h0M293.5 36.4h0M392.1 27.8h0M320.8 50.3h0M311.2 93.1h0" stroke="#c00808" stroke-width="1.2" stroke-opacity="0.4" stroke-linecap="round"/><path d="M299.3 69.4h0M291.5 56.5h0M383.9 92.8h0M337.7 79.3h0M352.2 23.5h0M388.9 90.0h0" stroke="#c00808" stroke-width="1.6" stroke-opacity="0.6" stroke-linecap="round"/><path d="M319.9 35.5h0M328.1 96.6h0M343.6 38.9h0M309.2 107.2h0" stroke="#900404" stroke-width="1.6" stroke-opacity="0.8" stroke-linecap="round"/><path d="M373.3 99.3h0M384.4 3.6h0" stroke="#a00606" stroke-width="0.8" stroke-opacity="0.4" stroke-linecap="round"/><path d="M357.8 44.1h0M301.1 12.9h0M376.9 24.2h0" stroke="#900404" stroke-width="0.8" stroke-opacity="0.8" stroke-linecap="round"/><path d="M366.0 96.5h0M344.6 103.1h0M387.7 109.2h0M348.9 83.1h0M366.8 89.6h0" stroke="#a00606" stroke-width="1.6" stroke-opacity="0.8" stroke-linecap="round"/><path d="M326.9 5.3h0M399.5 105.8h0M300.8 48.0h0" stroke="#c00808" stroke-width="1.6" stroke-opacity="0.8" stroke-linecap="round"/><path d="M335.1 72.7h0M356.8 76.3h0M288.1 11.7h0M307.0 61.6h0M343.1 4.8h0M336.4 52.5h0M400.1 92.7h0M330.9 37.5h0M345.8 107.3h0M362.3 70.5h0" stroke="#b00404" stroke-width="1.6" stroke-opacity="0.4" stroke-linecap="round"/><path d="M357.4 17.2h0M329.3 102.4h0M358.4 13.5h0M288.2 54.4h0" stroke="#b00404" stroke-width="0.8" stroke-opacity="0.6" stroke-linecap="round"/><path d="M327.5 112.9h0M322.1 87.3h0M357.9 102.8h0M398.0 62.2h0M310.0 88.0h0M380.3 8.9h0M338.2 58.5h0M289.0 94.7h0" stroke="#b00404" stroke-width="1.2" stroke-opacity="0.4" stroke-linecap="round"/><path d="M311.9 81.9h0M395.4 104.4h0M333.8 27.0h0M399.8 21.8h0" stroke="#b00404" stroke-width="1.2" stroke-opacity="0.8" stroke-linecap="round"/><path d="M377.0 96.5h0M336.0 79.3h0M379.1 112.3h0" stroke="#a00606" stroke-width="0.8" stroke-opacity="0.6" stroke-linecap="round"/><path d="M292.6 4.0h0M355.8 113.4h0" stroke="#900404" stroke-width="0.8" stroke-opacity="0.6" stroke-linecap="round"/><path d="M357.7 84.4h0" stroke="#b00404" stroke-width="1.6" stroke-opacity="0.8" stroke-linecap="round"/><path d="M338.9 7.9h0" stroke="#c00808" stroke-width="0.8" stroke-opacity="0.4" stroke-linecap="round"/><path d="M327.5 39.8h0" stroke="#b00404" stroke-width="0.8" stroke-opacity="0.4" stroke-linecap="round"/></g></g>
<g clip-path="url(#cB2)"><rect x="404" y="1.3" width="114" height="114.3" fill="#070000"/><g filter="url(#soft)"><path d="M448.3 45.7h0M456.9 18.5h0M463.7 7.9h0M462.8 0.6h0M427.2 87.6h0" stroke="#50c820" stroke-width="1.6" stroke-opacity="0.4" stroke-linecap="round"/><path d="M455.3 42.4h0M469.3 57.4h0M477.6 68.2h0M476.1 54.9h0M467.6 55.2h0M467.1 58.9h0M466.6 57.6h0" stroke="#30d020" stroke-width="0.8" stroke-opacity="0.6" stroke-linecap="round"/><path d="M454.1 32.7h0M452.9 39.6h0M464.3 34.5h0M450.2 7.8h0M435.7 43.5h0M452.3 23.8h0M462.8 30.4h0M463.4 85.2h0M464.6 62.4h0M468.0 68.3h0M430.6 92.3h0" stroke="#50c820" stroke-width="1.2" stroke-opacity="0.4" stroke-linecap="round"/><path d="M452.2 12.2h0M453.8 43.2h0M447.1 44.9h0M462.9 80.1h0M464.0 59.0h0M475.8 68.8h0M465.5 83.9h0M469.9 82.3h0M472.8 53.9h0M473.8 52.1h0M462.8 73.5h0M474.2 62.6h0M463.6 86.3h0M471.2 63.9h0M462.3 65.8h0M428.1 90.3h0M424.7 90.0h0M428.3 92.6h0M425.6 87.5h0M433.0 89.2h0M434.4 91.0h0" stroke="#30d020" stroke-width="1.2" stroke-opacity="0.8" stroke-linecap="round"/><path d="M448.3 14.7h0M441.3 40.2h0M447.2 47.8h0M448.6 44.4h0M454.3 33.9h0M461.7 8.8h0M464.3 73.7h0M466.5 62.3h0M476.5 63.3h0M462.0 76.2h0M475.7 60.1h0M465.0 61.7h0M467.1 58.1h0M429.4 91.2h0" stroke="#50c820" stroke-width="1.2" stroke-opacity="0.8" stroke-linecap="round"/><path d="M444.2 46.8h0M440.2 18.5h0M463.2 7.7h0M464.2 11.2h0M462.6 73.6h0M473.6 81.0h0M470.9 80.9h0" stroke="#28b818" stroke-width="1.2" stroke-opacity="0.4" stroke-linecap="round"/><path d="M459.8 22.6h0M437.2 25.2h0M452.4 41.1h0M431.3 38.0h0M434.2 26.7h0M437.5 29.4h0M463.4 74.7h0M475.3 71.0h0M434.8 84.7h0" stroke="#30d020" stroke-width="0.8" stroke-opacity="0.8" stroke-linecap="round"/><path d="M454.0 15.3h0M443.4 39.1h0M458.1 30.7h0M458.2 33.3h0M464.2 13.3h0M465.0 11.0h0M462.6 2.7h0M462.1 64.5h0M477.1 70.2h0M466.4 88.1h0M468.4 86.4h0M476.6 64.1h0M476.4 51.0h0M470.7 59.0h0M459.3 55.7h0M430.7 85.5h0M436.8 92.4h0M432.4 88.4h0M431.2 86.0h0" stroke="#48e030" stroke-width="1.2" stroke-opacity="0.6" stroke-linecap="round"/><path d="M449.8 37.6h0M460.9 17.9h0M441.3 22.3h0M453.3 37.4h0M440.8 45.7h0M465.7 9.5h0M468.4 81.7h0M466.4 84.0h0M477.7 66.2h0M478.2 52.9h0M464.5 65.4h0M465.2 61.4h0M436.0 95.1h0M433.5 88.2h0M430.6 85.8h0M432.2 88.3h0M426.4 90.9h0" stroke="#50c820" stroke-width="1.6" stroke-opacity="0.6" stroke-linecap="round"/><path d="M452.9 21.1h0M457.4 42.2h0M465.2 58.7h0M471.4 56.9h0M469.6 88.5h0M425.8 93.7h0" stroke="#28b818" stroke-width="1.6" stroke-opacity="0.4" stroke-linecap="round"/><path d="M458.9 17.3h0M439.9 15.0h0M466.1 23.5h0M436.6 20.2h0M464.3 60.0h0M475.8 70.7h0M461.8 70.1h0M462.4 81.7h0M471.7 60.1h0M474.9 50.8h0M462.5 79.0h0M434.0 88.3h0M435.5 86.6h0M430.0 86.4h0" stroke="#30d020" stroke-width="1.6" stroke-opacity="0.6" stroke-linecap="round"/><path d="M432.6 28.7h0M457.9 32.8h0M456.7 23.8h0M464.5 12.7h0M465.8 5.0h0M473.4 77.2h0M470.1 52.2h0M461.6 68.8h0M475.4 77.2h0M470.4 85.4h0M475.3 71.6h0M466.4 76.5h0M467.7 54.2h0M467.5 55.9h0M429.7 92.2h0M431.9 84.7h0M434.1 95.5h0M430.6 91.5h0" stroke="#48e030" stroke-width="1.2" stroke-opacity="0.8" stroke-linecap="round"/><path d="M460.5 38.4h0M453.5 41.8h0" stroke="#50c820" stroke-width="0.8" stroke-opacity="0.6" stroke-linecap="round"/><path d="M461.1 22.7h0M450.4 11.9h0M463.6 10.8h0M476.9 59.0h0M474.2 80.4h0M463.5 79.3h0M475.4 48.2h0M463.4 63.4h0M438.2 94.0h0M435.6 89.5h0" stroke="#48e030" stroke-width="1.6" stroke-opacity="0.6" stroke-linecap="round"/><path d="M443.8 39.8h0M458.3 26.2h0M451.5 27.0h0M438.0 26.6h0M438.1 28.5h0M465.8 80.6h0M476.3 59.4h0M477.6 71.5h0M465.2 60.9h0M478.8 61.7h0M474.4 80.3h0M466.7 59.0h0" stroke="#50c820" stroke-width="1.6" stroke-opacity="0.8" stroke-linecap="round"/><path d="M453.5 24.8h0M453.0 20.2h0M435.2 36.2h0M455.2 22.9h0M456.9 24.1h0M460.1 30.5h0M430.5 26.7h0M465.0 8.4h0M468.5 80.6h0M478.3 58.2h0" stroke="#48e030" stroke-width="1.2" stroke-opacity="0.4" stroke-linecap="round"/><path d="M437.3 28.8h0M439.0 40.3h0M432.8 38.9h0M477.0 66.5h0M465.1 82.6h0M476.9 49.4h0M471.2 59.6h0M469.0 60.6h0M432.4 87.8h0" stroke="#30d020" stroke-width="1.2" stroke-opacity="0.4" stroke-linecap="round"/><path d="M433.4 36.1h0M447.9 23.1h0M440.5 18.7h0M437.7 11.6h0M467.5 8.8h0M468.9 82.3h0M476.5 68.3h0M472.7 53.2h0M477.5 59.0h0M479.1 56.7h0M464.8 89.1h0M461.0 65.2h0M433.6 85.6h0" stroke="#30d020" stroke-width="1.6" stroke-opacity="0.8" stroke-linecap="round"/><path d="M435.9 26.7h0M438.2 27.6h0M459.6 32.3h0M464.1 15.2h0M464.2 12.5h0M467.2 11.0h0M464.0 64.4h0M464.2 81.4h0M477.0 58.6h0M461.4 79.5h0M467.8 57.8h0M474.8 68.3h0M464.3 65.3h0M464.7 59.5h0M464.3 55.9h0M466.0 55.4h0M429.0 91.4h0M430.5 87.5h0" stroke="#30d020" stroke-width="1.2" stroke-opacity="0.6" stroke-linecap="round"/><path d="M439.5 30.8h0M442.1 49.8h0M447.6 42.6h0M432.4 29.9h0M466.7 9.7h0M473.4 78.2h0M474.0 76.0h0M464.9 55.8h0" stroke="#48e030" stroke-width="0.8" stroke-opacity="0.6" stroke-linecap="round"/><path d="M454.1 50.8h0M448.1 17.1h0M461.8 33.9h0M450.8 49.9h0M447.6 35.3h0M463.3 1.5h0M465.8 10.2h0M463.2 12.9h0M462.2 1.9h0M465.6 4.4h0M470.2 47.4h0M469.3 58.8h0M469.4 55.0h0M460.2 81.7h0M468.3 55.8h0M466.3 53.3h0M459.3 59.7h0M436.7 81.6h0M431.0 94.1h0" stroke="#50c820" stroke-width="1.2" stroke-opacity="0.6" stroke-linecap="round"/><path d="M434.9 37.3h0M458.4 20.9h0M448.8 43.8h0M451.8 17.9h0M439.2 35.2h0M459.4 19.6h0M459.3 26.7h0M434.8 31.7h0M462.5 3.7h0M465.4 8.0h0M463.6 3.4h0M470.6 87.8h0M461.8 72.5h0M475.9 71.6h0M468.4 55.7h0M461.8 72.6h0M469.5 87.2h0M467.4 57.1h0M434.7 87.5h0M424.6 93.4h0M425.8 94.4h0" stroke="#28b818" stroke-width="1.2" stroke-opacity="0.6" stroke-linecap="round"/><path d="M444.2 47.2h0M446.7 19.8h0M457.2 40.7h0M458.3 37.6h0M465.8 12.4h0M462.0 74.4h0M461.9 68.9h0" stroke="#28b818" stroke-width="0.8" stroke-opacity="0.6" stroke-linecap="round"/><path d="M442.7 15.8h0" stroke="#50c820" stroke-width="0.8" stroke-opacity="0.4" stroke-linecap="round"/><path d="M443.2 43.9h0M450.9 45.0h0M450.0 19.3h0M462.7 11.8h0M463.0 2.9h0M472.8 80.4h0M469.4 52.7h0M467.6 90.2h0" stroke="#48e030" stroke-width="1.6" stroke-opacity="0.8" stroke-linecap="round"/><path d="M435.6 40.6h0M433.4 30.2h0M442.2 19.7h0M449.7 9.8h0M473.9 52.7h0M477.0 71.2h0M476.1 73.3h0M478.3 57.1h0M470.4 57.2h0M467.0 59.8h0" stroke="#28b818" stroke-width="1.6" stroke-opacity="0.6" stroke-linecap="round"/><path d="M459.4 30.1h0M441.0 16.3h0M429.6 31.9h0M453.5 35.5h0M465.4 3.9h0M466.5 15.1h0M463.6 83.3h0M467.3 84.4h0M475.3 70.4h0M466.6 77.3h0M468.5 66.1h0M463.5 59.5h0M470.9 57.4h0" stroke="#28b818" stroke-width="1.6" stroke-opacity="0.8" stroke-linecap="round"/><path d="M450.6 43.7h0" stroke="#28b818" stroke-width="0.8" stroke-opacity="0.4" stroke-linecap="round"/><path d="M459.7 32.1h0M463.0 25.1h0M453.0 40.6h0M465.4 14.5h0M465.2 11.4h0M464.0 5.9h0M464.6 81.5h0M471.2 83.5h0M474.9 69.8h0M464.0 61.5h0M474.9 83.7h0M464.5 67.5h0M465.4 61.1h0M465.9 61.7h0M474.3 59.5h0M470.9 59.6h0M463.0 58.9h0M433.8 88.5h0M431.9 89.1h0M431.3 90.9h0M433.4 91.6h0" stroke="#28b818" stroke-width="1.2" stroke-opacity="0.8" stroke-linecap="round"/><path d="M459.0 16.6h0M463.8 89.2h0M432.1 90.1h0" stroke="#48e030" stroke-width="0.8" stroke-opacity="0.8" stroke-linecap="round"/><path d="M450.3 40.8h0M475.1 53.7h0M472.1 54.9h0M465.0 70.4h0M431.9 83.9h0" stroke="#50c820" stroke-width="0.8" stroke-opacity="0.8" stroke-linecap="round"/><path d="M441.0 24.9h0M475.8 57.0h0" stroke="#30d020" stroke-width="0.8" stroke-opacity="0.4" stroke-linecap="round"/><path d="M431.2 36.8h0M456.5 29.7h0M469.9 87.9h0" stroke="#900404" stroke-width="1.6" stroke-opacity="0.4" stroke-linecap="round"/><path d="M454.1 32.7h0M462.1 38.6h0M451.7 40.0h0M439.7 18.2h0M471.9 100.5h0" stroke="#b00404" stroke-width="1.2" stroke-opacity="0.4" stroke-linecap="round"/><path d="M457.4 19.0h0M444.5 16.9h0M453.8 15.9h0M478.0 92.5h0" stroke="#b00404" stroke-width="1.2" stroke-opacity="0.6" stroke-linecap="round"/><path d="M455.3 14.4h0M456.3 23.2h0M454.7 23.4h0" stroke="#a00606" stroke-width="1.6" stroke-opacity="0.6" stroke-linecap="round"/><path d="M434.9 36.2h0M470.3 98.6h0" stroke="#b00404" stroke-width="1.2" stroke-opacity="0.8" stroke-linecap="round"/><path d="M454.6 21.1h0M469.2 32.8h0M448.0 13.3h0M441.6 46.2h0M470.5 94.8h0M476.9 87.7h0M469.0 96.8h0M476.7 104.6h0M469.5 100.9h0M477.7 98.8h0" stroke="#900404" stroke-width="1.2" stroke-opacity="0.6" stroke-linecap="round"/><path d="M454.0 44.4h0M453.5 37.8h0M458.6 43.2h0M459.2 23.9h0M448.2 39.8h0M475.0 99.5h0" stroke="#c00808" stroke-width="1.6" stroke-opacity="0.4" stroke-linecap="round"/><path d="M438.2 44.5h0M449.9 27.0h0" stroke="#a00606" stroke-width="1.2" stroke-opacity="0.4" stroke-linecap="round"/><path d="M429.6 24.2h0M473.4 87.0h0" stroke="#900404" stroke-width="0.8" stroke-opacity="0.6" stroke-linecap="round"/><path d="M443.7 37.9h0M466.1 97.1h0" stroke="#c00808" stroke-width="1.6" stroke-opacity="0.8" stroke-linecap="round"/><path d="M431.5 31.0h0M435.2 17.2h0" stroke="#900404" stroke-width="1.2" stroke-opacity="0.8" stroke-linecap="round"/><path d="M455.3 16.7h0" stroke="#a00606" stroke-width="0.8" stroke-opacity="0.6" stroke-linecap="round"/><path d="M438.2 41.3h0M468.9 101.9h0" stroke="#c00808" stroke-width="0.8" stroke-opacity="0.4" stroke-linecap="round"/><path d="M445.8 28.0h0" stroke="#900404" stroke-width="0.8" stroke-opacity="0.8" stroke-linecap="round"/><path d="M442.4 19.3h0" stroke="#c00808" stroke-width="1.2" stroke-opacity="0.8" stroke-linecap="round"/><path d="M431.5 32.8h0M474.7 99.6h0M467.7 88.6h0M472.7 95.9h0" stroke="#a00606" stroke-width="1.2" stroke-opacity="0.6" stroke-linecap="round"/><path d="M454.6 20.3h0" stroke="#a00606" stroke-width="1.6" stroke-opacity="0.8" stroke-linecap="round"/><path d="M449.2 19.0h0M456.6 21.5h0M470.0 85.1h0M475.2 97.7h0" stroke="#900404" stroke-width="1.6" stroke-opacity="0.6" stroke-linecap="round"/><path d="M448.2 19.4h0" stroke="#900404" stroke-width="0.8" stroke-opacity="0.4" stroke-linecap="round"/><path d="M455.2 47.3h0" stroke="#900404" stroke-width="1.6" stroke-opacity="0.8" stroke-linecap="round"/><path d="M437.2 43.8h0" stroke="#b00404" stroke-width="1.6" stroke-opacity="0.4" stroke-linecap="round"/><path d="M461.0 22.9h0M469.9 94.3h0" stroke="#a00606" stroke-width="0.8" stroke-opacity="0.8" stroke-linecap="round"/><path d="M443.8 39.7h0M440.2 25.0h0M441.2 17.0h0M445.2 33.0h0M441.2 33.8h0M468.5 85.4h0" stroke="#c00808" stroke-width="1.2" stroke-opacity="0.6" stroke-linecap="round"/><path d="M452.2 12.5h0" stroke="#c00808" stroke-width="1.6" stroke-opacity="0.6" stroke-linecap="round"/><path d="M449.2 32.9h0" stroke="#a00606" stroke-width="0.8" stroke-opacity="0.4" stroke-linecap="round"/><path d="M450.7 22.2h0M468.8 79.8h0M472.2 84.3h0M473.3 83.3h0" stroke="#b00404" stroke-width="1.6" stroke-opacity="0.6" stroke-linecap="round"/><path d="M437.9 22.2h0" stroke="#900404" stroke-width="1.2" stroke-opacity="0.4" stroke-linecap="round"/><path d="M443.4 47.4h0" stroke="#a00606" stroke-width="1.2" stroke-opacity="0.8" stroke-linecap="round"/><path d="M408.4 23.7h0M411.6 18.5h0M502.5 8.5h0M504.7 21.6h0M501.6 14.3h0M501.6 8.2h0M503.5 20.2h0M501.8 15.9h0M485.9 33.4h0M483.9 29.5h0M468.1 69.9h0M468.6 65.9h0M469.4 59.8h0M433.9 29.1h0M413.9 46.1h0M487.4 23.2h0M470.7 82.7h0M439.3 88.1h0M498.0 114.0h0M433.3 86.4h0M418.6 95.9h0M417.3 12.0h0M485.3 28.4h0M451.6 45.9h0M491.4 24.0h0" stroke="#1a7a14" stroke-width="1.2" stroke-opacity="0.4" stroke-linecap="round"/><path d="M411.0 29.0h0M410.6 34.6h0M501.5 7.2h0M504.2 19.4h0M504.5 17.7h0M430.1 63.0h0M420.5 74.3h0M418.1 62.4h0M488.7 52.2h0M454.6 72.9h0M425.6 56.7h0M506.0 4.0h0M421.9 15.0h0M433.7 46.0h0M440.0 8.9h0M511.3 50.7h0M479.9 90.0h0M464.8 38.6h0M466.3 25.1h0M468.2 53.8h0M482.4 73.3h0M512.1 104.0h0" stroke="#146010" stroke-width="1.2" stroke-opacity="0.4" stroke-linecap="round"/><path d="M407.1 16.8h0M406.9 17.6h0M420.6 29.2h0M507.5 24.8h0M502.8 11.6h0M483.1 21.9h0M479.9 16.9h0M483.9 29.0h0M423.2 74.8h0M419.2 59.7h0M486.2 76.7h0M423.0 31.7h0M502.9 46.2h0M496.2 28.0h0M464.5 61.4h0M435.1 91.5h0M441.8 97.1h0M503.9 28.3h0M436.1 73.7h0M442.4 51.0h0M419.4 70.5h0M510.0 80.4h0M429.5 92.8h0M490.7 19.5h0M415.3 43.4h0M458.3 103.3h0" stroke="#229020" stroke-width="1.2" stroke-opacity="0.6" stroke-linecap="round"/><path d="M407.3 21.3h0M411.2 24.6h0M502.2 9.1h0M503.6 9.7h0M478.6 5.1h0M470.1 62.0h0M430.7 61.7h0M504.0 84.7h0M459.6 50.7h0M516.0 57.5h0M493.7 10.7h0M434.9 70.2h0M428.8 46.2h0" stroke="#229020" stroke-width="1.2" stroke-opacity="0.8" stroke-linecap="round"/><path d="M418.8 28.9h0M403.5 13.1h0M413.6 17.8h0M505.4 17.6h0M501.5 9.0h0M505.5 26.1h0M503.6 14.5h0M500.7 23.7h0M483.6 31.2h0M481.6 3.1h0M469.8 76.3h0M419.3 70.7h0M422.2 66.8h0M424.2 75.2h0M430.0 65.0h0M422.6 52.9h0M426.1 58.7h0M430.2 65.2h0M490.1 31.4h0M493.6 56.3h0M475.0 41.0h0M500.2 111.6h0M485.8 66.8h0M504.4 46.5h0M486.4 23.5h0M445.0 112.7h0M475.9 91.6h0M496.5 43.6h0M443.9 111.7h0M482.4 43.0h0M462.4 103.1h0M445.3 49.9h0" stroke="#229020" stroke-width="1.2" stroke-opacity="0.4" stroke-linecap="round"/><path d="M418.0 22.4h0M500.9 10.3h0M507.3 24.8h0M505.5 26.0h0M508.0 26.0h0M503.3 8.3h0M477.5 20.2h0M480.9 23.3h0M482.4 10.0h0M475.2 0.7h0M473.7 69.5h0M424.6 71.9h0M414.8 60.3h0M421.6 62.7h0M516.6 25.9h0M444.5 23.3h0M457.9 90.0h0M418.3 91.9h0M506.4 4.8h0M430.4 10.0h0M468.1 67.4h0M457.5 2.8h0M514.1 32.7h0M410.5 39.6h0M464.2 81.8h0" stroke="#1a7a14" stroke-width="1.2" stroke-opacity="0.6" stroke-linecap="round"/><path d="M406.2 20.7h0M403.3 20.5h0M470.6 74.4h0M411.1 49.9h0M443.7 95.6h0" stroke="#229020" stroke-width="1.6" stroke-opacity="0.6" stroke-linecap="round"/><path d="M411.6 25.4h0M406.7 22.9h0M485.3 32.3h0M477.0 91.0h0M504.0 61.7h0M415.5 16.1h0" stroke="#1a7a14" stroke-width="0.8" stroke-opacity="0.6" stroke-linecap="round"/><path d="M414.4 17.9h0M406.0 34.9h0M408.2 25.6h0M407.1 15.6h0M408.2 17.0h0M411.2 20.6h0M503.0 9.7h0M505.1 20.7h0M481.5 17.1h0M466.2 69.4h0M470.0 68.1h0M423.8 70.3h0M458.8 17.8h0M422.7 91.8h0M509.8 9.3h0M490.3 25.2h0M487.5 78.5h0M497.6 2.5h0M424.3 115.1h0M462.3 67.1h0M452.7 87.4h0M515.0 84.9h0M512.6 77.3h0M415.5 52.4h0" stroke="#146010" stroke-width="1.2" stroke-opacity="0.6" stroke-linecap="round"/><path d="M410.8 26.3h0M504.1 18.3h0M483.5 15.6h0M472.9 69.4h0M506.5 35.2h0M493.0 58.8h0" stroke="#1a7a14" stroke-width="1.6" stroke-opacity="0.4" stroke-linecap="round"/><path d="M412.7 30.9h0M487.5 29.8h0M472.4 68.4h0M438.0 12.7h0M514.5 26.4h0" stroke="#229020" stroke-width="0.8" stroke-opacity="0.4" stroke-linecap="round"/><path d="M412.0 22.3h0M485.5 20.4h0M470.4 74.9h0M426.5 70.0h0M479.5 46.5h0" stroke="#1a7a14" stroke-width="1.6" stroke-opacity="0.6" stroke-linecap="round"/><path d="M409.8 24.0h0M500.1 12.6h0M485.1 27.6h0M423.6 69.2h0M495.9 10.1h0M476.8 69.7h0M429.5 110.7h0M487.3 25.1h0M479.8 55.4h0M481.0 57.4h0M481.0 97.2h0" stroke="#146010" stroke-width="1.2" stroke-opacity="0.8" stroke-linecap="round"/><path d="M407.0 33.5h0M504.7 15.6h0M469.0 71.0h0M475.2 63.4h0" stroke="#1a7a14" stroke-width="0.8" stroke-opacity="0.4" stroke-linecap="round"/><path d="M406.7 23.3h0M421.0 72.0h0M451.9 43.3h0M421.3 73.6h0M488.5 22.7h0M516.0 79.2h0" stroke="#146010" stroke-width="1.6" stroke-opacity="0.6" stroke-linecap="round"/><path d="M462.5 6.6h0" stroke="#30d020" stroke-width="1.6" stroke-opacity="0.4" stroke-linecap="round"/><path d="M464.6 12.4h0M475.4 61.9h0M464.7 75.7h0M465.6 57.5h0" stroke="#28b818" stroke-width="0.8" stroke-opacity="0.8" stroke-linecap="round"/><path d="M464.1 2.4h0M440.3 90.8h0" stroke="#48e030" stroke-width="0.8" stroke-opacity="0.4" stroke-linecap="round"/><path d="M503.8 24.1h0M422.7 20.5h0M495.1 77.3h0" stroke="#146010" stroke-width="0.8" stroke-opacity="0.8" stroke-linecap="round"/><path d="M507.0 23.7h0M421.2 56.4h0M506.3 93.6h0" stroke="#1a7a14" stroke-width="1.6" stroke-opacity="0.8" stroke-linecap="round"/><path d="M502.7 16.9h0M438.0 90.6h0M418.7 70.4h0M479.9 78.8h0M454.8 80.8h0" stroke="#146010" stroke-width="0.8" stroke-opacity="0.6" stroke-linecap="round"/><path d="M502.6 8.2h0M501.8 13.1h0M483.2 5.7h0M484.4 30.1h0M471.7 65.6h0M502.7 114.7h0M468.8 50.1h0" stroke="#146010" stroke-width="1.6" stroke-opacity="0.8" stroke-linecap="round"/><path d="M501.8 9.4h0M499.6 6.8h0M478.8 10.6h0M424.5 14.6h0M487.8 94.9h0" stroke="#229020" stroke-width="0.8" stroke-opacity="0.6" stroke-linecap="round"/><path d="M484.1 29.3h0M473.3 66.4h0M481.3 108.2h0" stroke="#146010" stroke-width="0.8" stroke-opacity="0.4" stroke-linecap="round"/><path d="M483.0 30.0h0M478.4 3.7h0M480.7 19.6h0M474.3 63.7h0M467.0 77.1h0M468.2 93.7h0M419.4 94.3h0M459.7 21.0h0" stroke="#229020" stroke-width="1.6" stroke-opacity="0.4" stroke-linecap="round"/><path d="M475.5 5.7h0" stroke="#229020" stroke-width="0.8" stroke-opacity="0.8" stroke-linecap="round"/><path d="M463.9 69.6h0M472.5 50.3h0M477.5 63.8h0M476.4 47.0h0" stroke="#48e030" stroke-width="1.6" stroke-opacity="0.4" stroke-linecap="round"/><path d="M469.6 86.0h0M462.2 66.1h0M470.2 82.4h0M470.9 49.2h0" stroke="#f0c010" stroke-width="1.6" stroke-opacity="0.8" stroke-linecap="round"/><path d="M467.1 80.5h0M463.4 81.9h0M463.7 62.9h0M466.7 59.9h0M436.8 101.8h0M432.8 103.1h0" stroke="#ffb000" stroke-width="1.6" stroke-opacity="0.8" stroke-linecap="round"/><path d="M479.2 60.6h0M435.8 102.4h0" stroke="#d0d020" stroke-width="1.6" stroke-opacity="0.8" stroke-linecap="round"/><path d="M466.2 59.0h0M473.8 50.3h0M433.3 101.9h0" stroke="#f0c010" stroke-width="1.2" stroke-opacity="0.6" stroke-linecap="round"/><path d="M470.5 77.0h0" stroke="#d0d020" stroke-width="2.0" stroke-opacity="0.8" stroke-linecap="round"/><path d="M471.6 50.4h0M479.1 59.6h0" stroke="#f0c010" stroke-width="1.2" stroke-opacity="0.8" stroke-linecap="round"/><path d="M481.5 65.9h0M465.3 66.1h0M478.4 59.0h0" stroke="#ff8a00" stroke-width="1.2" stroke-opacity="1.0" stroke-linecap="round"/><path d="M470.8 83.8h0M431.4 102.4h0" stroke="#ffb000" stroke-width="1.6" stroke-opacity="1.0" stroke-linecap="round"/><path d="M474.9 72.9h0M463.9 67.3h0M463.7 84.2h0M436.5 102.2h0" stroke="#d0d020" stroke-width="1.2" stroke-opacity="0.6" stroke-linecap="round"/><path d="M468.6 84.3h0" stroke="#d0d020" stroke-width="1.6" stroke-opacity="0.6" stroke-linecap="round"/><path d="M472.7 82.8h0" stroke="#ff8a00" stroke-width="1.6" stroke-opacity="0.6" stroke-linecap="round"/><path d="M474.7 58.3h0M428.4 101.8h0" stroke="#f0c010" stroke-width="2.0" stroke-opacity="0.8" stroke-linecap="round"/><path d="M478.0 62.0h0M470.5 54.0h0" stroke="#ff8a00" stroke-width="1.6" stroke-opacity="0.8" stroke-linecap="round"/><path d="M465.7 69.4h0" stroke="#d0d020" stroke-width="1.2" stroke-opacity="0.8" stroke-linecap="round"/><path d="M465.5 88.7h0" stroke="#ffb000" stroke-width="1.2" stroke-opacity="1.0" stroke-linecap="round"/><path d="M463.8 69.0h0" stroke="#d0d020" stroke-width="1.6" stroke-opacity="1.0" stroke-linecap="round"/><path d="M478.7 66.8h0M437.9 101.5h0" stroke="#ff8a00" stroke-width="1.6" stroke-opacity="1.0" stroke-linecap="round"/><path d="M467.8 58.4h0" stroke="#ff8a00" stroke-width="1.2" stroke-opacity="0.6" stroke-linecap="round"/><path d="M462.1 71.1h0" stroke="#d0d020" stroke-width="1.2" stroke-opacity="1.0" stroke-linecap="round"/><path d="M469.5 55.7h0M475.8 76.4h0M430.6 101.7h0" stroke="#ff8a00" stroke-width="1.2" stroke-opacity="0.8" stroke-linecap="round"/><path d="M461.2 74.9h0" stroke="#ff8a00" stroke-width="2.0" stroke-opacity="1.0" stroke-linecap="round"/><path d="M469.1 74.2h0" stroke="#1a7a14" stroke-width="0.8" stroke-opacity="0.8" stroke-linecap="round"/><path d="M472.3 63.1h0M455.8 34.0h0M431.8 31.7h0" stroke="#1a7a14" stroke-width="1.2" stroke-opacity="0.8" stroke-linecap="round"/><path d="M469.0 27.5h0M503.0 111.1h0M447.4 86.7h0" stroke="#146010" stroke-width="1.6" stroke-opacity="0.4" stroke-linecap="round"/><path d="M429.0 42.5h0M410.4 8.8h0" stroke="#229020" stroke-width="1.6" stroke-opacity="0.8" stroke-linecap="round"/><path d="M517.5 61.6h0M445.9 3.8h0M425.5 23.3h0M499.8 35.0h0M468.9 10.9h0M480.0 67.5h0M424.0 103.6h0M448.6 98.3h0M465.3 18.7h0M412.6 16.9h0M468.7 107.9h0M484.9 83.6h0M494.8 43.1h0M516.2 109.2h0M465.6 68.5h0M471.8 62.8h0" stroke="#600000" stroke-width="1.2" stroke-opacity="0.4" stroke-linecap="round"/><path d="M474.0 114.6h0M492.9 83.5h0M459.9 50.6h0M440.3 97.7h0M511.9 23.1h0M421.4 90.8h0M469.9 76.5h0M418.8 103.7h0" stroke="#800404" stroke-width="0.8" stroke-opacity="0.4" stroke-linecap="round"/><path d="M494.5 100.4h0M509.0 58.0h0M432.7 35.0h0M453.2 85.7h0M433.4 61.7h0M424.1 28.8h0M469.1 54.8h0M473.8 67.0h0" stroke="#800404" stroke-width="0.8" stroke-opacity="0.6" stroke-linecap="round"/><path d="M463.9 16.4h0M467.4 110.7h0M417.3 89.5h0M503.2 61.9h0M418.6 100.0h0M462.9 101.7h0M474.4 6.9h0M448.7 10.2h0" stroke="#600000" stroke-width="0.8" stroke-opacity="0.6" stroke-linecap="round"/><path d="M498.3 12.1h0M516.3 15.9h0M470.5 44.5h0M481.5 110.3h0M459.6 53.3h0M480.9 88.5h0M456.6 52.7h0M503.2 110.3h0M497.2 63.6h0" stroke="#700202" stroke-width="0.8" stroke-opacity="0.6" stroke-linecap="round"/><path d="M485.3 34.5h0M496.1 74.4h0M417.6 4.1h0M430.6 90.0h0M492.9 100.6h0M418.4 42.8h0M419.8 54.7h0M468.1 77.0h0M496.5 113.7h0" stroke="#800404" stroke-width="1.2" stroke-opacity="0.6" stroke-linecap="round"/><path d="M462.2 56.0h0M428.2 7.5h0M470.4 65.4h0M460.8 4.3h0M501.0 103.4h0M433.6 12.0h0M449.6 22.2h0M406.4 8.9h0M442.1 48.7h0" stroke="#600000" stroke-width="1.2" stroke-opacity="0.6" stroke-linecap="round"/><path d="M438.0 115.2h0M500.6 40.5h0M408.8 74.8h0M424.3 33.6h0M422.1 22.0h0" stroke="#700202" stroke-width="0.8" stroke-opacity="0.4" stroke-linecap="round"/><path d="M424.0 37.7h0M461.2 80.5h0M503.9 79.6h0M490.4 40.5h0M497.4 59.4h0M424.7 103.6h0M440.5 91.1h0M469.8 55.9h0M440.1 21.6h0M497.0 17.6h0M468.2 105.9h0M429.0 71.3h0M500.4 90.1h0M439.6 56.9h0M408.4 58.8h0M439.7 108.8h0M464.5 70.2h0" stroke="#700202" stroke-width="1.2" stroke-opacity="0.6" stroke-linecap="round"/><path d="M463.4 98.9h0M471.4 90.4h0M488.6 75.4h0M446.8 59.0h0M453.4 29.0h0M435.3 43.1h0M478.9 106.8h0M500.3 79.4h0M440.0 65.5h0M473.0 31.0h0M443.3 112.1h0M480.8 58.7h0" stroke="#800404" stroke-width="1.2" stroke-opacity="0.4" stroke-linecap="round"/><path d="M438.7 34.5h0M431.8 27.2h0M483.9 57.9h0M504.8 93.3h0M437.2 41.4h0M505.5 38.1h0M485.5 47.1h0M490.6 3.0h0M461.7 67.0h0M405.4 38.7h0M447.7 14.7h0M458.6 31.5h0M515.4 110.3h0" stroke="#700202" stroke-width="1.2" stroke-opacity="0.4" stroke-linecap="round"/><path d="M428.6 65.3h0M511.4 108.0h0M510.2 33.3h0M411.5 54.1h0M510.5 88.9h0M433.6 112.6h0" stroke="#600000" stroke-width="0.8" stroke-opacity="0.4" stroke-linecap="round"/><path d="M405.2 110.2h0M411.8 111.4h0M410.2 108.3h0M409.4 113.1h0" stroke="#ff2008" stroke-width="1.6" stroke-opacity="0.8" stroke-linecap="round"/><path d="M405.5 103.5h0" stroke="#f02808" stroke-width="2.0" stroke-opacity="0.8" stroke-linecap="round"/><path d="M416.3 110.3h0M411.0 115.9h0" stroke="#ff3008" stroke-width="1.2" stroke-opacity="1.0" stroke-linecap="round"/><path d="M409.8 106.0h0M410.9 110.0h0" stroke="#ff3008" stroke-width="1.2" stroke-opacity="0.8" stroke-linecap="round"/><path d="M411.8 109.1h0" stroke="#f02808" stroke-width="1.2" stroke-opacity="1.0" stroke-linecap="round"/><path d="M405.7 111.4h0M408.0 109.2h0" stroke="#ff3a10" stroke-width="1.6" stroke-opacity="0.8" stroke-linecap="round"/><path d="M408.6 108.5h0M409.3 115.2h0" stroke="#ff3a10" stroke-width="2.0" stroke-opacity="0.8" stroke-linecap="round"/><path d="M412.4 111.7h0M404.7 106.5h0" stroke="#ff2008" stroke-width="1.2" stroke-opacity="0.8" stroke-linecap="round"/><path d="M405.5 115.6h0" stroke="#ff4010" stroke-width="1.2" stroke-opacity="0.8" stroke-linecap="round"/><path d="M410.0 114.7h0" stroke="#f02808" stroke-width="1.6" stroke-opacity="0.8" stroke-linecap="round"/><path d="M410.6 107.6h0M414.6 107.4h0" stroke="#ff3008" stroke-width="1.6" stroke-opacity="0.8" stroke-linecap="round"/><path d="M408.6 111.6h0M416.2 106.5h0" stroke="#ff3a10" stroke-width="1.2" stroke-opacity="0.8" stroke-linecap="round"/><path d="M415.2 107.0h0" stroke="#f02808" stroke-width="1.6" stroke-opacity="1.0" stroke-linecap="round"/><path d="M410.6 109.5h0" stroke="#ff4010" stroke-width="1.6" stroke-opacity="1.0" stroke-linecap="round"/><path d="M410.3 109.5h0M409.0 108.3h0" stroke="#ff4010" stroke-width="2.0" stroke-opacity="0.8" stroke-linecap="round"/><path d="M408.4 108.6h0" stroke="#f02808" stroke-width="1.2" stroke-opacity="0.8" stroke-linecap="round"/><path d="M411.0 107.8h0" stroke="#ff3a10" stroke-width="1.6" stroke-opacity="1.0" stroke-linecap="round"/><path d="M424.6 93.7h0M423.8 91.2h0" stroke="#ff1208" stroke-width="1.6" stroke-opacity="0.8" stroke-linecap="round"/><path d="M424.3 93.8h0M422.9 93.0h0" stroke="#ff2414" stroke-width="1.2" stroke-opacity="1.0" stroke-linecap="round"/><path d="M426.8 90.3h0" stroke="#ff0a00" stroke-width="2.0" stroke-opacity="0.6" stroke-linecap="round"/><path d="M425.4 92.4h0" stroke="#e80a04" stroke-width="1.2" stroke-opacity="0.6" stroke-linecap="round"/><path d="M425.7 91.5h0" stroke="#ff1208" stroke-width="1.2" stroke-opacity="0.8" stroke-linecap="round"/><path d="M427.7 94.0h0" stroke="#ff0a00" stroke-width="1.6" stroke-opacity="1.0" stroke-linecap="round"/><path d="M425.3 94.9h0" stroke="#ff2414" stroke-width="1.2" stroke-opacity="0.6" stroke-linecap="round"/><path d="M425.3 93.2h0" stroke="#ff1208" stroke-width="1.6" stroke-opacity="1.0" stroke-linecap="round"/><path d="M425.9 91.3h0" stroke="#ff2414" stroke-width="1.6" stroke-opacity="0.8" stroke-linecap="round"/><path d="M426.0 93.9h0" stroke="#ff2414" stroke-width="1.6" stroke-opacity="0.6" stroke-linecap="round"/><path d="M435.7 99.2h0" stroke="#f0c010" stroke-width="1.6" stroke-opacity="0.6" stroke-linecap="round"/><path d="M468.8 92.9h0" stroke="#b00404" stroke-width="0.8" stroke-opacity="0.8" stroke-linecap="round"/><path d="M474.5 92.8h0" stroke="#c00808" stroke-width="0.8" stroke-opacity="0.8" stroke-linecap="round"/><path d="M461.7 96.4h0" stroke="#c00808" stroke-width="1.2" stroke-opacity="0.4" stroke-linecap="round"/><path d="M473.2 87.4h0M476.7 83.5h0" stroke="#b00404" stroke-width="0.8" stroke-opacity="0.6" stroke-linecap="round"/><path d="M469.4 94.6h0" stroke="#c00808" stroke-width="0.8" stroke-opacity="0.6" stroke-linecap="round"/><circle cx="487.3" cy="19" r="2.6" fill="#30e028"/><circle cx="492" cy="5" r="2.4" fill="#ff2010"/><circle cx="490" cy="4" r="1.8" fill="#ff3010"/><circle cx="427.5" cy="17" r="1.9" fill="#ff2010"/><circle cx="454" cy="11" r="1.5" fill="#e01808"/><circle cx="433" cy="53.5" r="1.8" fill="#f05008"/><circle cx="474" cy="71.6" r="1.9" fill="#ff3008"/><circle cx="479.6" cy="70.5" r="2.0" fill="#ff2010"/><circle cx="490" cy="74.4" r="1.4" fill="#ff2010"/><circle cx="488.4" cy="90" r="1.4" fill="#e01808"/><circle cx="447.5" cy="109" r="1.9" fill="#ff1a08"/><circle cx="454" cy="111.5" r="1.2" fill="#e01808"/><circle cx="513" cy="47.5" r="1.3" fill="#ff2010"/><circle cx="498.8" cy="111" r="2.6" fill="#ff2010"/><circle cx="501" cy="113" r="2" fill="#ff2010"/><circle cx="435.5" cy="103" r="1.3" fill="#f0a010"/><circle cx="423" cy="93" r="1.6" fill="#ff2010"/><circle cx="434" cy="89" r="1.6" fill="#50d030"/></g></g>
<g font-weight="bold" fill="#fff"><text x="21.5" y="15.4" font-size="10" textLength="13" lengthAdjust="spacingAndGlyphs">WT</text><text x="139.4" y="14.6" font-size="9.5" textLength="12.6" lengthAdjust="spacingAndGlyphs">TG</text><text x="21.2" y="110" font-size="10.5" textLength="25.8" lengthAdjust="spacingAndGlyphs">TMRE</text><text x="290.8" y="15.4" font-size="10" textLength="13" lengthAdjust="spacingAndGlyphs">WT</text><text x="407.3" y="14.6" font-size="9.5" textLength="12.9" lengthAdjust="spacingAndGlyphs">TG</text><text x="290.5" y="109.8" font-size="10" textLength="19.4" lengthAdjust="spacingAndGlyphs">JC-1</text></g>
<rect x="106.2" y="106" width="14" height="1.9" fill="#fff"/>
<rect x="224.1" y="106" width="14" height="1.9" fill="#fff"/>
<rect x="376.9" y="106" width="14" height="1.9" fill="#fff"/>
<rect x="492.2" y="106" width="14" height="1.9" fill="#fff"/>
<line x1="82.90" y1="123.20" x2="82.90" y2="209.80" stroke="#000" stroke-width="1.2" />
<line x1="79.60" y1="209.20" x2="82.90" y2="209.20" stroke="#000" stroke-width="1.08" />
<text x="78.70" y="212.20" font-size="7.8" font-weight="bold" text-anchor="end" fill="#000" >0.0</text>
<line x1="79.60" y1="180.70" x2="82.90" y2="180.70" stroke="#000" stroke-width="1.08" />
<text x="78.70" y="183.70" font-size="7.8" font-weight="bold" text-anchor="end" fill="#000" >0.5</text>
<line x1="79.60" y1="152.20" x2="82.90" y2="152.20" stroke="#000" stroke-width="1.08" />
<text x="78.70" y="155.20" font-size="7.8" font-weight="bold" text-anchor="end" fill="#000" >1.0</text>
<line x1="79.60" y1="123.70" x2="82.90" y2="123.70" stroke="#000" stroke-width="1.08" />
<text x="78.70" y="126.70" font-size="7.8" font-weight="bold" text-anchor="end" fill="#000" >1.5</text>
<path d="M95.30 209.20V152.20H136.50V209.20" fill="#fff" stroke="#1414c8" stroke-width="1.8"/>
<line x1="115.90" y1="209.20" x2="115.90" y2="212.50" stroke="#000" stroke-width="1.08" />
<line x1="115.90" y1="151.63" x2="115.90" y2="152.77" stroke="#0a0ab4" stroke-width="1.6" />
<line x1="110.90" y1="151.63" x2="120.90" y2="151.63" stroke="#0a0ab4" stroke-width="1.6" />
<line x1="110.90" y1="152.77" x2="120.90" y2="152.77" stroke="#0a0ab4" stroke-width="1.6" />
<circle cx="105.30" cy="152.20" r="2.10" fill="#8fb3db"/>
<circle cx="112.30" cy="150.21" r="2.10" fill="#8fb3db"/>
<circle cx="117.90" cy="152.77" r="2.10" fill="#8fb3db"/>
<circle cx="125.90" cy="152.20" r="2.10" fill="#8fb3db"/>
<text x="115.90" y="223.00" font-size="8.4" font-weight="bold" text-anchor="middle" fill="#000" >WT</text>
<path d="M160.05 209.20V181.27H201.25V209.20" fill="#fff" stroke="#8a1fb0" stroke-width="1.7"/>
<line x1="180.65" y1="209.20" x2="180.65" y2="212.50" stroke="#000" stroke-width="1.08" />
<line x1="180.65" y1="169.30" x2="180.65" y2="192.67" stroke="#7a149e" stroke-width="1.7" />
<line x1="175.15" y1="169.30" x2="186.15" y2="169.30" stroke="#7a149e" stroke-width="1.7" />
<line x1="175.15" y1="192.67" x2="186.15" y2="192.67" stroke="#7a149e" stroke-width="1.7" />
<rect x="178.45" y="161.40" width="4.40" height="4.40" fill="#b48ccd"/>
<rect x="181.65" y="180.21" width="4.40" height="4.40" fill="#b48ccd"/>
<rect x="175.15" y="183.63" width="4.40" height="4.40" fill="#b48ccd"/>
<rect x="175.15" y="190.47" width="4.40" height="4.40" fill="#b48ccd"/>
<rect x="181.45" y="189.33" width="4.40" height="4.40" fill="#b48ccd"/>
<text x="180.65" y="223.00" font-size="8.4" font-weight="bold" text-anchor="middle" fill="#000" >TG</text>
<text x="180.65" y="150.70" font-size="9.6" font-weight="bold" text-anchor="middle" fill="#000" >**</text>
<line x1="82.30" y1="209.20" x2="214.00" y2="209.20" stroke="#000" stroke-width="1.2" />
<text transform="translate(44.30,165.00) rotate(-90)" font-size="8.3" font-weight="bold" text-anchor="middle" fill="#000" >Mean fluorescence</text>
<text transform="translate(54.00,165.00) rotate(-90)" font-size="8.3" font-weight="bold" text-anchor="middle" fill="#000" >intensity</text>
<text transform="translate(63.30,165.00) rotate(-90)" font-size="8.3" font-weight="bold" text-anchor="middle" fill="#000" >(TMRE, fold of WT)</text>
<line x1="343.80" y1="121.80" x2="343.80" y2="205.40" stroke="#000" stroke-width="1.2" />
<line x1="340.50" y1="204.80" x2="343.80" y2="204.80" stroke="#000" stroke-width="1.08" />
<text x="339.60" y="207.80" font-size="7.8" font-weight="bold" text-anchor="end" fill="#000" >0.0</text>
<line x1="340.50" y1="177.30" x2="343.80" y2="177.30" stroke="#000" stroke-width="1.08" />
<text x="339.60" y="180.30" font-size="7.8" font-weight="bold" text-anchor="end" fill="#000" >0.5</text>
<line x1="340.50" y1="149.80" x2="343.80" y2="149.80" stroke="#000" stroke-width="1.08" />
<text x="339.60" y="152.80" font-size="7.8" font-weight="bold" text-anchor="end" fill="#000" >1.0</text>
<line x1="340.50" y1="122.30" x2="343.80" y2="122.30" stroke="#000" stroke-width="1.08" />
<text x="339.60" y="125.30" font-size="7.8" font-weight="bold" text-anchor="end" fill="#000" >1.5</text>
<path d="M355.45 204.80V149.80H392.85V204.80" fill="#fff" stroke="#1414c8" stroke-width="1.7"/>
<line x1="374.15" y1="204.80" x2="374.15" y2="208.10" stroke="#000" stroke-width="1.08" />
<line x1="374.15" y1="134.95" x2="374.15" y2="164.65" stroke="#1c3cc4" stroke-width="1.6" />
<line x1="370.15" y1="134.95" x2="378.15" y2="134.95" stroke="#1c3cc4" stroke-width="1.6" />
<line x1="370.15" y1="164.65" x2="378.15" y2="164.65" stroke="#1c3cc4" stroke-width="1.6" />
<circle cx="370.85" cy="134.95" r="2.00" fill="#3c64cc"/>
<circle cx="377.45" cy="134.95" r="2.00" fill="#3c64cc"/>
<circle cx="374.15" cy="149.80" r="2.00" fill="#3c64cc"/>
<circle cx="370.85" cy="164.65" r="2.00" fill="#3c64cc"/>
<circle cx="377.45" cy="164.65" r="2.00" fill="#3c64cc"/>
<text x="374.15" y="217.50" font-size="8.4" font-weight="bold" text-anchor="middle" fill="#000" >WT</text>
<path d="M415.45 204.80V170.70H452.95V204.80" fill="#fff" stroke="#8a1fb0" stroke-width="1.7"/>
<line x1="434.20" y1="204.80" x2="434.20" y2="208.10" stroke="#000" stroke-width="1.08" />
<line x1="434.20" y1="156.95" x2="434.20" y2="183.90" stroke="#7a149e" stroke-width="1.7" />
<line x1="429.20" y1="156.95" x2="439.20" y2="156.95" stroke="#7a149e" stroke-width="1.7" />
<line x1="429.20" y1="183.90" x2="439.20" y2="183.90" stroke="#7a149e" stroke-width="1.7" />
<rect x="432.00" y="148.70" width="4.40" height="4.40" fill="#b48ccd"/>
<rect x="432.00" y="165.20" width="4.40" height="4.40" fill="#b48ccd"/>
<rect x="432.00" y="169.05" width="4.40" height="4.40" fill="#b48ccd"/>
<rect x="432.00" y="174.00" width="4.40" height="4.40" fill="#b48ccd"/>
<rect x="432.00" y="185.55" width="4.40" height="4.40" fill="#b48ccd"/>
<text x="434.20" y="217.50" font-size="8.4" font-weight="bold" text-anchor="middle" fill="#000" >TG</text>
<text x="434.20" y="135.00" font-size="9" font-weight="bold" text-anchor="middle" fill="#000" >*</text>
<line x1="343.20" y1="204.80" x2="465.20" y2="204.80" stroke="#000" stroke-width="1.2" />
<text transform="translate(307.20,162.60) rotate(-90)" font-size="8.3" font-weight="bold" text-anchor="middle" fill="#000" >Ratio of red/green</text>
<text transform="translate(316.60,162.60) rotate(-90)" font-size="8.3" font-weight="bold" text-anchor="middle" fill="#000" >fluorescence</text>
<text transform="translate(325.60,162.60) rotate(-90)" font-size="8.3" font-weight="bold" text-anchor="middle" fill="#000" >(JC-1, fold of WT)</text>
<line x1="48.5" y1="259.70" x2="48.5" y2="384.4" stroke="#d4d4d4" stroke-width="1"/>
<line x1="48" y1="384.4" x2="269.50" y2="384.4" stroke="#d4d4d4" stroke-width="1"/>
<line x1="45.2" y1="384.40" x2="48.5" y2="384.40" stroke="#d4d4d4" stroke-width="1"/>
<text x="38.6" y="387.80" font-size="10.2" text-anchor="end" fill="#1a1a1a" transform="" style="font-stretch:condensed">0</text>
<line x1="45.2" y1="363.70" x2="48.5" y2="363.70" stroke="#d4d4d4" stroke-width="1"/>
<text x="38.6" y="367.10" font-size="10.2" text-anchor="end" fill="#1a1a1a" transform="" style="font-stretch:condensed">50</text>
<line x1="45.2" y1="343.00" x2="48.5" y2="343.00" stroke="#d4d4d4" stroke-width="1"/>
<text x="38.6" y="346.40" font-size="10.2" text-anchor="end" fill="#1a1a1a" transform="" style="font-stretch:condensed">100</text>
<line x1="45.2" y1="322.30" x2="48.5" y2="322.30" stroke="#d4d4d4" stroke-width="1"/>
<text x="38.6" y="325.70" font-size="10.2" text-anchor="end" fill="#1a1a1a" transform="" style="font-stretch:condensed">150</text>
<line x1="45.2" y1="301.60" x2="48.5" y2="301.60" stroke="#d4d4d4" stroke-width="1"/>
<text x="38.6" y="305.00" font-size="10.2" text-anchor="end" fill="#1a1a1a" transform="" style="font-stretch:condensed">200</text>
<line x1="45.2" y1="280.90" x2="48.5" y2="280.90" stroke="#d4d4d4" stroke-width="1"/>
<text x="38.6" y="284.30" font-size="10.2" text-anchor="end" fill="#1a1a1a" transform="" style="font-stretch:condensed">250</text>
<line x1="45.2" y1="260.20" x2="48.5" y2="260.20" stroke="#d4d4d4" stroke-width="1"/>
<text x="38.6" y="263.60" font-size="10.2" text-anchor="end" fill="#1a1a1a" transform="" style="font-stretch:condensed">300</text>
<line x1="48.50" y1="384.4" x2="48.50" y2="388" stroke="#d4d4d4" stroke-width="1"/>
<text x="48.50" y="401.6" font-size="10.2" text-anchor="middle" fill="#1a1a1a">0</text>
<line x1="122.00" y1="384.4" x2="122.00" y2="388" stroke="#d4d4d4" stroke-width="1"/>
<text x="122.00" y="401.6" font-size="10.2" text-anchor="middle" fill="#1a1a1a">5</text>
<line x1="195.50" y1="384.4" x2="195.50" y2="388" stroke="#d4d4d4" stroke-width="1"/>
<text x="195.50" y="401.6" font-size="10.2" text-anchor="middle" fill="#1a1a1a">10</text>
<line x1="269.00" y1="384.4" x2="269.00" y2="388" stroke="#d4d4d4" stroke-width="1"/>
<text x="269.00" y="401.6" font-size="10.2" text-anchor="middle" fill="#1a1a1a">15</text>
<text x="163.2" y="415.9" font-size="10.6" font-weight="bold" text-anchor="middle" textLength="67.7" lengthAdjust="spacingAndGlyphs">Measurement</text>
<text transform="translate(14.9,327.8) rotate(-90)" font-size="12.3" font-weight="bold" text-anchor="middle" textLength="150" lengthAdjust="spacingAndGlyphs">OCR (pmol/min/10E+4 cells)</text>
<line x1="63.20" y1="319.03" x2="63.20" y2="332.28" stroke="#8c8c8c" stroke-width="0.9"/>
<line x1="61.60" y1="319.03" x2="64.80" y2="319.03" stroke="#8c8c8c" stroke-width="0.9"/>
<line x1="61.60" y1="332.28" x2="64.80" y2="332.28" stroke="#8c8c8c" stroke-width="0.9"/>
<line x1="77.90" y1="328.68" x2="77.90" y2="336.96" stroke="#8c8c8c" stroke-width="0.9"/>
<line x1="76.30" y1="328.68" x2="79.50" y2="328.68" stroke="#8c8c8c" stroke-width="0.9"/>
<line x1="76.30" y1="336.96" x2="79.50" y2="336.96" stroke="#8c8c8c" stroke-width="0.9"/>
<line x1="92.60" y1="333.44" x2="92.60" y2="340.06" stroke="#8c8c8c" stroke-width="0.9"/>
<line x1="91.00" y1="333.44" x2="94.20" y2="333.44" stroke="#8c8c8c" stroke-width="0.9"/>
<line x1="91.00" y1="340.06" x2="94.20" y2="340.06" stroke="#8c8c8c" stroke-width="0.9"/>
<line x1="107.30" y1="349.00" x2="107.30" y2="360.59" stroke="#8c8c8c" stroke-width="0.9"/>
<line x1="105.70" y1="349.00" x2="108.90" y2="349.00" stroke="#8c8c8c" stroke-width="0.9"/>
<line x1="105.70" y1="360.59" x2="108.90" y2="360.59" stroke="#8c8c8c" stroke-width="0.9"/>
<line x1="122.00" y1="352.85" x2="122.00" y2="363.62" stroke="#8c8c8c" stroke-width="0.9"/>
<line x1="120.40" y1="352.85" x2="123.60" y2="352.85" stroke="#8c8c8c" stroke-width="0.9"/>
<line x1="120.40" y1="363.62" x2="123.60" y2="363.62" stroke="#8c8c8c" stroke-width="0.9"/>
<line x1="136.70" y1="352.85" x2="136.70" y2="363.62" stroke="#8c8c8c" stroke-width="0.9"/>
<line x1="135.10" y1="352.85" x2="138.30" y2="352.85" stroke="#8c8c8c" stroke-width="0.9"/>
<line x1="135.10" y1="363.62" x2="138.30" y2="363.62" stroke="#8c8c8c" stroke-width="0.9"/>
<line x1="151.40" y1="294.44" x2="151.40" y2="312.65" stroke="#8c8c8c" stroke-width="0.9"/>
<line x1="149.80" y1="294.44" x2="153.00" y2="294.44" stroke="#8c8c8c" stroke-width="0.9"/>
<line x1="149.80" y1="312.65" x2="153.00" y2="312.65" stroke="#8c8c8c" stroke-width="0.9"/>
<line x1="166.10" y1="287.03" x2="166.10" y2="307.73" stroke="#8c8c8c" stroke-width="0.9"/>
<line x1="164.50" y1="287.03" x2="167.70" y2="287.03" stroke="#8c8c8c" stroke-width="0.9"/>
<line x1="164.50" y1="307.73" x2="167.70" y2="307.73" stroke="#8c8c8c" stroke-width="0.9"/>
<line x1="180.80" y1="280.61" x2="180.80" y2="303.79" stroke="#8c8c8c" stroke-width="0.9"/>
<line x1="179.20" y1="280.61" x2="182.40" y2="280.61" stroke="#8c8c8c" stroke-width="0.9"/>
<line x1="179.20" y1="303.79" x2="182.40" y2="303.79" stroke="#8c8c8c" stroke-width="0.9"/>
<line x1="195.50" y1="353.27" x2="195.50" y2="363.20" stroke="#8c8c8c" stroke-width="0.9"/>
<line x1="193.90" y1="353.27" x2="197.10" y2="353.27" stroke="#8c8c8c" stroke-width="0.9"/>
<line x1="193.90" y1="363.20" x2="197.10" y2="363.20" stroke="#8c8c8c" stroke-width="0.9"/>
<line x1="210.20" y1="354.72" x2="210.20" y2="366.31" stroke="#8c8c8c" stroke-width="0.9"/>
<line x1="208.60" y1="354.72" x2="211.80" y2="354.72" stroke="#8c8c8c" stroke-width="0.9"/>
<line x1="208.60" y1="366.31" x2="211.80" y2="366.31" stroke="#8c8c8c" stroke-width="0.9"/>
<line x1="224.90" y1="354.47" x2="224.90" y2="367.72" stroke="#8c8c8c" stroke-width="0.9"/>
<line x1="223.30" y1="354.47" x2="226.50" y2="354.47" stroke="#8c8c8c" stroke-width="0.9"/>
<line x1="223.30" y1="367.72" x2="226.50" y2="367.72" stroke="#8c8c8c" stroke-width="0.9"/>
<line x1="63.20" y1="330.58" x2="63.20" y2="343.83" stroke="#8c8c8c" stroke-width="0.9"/>
<line x1="61.60" y1="330.58" x2="64.80" y2="330.58" stroke="#8c8c8c" stroke-width="0.9"/>
<line x1="61.60" y1="343.83" x2="64.80" y2="343.83" stroke="#8c8c8c" stroke-width="0.9"/>
<line x1="77.90" y1="341.84" x2="77.90" y2="345.98" stroke="#8c8c8c" stroke-width="0.9"/>
<line x1="76.30" y1="341.84" x2="79.50" y2="341.84" stroke="#8c8c8c" stroke-width="0.9"/>
<line x1="76.30" y1="345.98" x2="79.50" y2="345.98" stroke="#8c8c8c" stroke-width="0.9"/>
<line x1="92.60" y1="344.37" x2="92.60" y2="347.68" stroke="#8c8c8c" stroke-width="0.9"/>
<line x1="91.00" y1="344.37" x2="94.20" y2="344.37" stroke="#8c8c8c" stroke-width="0.9"/>
<line x1="91.00" y1="347.68" x2="94.20" y2="347.68" stroke="#8c8c8c" stroke-width="0.9"/>
<line x1="107.30" y1="364.32" x2="107.30" y2="369.29" stroke="#8c8c8c" stroke-width="0.9"/>
<line x1="105.70" y1="364.32" x2="108.90" y2="364.32" stroke="#8c8c8c" stroke-width="0.9"/>
<line x1="105.70" y1="369.29" x2="108.90" y2="369.29" stroke="#8c8c8c" stroke-width="0.9"/>
<line x1="122.00" y1="366.64" x2="122.00" y2="370.78" stroke="#8c8c8c" stroke-width="0.9"/>
<line x1="120.40" y1="366.64" x2="123.60" y2="366.64" stroke="#8c8c8c" stroke-width="0.9"/>
<line x1="120.40" y1="370.78" x2="123.60" y2="370.78" stroke="#8c8c8c" stroke-width="0.9"/>
<line x1="136.70" y1="364.61" x2="136.70" y2="368.75" stroke="#8c8c8c" stroke-width="0.9"/>
<line x1="135.10" y1="364.61" x2="138.30" y2="364.61" stroke="#8c8c8c" stroke-width="0.9"/>
<line x1="135.10" y1="368.75" x2="138.30" y2="368.75" stroke="#8c8c8c" stroke-width="0.9"/>
<line x1="151.40" y1="327.02" x2="151.40" y2="336.96" stroke="#8c8c8c" stroke-width="0.9"/>
<line x1="149.80" y1="327.02" x2="153.00" y2="327.02" stroke="#8c8c8c" stroke-width="0.9"/>
<line x1="149.80" y1="336.96" x2="153.00" y2="336.96" stroke="#8c8c8c" stroke-width="0.9"/>
<line x1="166.10" y1="321.51" x2="166.10" y2="332.28" stroke="#8c8c8c" stroke-width="0.9"/>
<line x1="164.50" y1="321.51" x2="167.70" y2="321.51" stroke="#8c8c8c" stroke-width="0.9"/>
<line x1="164.50" y1="332.28" x2="167.70" y2="332.28" stroke="#8c8c8c" stroke-width="0.9"/>
<line x1="180.80" y1="315.14" x2="180.80" y2="329.21" stroke="#8c8c8c" stroke-width="0.9"/>
<line x1="179.20" y1="315.14" x2="182.40" y2="315.14" stroke="#8c8c8c" stroke-width="0.9"/>
<line x1="179.20" y1="329.21" x2="182.40" y2="329.21" stroke="#8c8c8c" stroke-width="0.9"/>
<line x1="195.50" y1="365.19" x2="195.50" y2="370.16" stroke="#8c8c8c" stroke-width="0.9"/>
<line x1="193.90" y1="365.19" x2="197.10" y2="365.19" stroke="#8c8c8c" stroke-width="0.9"/>
<line x1="193.90" y1="370.16" x2="197.10" y2="370.16" stroke="#8c8c8c" stroke-width="0.9"/>
<line x1="210.20" y1="367.51" x2="210.20" y2="371.65" stroke="#8c8c8c" stroke-width="0.9"/>
<line x1="208.60" y1="367.51" x2="211.80" y2="367.51" stroke="#8c8c8c" stroke-width="0.9"/>
<line x1="208.60" y1="371.65" x2="211.80" y2="371.65" stroke="#8c8c8c" stroke-width="0.9"/>
<line x1="224.90" y1="366.52" x2="224.90" y2="370.66" stroke="#8c8c8c" stroke-width="0.9"/>
<line x1="223.30" y1="366.52" x2="226.50" y2="366.52" stroke="#8c8c8c" stroke-width="0.9"/>
<line x1="223.30" y1="370.66" x2="226.50" y2="370.66" stroke="#8c8c8c" stroke-width="0.9"/>
<polyline points="63.20,325.65 77.90,332.82 92.60,336.75 107.30,354.80 122.00,358.24 136.70,358.24 151.40,303.55 166.10,297.38 180.80,292.20 195.50,358.24 210.20,360.51 224.90,361.09" fill="none" stroke="#0f72d2" stroke-width="1.1"/>
<circle cx="63.20" cy="325.65" r="3.6" fill="#0f72d2"/>
<circle cx="77.90" cy="332.82" r="3.6" fill="#0f72d2"/>
<circle cx="92.60" cy="336.75" r="3.6" fill="#0f72d2"/>
<circle cx="107.30" cy="354.80" r="3.6" fill="#0f72d2"/>
<circle cx="122.00" cy="358.24" r="3.6" fill="#0f72d2"/>
<circle cx="136.70" cy="358.24" r="3.6" fill="#0f72d2"/>
<circle cx="151.40" cy="303.55" r="3.6" fill="#0f72d2"/>
<circle cx="166.10" cy="297.38" r="3.6" fill="#0f72d2"/>
<circle cx="180.80" cy="292.20" r="3.6" fill="#0f72d2"/>
<circle cx="195.50" cy="358.24" r="3.6" fill="#0f72d2"/>
<circle cx="210.20" cy="360.51" r="3.6" fill="#0f72d2"/>
<circle cx="224.90" cy="361.09" r="3.6" fill="#0f72d2"/>
<polyline points="63.20,337.20 77.90,343.91 92.60,346.02 107.30,366.80 122.00,368.71 136.70,366.68 151.40,331.99 166.10,326.90 180.80,322.18 195.50,367.67 210.20,369.58 224.90,368.59" fill="none" stroke="#fc0c0c" stroke-width="1.1"/>
<circle cx="63.20" cy="337.20" r="3.6" fill="#fc0c0c"/>
<circle cx="77.90" cy="343.91" r="3.6" fill="#fc0c0c"/>
<circle cx="92.60" cy="346.02" r="3.6" fill="#fc0c0c"/>
<circle cx="107.30" cy="366.80" r="3.6" fill="#fc0c0c"/>
<circle cx="122.00" cy="368.71" r="3.6" fill="#fc0c0c"/>
<circle cx="136.70" cy="366.68" r="3.6" fill="#fc0c0c"/>
<circle cx="151.40" cy="331.99" r="3.6" fill="#fc0c0c"/>
<circle cx="166.10" cy="326.90" r="3.6" fill="#fc0c0c"/>
<circle cx="180.80" cy="322.18" r="3.6" fill="#fc0c0c"/>
<circle cx="195.50" cy="367.67" r="3.6" fill="#fc0c0c"/>
<circle cx="210.20" cy="369.58" r="3.6" fill="#fc0c0c"/>
<circle cx="224.90" cy="368.59" r="3.6" fill="#fc0c0c"/>
<line x1="223.8" y1="263.1" x2="234.6" y2="263.1" stroke="#0f72d2" stroke-width="1.1"/><circle cx="229.1" cy="263.1" r="3.3" fill="#0f72d2"/>
<line x1="223.8" y1="276.9" x2="234.6" y2="276.9" stroke="#fc0c0c" stroke-width="1.1"/><circle cx="229.1" cy="276.9" r="3.3" fill="#fc0c0c"/>
<text x="235.6" y="265.9" font-size="8.6" fill="#1a1a1a" textLength="12" lengthAdjust="spacingAndGlyphs">WT</text>
<text x="235.6" y="279.7" font-size="8.6" fill="#1a1a1a" textLength="10" lengthAdjust="spacingAndGlyphs">TG</text>
<text x="94.4" y="246" font-size="9.8" font-weight="bold" text-anchor="middle" textLength="43.6" lengthAdjust="spacingAndGlyphs">Oligomycin</text>
<text x="137.2" y="246" font-size="9.8" font-weight="bold" text-anchor="middle" textLength="19.4" lengthAdjust="spacingAndGlyphs">FCCP</text>
<text x="185.5" y="245" font-size="9.8" font-weight="bold" text-anchor="middle" textLength="47" lengthAdjust="spacingAndGlyphs">Rotenone &amp;</text>
<text x="186" y="257" font-size="9.8" font-weight="bold" text-anchor="middle" textLength="48" lengthAdjust="spacingAndGlyphs">Antimycin A</text>
<line x1="94.2" y1="253.7" x2="94.2" y2="324.5" stroke="#000" stroke-width="1.6"/>
<polyline points="90.60000000000001,318.5 94.2,325 97.8,318.5" fill="none" stroke="#000" stroke-width="1.8"/>
<line x1="136.9" y1="254.2" x2="136.9" y2="338.1" stroke="#000" stroke-width="1.6"/>
<polyline points="133.3,332.1 136.9,338.6 140.5,332.1" fill="none" stroke="#000" stroke-width="1.8"/>
<line x1="181.4" y1="261" x2="181.4" y2="271.5" stroke="#000" stroke-width="1.6"/>
<polyline points="177.8,265.5 181.4,272 185.0,265.5" fill="none" stroke="#000" stroke-width="1.8"/>
<line x1="299.40" y1="252.60" x2="299.40" y2="333.68" stroke="#000" stroke-width="1.15" />
<line x1="296.20" y1="333.10" x2="299.40" y2="333.10" stroke="#000" stroke-width="1.035" />
<text x="295.90" y="335.30" font-size="6.2" font-weight="normal" text-anchor="end" fill="#000" >0</text>
<line x1="296.20" y1="313.10" x2="299.40" y2="313.10" stroke="#000" stroke-width="1.035" />
<text x="295.90" y="315.30" font-size="6.2" font-weight="normal" text-anchor="end" fill="#000" >20</text>
<line x1="296.20" y1="293.10" x2="299.40" y2="293.10" stroke="#000" stroke-width="1.035" />
<text x="295.90" y="295.30" font-size="6.2" font-weight="normal" text-anchor="end" fill="#000" >40</text>
<line x1="296.20" y1="273.10" x2="299.40" y2="273.10" stroke="#000" stroke-width="1.035" />
<text x="295.90" y="275.30" font-size="6.2" font-weight="normal" text-anchor="end" fill="#000" >60</text>
<line x1="296.20" y1="253.10" x2="299.40" y2="253.10" stroke="#000" stroke-width="1.035" />
<text x="295.90" y="255.30" font-size="6.2" font-weight="normal" text-anchor="end" fill="#000" >80</text>
<path d="M307.95 333.10V272.80H321.15V333.10" fill="#fff" stroke="#1c1cf0" stroke-width="1.5"/>
<line x1="314.55" y1="333.10" x2="314.55" y2="336.30" stroke="#000" stroke-width="1.035" />
<line x1="314.55" y1="264.00" x2="314.55" y2="281.60" stroke="#1c1cf0" stroke-width="1.0" />
<line x1="312.35" y1="264.00" x2="316.75" y2="264.00" stroke="#1c1cf0" stroke-width="1.0" />
<line x1="312.35" y1="281.60" x2="316.75" y2="281.60" stroke="#1c1cf0" stroke-width="1.0" />
<circle cx="314.55" cy="261.10" r="1.80" fill="#1c1cf0"/>
<circle cx="314.55" cy="263.10" r="1.80" fill="#1c1cf0"/>
<circle cx="314.55" cy="291.10" r="1.80" fill="#1c1cf0"/>
<text x="314.55" y="343.20" font-size="7.6" font-weight="bold" text-anchor="middle" fill="#000" >WT</text>
<path d="M330.45 333.10V277.10H343.65V333.10" fill="#fff" stroke="#d0186c" stroke-width="1.5"/>
<line x1="337.05" y1="333.10" x2="337.05" y2="336.30" stroke="#000" stroke-width="1.035" />
<line x1="337.05" y1="269.90" x2="337.05" y2="284.30" stroke="#d0186c" stroke-width="1.0" />
<line x1="334.85" y1="269.90" x2="339.25" y2="269.90" stroke="#d0186c" stroke-width="1.0" />
<line x1="334.85" y1="284.30" x2="339.25" y2="284.30" stroke="#d0186c" stroke-width="1.0" />
<rect x="335.35" y="262.60" width="3.40" height="3.40" fill="#d0186c"/>
<rect x="335.35" y="278.00" width="3.40" height="3.40" fill="#d0186c"/>
<rect x="335.35" y="284.30" width="3.40" height="3.40" fill="#d0186c"/>
<text x="337.05" y="343.20" font-size="7.6" font-weight="bold" text-anchor="middle" fill="#000" >TG</text>
<line x1="298.82" y1="333.10" x2="347.50" y2="333.10" stroke="#000" stroke-width="1.15" />
<text x="325.65" y="242.70" font-size="8.0" font-weight="bold" text-anchor="middle" fill="#000" textLength="63.3" lengthAdjust="spacingAndGlyphs">Basal Respiration</text>
<text transform="translate(284.30,296.70) rotate(-90)" font-size="6.6" font-weight="bold" text-anchor="middle" fill="#000" textLength="89.7" lengthAdjust="spacingAndGlyphs">OCR (pmol/min/10E+4 cells)</text>
<line x1="417.10" y1="249.70" x2="417.10" y2="329.68" stroke="#000" stroke-width="1.15" />
<line x1="413.90" y1="329.10" x2="417.10" y2="329.10" stroke="#000" stroke-width="1.035" />
<text x="413.60" y="331.30" font-size="6.2" font-weight="normal" text-anchor="end" fill="#000" >0</text>
<line x1="413.90" y1="313.32" x2="417.10" y2="313.32" stroke="#000" stroke-width="1.035" />
<text x="413.60" y="315.52" font-size="6.2" font-weight="normal" text-anchor="end" fill="#000" >50</text>
<line x1="413.90" y1="297.54" x2="417.10" y2="297.54" stroke="#000" stroke-width="1.035" />
<text x="413.60" y="299.74" font-size="6.2" font-weight="normal" text-anchor="end" fill="#000" >100</text>
<line x1="413.90" y1="281.76" x2="417.10" y2="281.76" stroke="#000" stroke-width="1.035" />
<text x="413.60" y="283.96" font-size="6.2" font-weight="normal" text-anchor="end" fill="#000" >150</text>
<line x1="413.90" y1="265.98" x2="417.10" y2="265.98" stroke="#000" stroke-width="1.035" />
<text x="413.60" y="268.18" font-size="6.2" font-weight="normal" text-anchor="end" fill="#000" >200</text>
<line x1="413.90" y1="250.20" x2="417.10" y2="250.20" stroke="#000" stroke-width="1.035" />
<text x="413.60" y="252.40" font-size="6.2" font-weight="normal" text-anchor="end" fill="#000" >250</text>
<path d="M425.55 329.10V276.39H438.55V329.10" fill="#fff" stroke="#1c1cf0" stroke-width="1.5"/>
<line x1="432.05" y1="329.10" x2="432.05" y2="332.30" stroke="#000" stroke-width="1.035" />
<line x1="432.05" y1="268.19" x2="432.05" y2="284.28" stroke="#1c1cf0" stroke-width="1.0" />
<line x1="429.85" y1="268.19" x2="434.25" y2="268.19" stroke="#1c1cf0" stroke-width="1.0" />
<line x1="429.85" y1="284.28" x2="434.25" y2="284.28" stroke="#1c1cf0" stroke-width="1.0" />
<circle cx="432.05" cy="262.19" r="1.80" fill="#1c1cf0"/>
<circle cx="432.05" cy="276.39" r="1.80" fill="#1c1cf0"/>
<circle cx="432.05" cy="289.33" r="1.80" fill="#1c1cf0"/>
<text x="432.05" y="339.20" font-size="7.6" font-weight="bold" text-anchor="middle" fill="#000" >WT</text>
<path d="M447.75 329.10V293.60H460.75V329.10" fill="#fff" stroke="#d0186c" stroke-width="1.5"/>
<line x1="454.25" y1="329.10" x2="454.25" y2="332.30" stroke="#000" stroke-width="1.035" />
<line x1="454.25" y1="290.60" x2="454.25" y2="299.43" stroke="#d0186c" stroke-width="1.0" />
<line x1="452.05" y1="290.60" x2="456.45" y2="290.60" stroke="#d0186c" stroke-width="1.0" />
<line x1="452.05" y1="299.43" x2="456.45" y2="299.43" stroke="#d0186c" stroke-width="1.0" />
<rect x="452.55" y="283.22" width="3.40" height="3.40" fill="#d0186c"/>
<rect x="452.55" y="287.95" width="3.40" height="3.40" fill="#d0186c"/>
<rect x="452.55" y="292.05" width="3.40" height="3.40" fill="#d0186c"/>
<rect x="452.55" y="303.41" width="3.40" height="3.40" fill="#d0186c"/>
<text x="454.25" y="339.20" font-size="7.6" font-weight="bold" text-anchor="middle" fill="#000" >TG</text>
<text x="454.25" y="274.50" font-size="9" font-weight="bold" text-anchor="middle" fill="#000" >*</text>
<line x1="416.53" y1="329.10" x2="464.50" y2="329.10" stroke="#000" stroke-width="1.15" />
<text x="443.25" y="239.10" font-size="8.0" font-weight="bold" text-anchor="middle" fill="#000" textLength="73.3" lengthAdjust="spacingAndGlyphs">Maximal Respiration</text>
<text transform="translate(398.20,289.20) rotate(-90)" font-size="6.6" font-weight="bold" text-anchor="middle" fill="#000" textLength="88.2" lengthAdjust="spacingAndGlyphs">OCR (pmol/min/10E+4 cells)</text>
<line x1="304.00" y1="372.90" x2="304.00" y2="453.68" stroke="#000" stroke-width="1.15" />
<line x1="300.80" y1="453.10" x2="304.00" y2="453.10" stroke="#000" stroke-width="1.035" />
<text x="300.50" y="455.30" font-size="6.2" font-weight="normal" text-anchor="end" fill="#000" >0</text>
<line x1="300.80" y1="433.18" x2="304.00" y2="433.18" stroke="#000" stroke-width="1.035" />
<text x="300.50" y="435.38" font-size="6.2" font-weight="normal" text-anchor="end" fill="#000" >20</text>
<line x1="300.80" y1="413.25" x2="304.00" y2="413.25" stroke="#000" stroke-width="1.035" />
<text x="300.50" y="415.45" font-size="6.2" font-weight="normal" text-anchor="end" fill="#000" >40</text>
<line x1="300.80" y1="393.32" x2="304.00" y2="393.32" stroke="#000" stroke-width="1.035" />
<text x="300.50" y="395.52" font-size="6.2" font-weight="normal" text-anchor="end" fill="#000" >60</text>
<line x1="300.80" y1="373.40" x2="304.00" y2="373.40" stroke="#000" stroke-width="1.035" />
<text x="300.50" y="375.60" font-size="6.2" font-weight="normal" text-anchor="end" fill="#000" >80</text>
<path d="M312.55 453.10V401.89H325.75V453.10" fill="#fff" stroke="#1c1cf0" stroke-width="1.5"/>
<line x1="319.15" y1="453.10" x2="319.15" y2="456.30" stroke="#000" stroke-width="1.035" />
<line x1="319.15" y1="397.41" x2="319.15" y2="406.48" stroke="#1c1cf0" stroke-width="1.0" />
<line x1="316.95" y1="397.41" x2="321.35" y2="397.41" stroke="#1c1cf0" stroke-width="1.0" />
<line x1="316.95" y1="406.48" x2="321.35" y2="406.48" stroke="#1c1cf0" stroke-width="1.0" />
<circle cx="316.55" cy="395.62" r="1.80" fill="#1c1cf0"/>
<circle cx="321.75" cy="395.62" r="1.80" fill="#1c1cf0"/>
<circle cx="319.15" cy="411.95" r="1.80" fill="#1c1cf0"/>
<text x="319.15" y="463.80" font-size="7.6" font-weight="bold" text-anchor="middle" fill="#000" >WT</text>
<path d="M334.95 453.10V399.50H347.75V453.10" fill="#fff" stroke="#d0186c" stroke-width="1.5"/>
<line x1="341.35" y1="453.10" x2="341.35" y2="456.30" stroke="#000" stroke-width="1.035" />
<line x1="341.35" y1="394.72" x2="341.35" y2="403.69" stroke="#d0186c" stroke-width="1.0" />
<line x1="339.15" y1="394.72" x2="343.55" y2="394.72" stroke="#d0186c" stroke-width="1.0" />
<line x1="339.15" y1="403.69" x2="343.55" y2="403.69" stroke="#d0186c" stroke-width="1.0" />
<rect x="339.65" y="390.33" width="3.40" height="3.40" fill="#d0186c"/>
<rect x="339.65" y="396.61" width="3.40" height="3.40" fill="#d0186c"/>
<rect x="339.65" y="406.47" width="3.40" height="3.40" fill="#d0186c"/>
<text x="341.35" y="463.80" font-size="7.6" font-weight="bold" text-anchor="middle" fill="#000" >TG</text>
<line x1="303.43" y1="453.10" x2="357.50" y2="453.10" stroke="#000" stroke-width="1.15" />
<text x="330.00" y="362.70" font-size="8.0" font-weight="bold" text-anchor="middle" fill="#000" textLength="56" lengthAdjust="spacingAndGlyphs">ATP Production</text>
<text transform="translate(289.20,414.00) rotate(-90)" font-size="6.6" font-weight="bold" text-anchor="middle" fill="#000" textLength="85.9" lengthAdjust="spacingAndGlyphs">OCR (pmol/min/10E+4 cells)</text>
<line x1="417.40" y1="373.80" x2="417.40" y2="454.38" stroke="#000" stroke-width="1.15" />
<line x1="414.20" y1="453.80" x2="417.40" y2="453.80" stroke="#000" stroke-width="1.035" />
<text x="413.90" y="456.00" font-size="6.2" font-weight="normal" text-anchor="end" fill="#000" >0</text>
<line x1="414.20" y1="427.30" x2="417.40" y2="427.30" stroke="#000" stroke-width="1.035" />
<text x="413.90" y="429.50" font-size="6.2" font-weight="normal" text-anchor="end" fill="#000" >50</text>
<line x1="414.20" y1="400.80" x2="417.40" y2="400.80" stroke="#000" stroke-width="1.035" />
<text x="413.90" y="403.00" font-size="6.2" font-weight="normal" text-anchor="end" fill="#000" >100</text>
<line x1="414.20" y1="374.30" x2="417.40" y2="374.30" stroke="#000" stroke-width="1.035" />
<text x="413.90" y="376.50" font-size="6.2" font-weight="normal" text-anchor="end" fill="#000" >150</text>
<path d="M426.25 453.80V397.78H438.75V453.80" fill="#fff" stroke="#1c1cf0" stroke-width="1.5"/>
<line x1="432.50" y1="453.80" x2="432.50" y2="457.00" stroke="#000" stroke-width="1.035" />
<line x1="432.50" y1="382.99" x2="432.50" y2="411.19" stroke="#1c1cf0" stroke-width="1.0" />
<line x1="430.30" y1="382.99" x2="434.70" y2="382.99" stroke="#1c1cf0" stroke-width="1.0" />
<line x1="430.30" y1="411.19" x2="434.70" y2="411.19" stroke="#1c1cf0" stroke-width="1.0" />
<circle cx="432.50" cy="378.06" r="1.80" fill="#1c1cf0"/>
<circle cx="432.50" cy="388.40" r="1.80" fill="#1c1cf0"/>
<circle cx="432.50" cy="424.70" r="1.80" fill="#1c1cf0"/>
<text x="432.50" y="464.00" font-size="7.6" font-weight="bold" text-anchor="middle" fill="#000" >WT</text>
<path d="M448.15 453.80V424.12H460.95V453.80" fill="#fff" stroke="#d0186c" stroke-width="1.5"/>
<line x1="454.55" y1="453.80" x2="454.55" y2="457.00" stroke="#000" stroke-width="1.035" />
<line x1="454.55" y1="416.17" x2="454.55" y2="431.33" stroke="#d0186c" stroke-width="1.0" />
<line x1="452.35" y1="416.17" x2="456.75" y2="416.17" stroke="#d0186c" stroke-width="1.0" />
<line x1="452.35" y1="431.33" x2="456.75" y2="431.33" stroke="#d0186c" stroke-width="1.0" />
<rect x="451.85" y="414.10" width="3.40" height="3.40" fill="#d0186c"/>
<rect x="455.85" y="414.79" width="3.40" height="3.40" fill="#d0186c"/>
<rect x="452.85" y="437.10" width="3.40" height="3.40" fill="#d0186c"/>
<text x="454.55" y="464.00" font-size="7.6" font-weight="bold" text-anchor="middle" fill="#000" >TG</text>
<text x="454.55" y="404.50" font-size="9" font-weight="bold" text-anchor="middle" fill="#000" >*</text>
<line x1="416.82" y1="453.80" x2="470.00" y2="453.80" stroke="#000" stroke-width="1.15" />
<text x="393.80" y="363.80" font-size="8.0" font-weight="bold" text-anchor="start" fill="#000" textLength="98.7" lengthAdjust="spacingAndGlyphs">Spare Respiratory Capacity</text>
<text transform="translate(398.30,414.50) rotate(-90)" font-size="6.6" font-weight="bold" text-anchor="middle" fill="#000" textLength="87" lengthAdjust="spacingAndGlyphs">OCR (pmol/min/10E+4 cells)</text>
<line x1="357.40" y1="494.80" x2="357.40" y2="575.28" stroke="#000" stroke-width="1.15" />
<line x1="354.20" y1="574.70" x2="357.40" y2="574.70" stroke="#000" stroke-width="1.035" />
<text x="353.90" y="576.90" font-size="6.2" font-weight="normal" text-anchor="end" fill="#000" >0</text>
<line x1="354.20" y1="554.85" x2="357.40" y2="554.85" stroke="#000" stroke-width="1.035" />
<text x="353.90" y="557.05" font-size="6.2" font-weight="normal" text-anchor="end" fill="#000" >5</text>
<line x1="354.20" y1="535.00" x2="357.40" y2="535.00" stroke="#000" stroke-width="1.035" />
<text x="353.90" y="537.20" font-size="6.2" font-weight="normal" text-anchor="end" fill="#000" >10</text>
<line x1="354.20" y1="515.15" x2="357.40" y2="515.15" stroke="#000" stroke-width="1.035" />
<text x="353.90" y="517.35" font-size="6.2" font-weight="normal" text-anchor="end" fill="#000" >15</text>
<line x1="354.20" y1="495.30" x2="357.40" y2="495.30" stroke="#000" stroke-width="1.035" />
<text x="353.90" y="497.50" font-size="6.2" font-weight="normal" text-anchor="end" fill="#000" >20</text>
<path d="M367.35 574.70V540.28H379.95V574.70" fill="#fff" stroke="#1c1cf0" stroke-width="1.5"/>
<line x1="373.65" y1="574.70" x2="373.65" y2="577.90" stroke="#000" stroke-width="1.035" />
<line x1="373.65" y1="523.69" x2="373.65" y2="555.25" stroke="#1c1cf0" stroke-width="1.0" />
<line x1="371.45" y1="523.69" x2="375.85" y2="523.69" stroke="#1c1cf0" stroke-width="1.0" />
<line x1="371.45" y1="555.25" x2="375.85" y2="555.25" stroke="#1c1cf0" stroke-width="1.0" />
<circle cx="373.65" cy="517.93" r="1.80" fill="#1c1cf0"/>
<circle cx="373.65" cy="530.83" r="1.80" fill="#1c1cf0"/>
<circle cx="373.65" cy="570.73" r="1.80" fill="#1c1cf0"/>
<text x="373.65" y="584.80" font-size="7.6" font-weight="bold" text-anchor="middle" fill="#000" >WT</text>
<path d="M388.85 574.70V562.91H402.85V574.70" fill="#fff" stroke="#d0186c" stroke-width="1.5"/>
<line x1="395.85" y1="574.70" x2="395.85" y2="577.90" stroke="#000" stroke-width="1.035" />
<line x1="395.85" y1="553.42" x2="395.85" y2="572.32" stroke="#d0186c" stroke-width="1.0" />
<line x1="393.65" y1="553.42" x2="398.05" y2="553.42" stroke="#d0186c" stroke-width="1.0" />
<line x1="393.65" y1="572.32" x2="398.05" y2="572.32" stroke="#d0186c" stroke-width="1.0" />
<rect x="394.15" y="542.83" width="3.40" height="3.40" fill="#d0186c"/>
<rect x="394.15" y="566.65" width="3.40" height="3.40" fill="#d0186c"/>
<rect x="394.15" y="569.43" width="3.40" height="3.40" fill="#d0186c"/>
<text x="395.85" y="584.80" font-size="7.6" font-weight="bold" text-anchor="middle" fill="#000" >TG</text>
<line x1="356.82" y1="574.70" x2="411.70" y2="574.70" stroke="#000" stroke-width="1.15" />
<text x="384.70" y="483.90" font-size="8.0" font-weight="bold" text-anchor="middle" fill="#000" textLength="43.2" lengthAdjust="spacingAndGlyphs">Proton Leak</text>
<text transform="translate(344.30,535.30) rotate(-90)" font-size="6.6" font-weight="bold" text-anchor="middle" fill="#000" textLength="87.4" lengthAdjust="spacingAndGlyphs">OCR (pmol/min/10E+4 cells)</text>
<circle cx="381" cy="450.4" r="1.3" fill="#000"/>
<line x1="55.40" y1="439.00" x2="55.40" y2="551.05" stroke="#000" stroke-width="1.3" />
<line x1="51.10" y1="550.40" x2="55.40" y2="550.40" stroke="#000" stroke-width="1.1700000000000002" />
<text x="50.50" y="553.50" font-size="8.6" font-weight="bold" text-anchor="end" fill="#000" >0.0</text>
<line x1="51.10" y1="513.43" x2="55.40" y2="513.43" stroke="#000" stroke-width="1.1700000000000002" />
<text x="50.50" y="516.53" font-size="8.6" font-weight="bold" text-anchor="end" fill="#000" >0.5</text>
<line x1="51.10" y1="476.47" x2="55.40" y2="476.47" stroke="#000" stroke-width="1.1700000000000002" />
<text x="50.50" y="479.56" font-size="8.6" font-weight="bold" text-anchor="end" fill="#000" >1.0</text>
<line x1="51.10" y1="439.50" x2="55.40" y2="439.50" stroke="#000" stroke-width="1.1700000000000002" />
<text x="50.50" y="442.60" font-size="8.6" font-weight="bold" text-anchor="end" fill="#000" >1.5</text>
<path d="M67.60 550.40V475.73H85.60V550.40" fill="#fff" stroke="#2a5598" stroke-width="1.8"/>
<line x1="76.60" y1="550.40" x2="76.60" y2="554.70" stroke="#000" stroke-width="1.1700000000000002" />
<line x1="76.60" y1="460.20" x2="76.60" y2="490.51" stroke="#6490d8" stroke-width="1.1" />
<line x1="71.20" y1="460.20" x2="82.00" y2="460.20" stroke="#6490d8" stroke-width="1.1" />
<line x1="71.20" y1="490.51" x2="82.00" y2="490.51" stroke="#6490d8" stroke-width="1.1" />
<circle cx="76.60" cy="448.37" r="1.80" fill="#6490d8"/>
<circle cx="76.60" cy="470.55" r="1.80" fill="#6490d8"/>
<circle cx="70.10" cy="480.16" r="1.80" fill="#6490d8"/>
<circle cx="76.60" cy="481.35" r="1.80" fill="#6490d8"/>
<circle cx="83.10" cy="480.68" r="1.80" fill="#6490d8"/>
<circle cx="76.60" cy="492.73" r="1.80" fill="#6490d8"/>
<text x="76.60" y="563.30" font-size="8.3" font-weight="bold" text-anchor="middle" fill="#000" >WT</text>
<path d="M98.70 550.40V474.25H117.10V550.40" fill="#fff" stroke="#4b2a94" stroke-width="1.8"/>
<line x1="107.90" y1="550.40" x2="107.90" y2="554.70" stroke="#000" stroke-width="1.1700000000000002" />
<line x1="107.90" y1="461.68" x2="107.90" y2="486.82" stroke="#9a7ad8" stroke-width="1.1" />
<line x1="102.50" y1="461.68" x2="113.30" y2="461.68" stroke="#9a7ad8" stroke-width="1.1" />
<line x1="102.50" y1="486.82" x2="113.30" y2="486.82" stroke="#9a7ad8" stroke-width="1.1" />
<circle cx="107.90" cy="456.95" r="1.80" fill="#9a7ad8"/>
<circle cx="100.90" cy="466.56" r="1.80" fill="#9a7ad8"/>
<circle cx="114.90" cy="465.08" r="1.80" fill="#9a7ad8"/>
<circle cx="100.90" cy="472.03" r="1.80" fill="#9a7ad8"/>
<circle cx="107.90" cy="468.19" r="1.80" fill="#9a7ad8"/>
<circle cx="107.90" cy="472.84" r="1.80" fill="#9a7ad8"/>
<circle cx="114.90" cy="473.14" r="1.80" fill="#9a7ad8"/>
<circle cx="107.90" cy="476.47" r="1.80" fill="#9a7ad8"/>
<circle cx="107.90" cy="480.68" r="1.80" fill="#9a7ad8"/>
<circle cx="107.90" cy="503.82" r="1.80" fill="#9a7ad8"/>
<text x="107.90" y="563.30" font-size="8.3" font-weight="bold" text-anchor="middle" fill="#000" >TG</text>
<line x1="54.75" y1="550.40" x2="129.50" y2="550.40" stroke="#000" stroke-width="1.3" />
<text transform="translate(30.80,495.00) rotate(-90)" font-size="9.2" font-weight="bold" text-anchor="middle" fill="#000" textLength="58" lengthAdjust="spacingAndGlyphs">Cyt b / β-actin</text>
<line x1="183.70" y1="439.00" x2="183.70" y2="551.05" stroke="#000" stroke-width="1.3" />
<line x1="179.40" y1="550.40" x2="183.70" y2="550.40" stroke="#000" stroke-width="1.1700000000000002" />
<text x="178.80" y="553.50" font-size="8.6" font-weight="bold" text-anchor="end" fill="#000" >0.0</text>
<line x1="179.40" y1="513.43" x2="183.70" y2="513.43" stroke="#000" stroke-width="1.1700000000000002" />
<text x="178.80" y="516.53" font-size="8.6" font-weight="bold" text-anchor="end" fill="#000" >0.5</text>
<line x1="179.40" y1="476.47" x2="183.70" y2="476.47" stroke="#000" stroke-width="1.1700000000000002" />
<text x="178.80" y="479.56" font-size="8.6" font-weight="bold" text-anchor="end" fill="#000" >1.0</text>
<line x1="179.40" y1="439.50" x2="183.70" y2="439.50" stroke="#000" stroke-width="1.1700000000000002" />
<text x="178.80" y="442.60" font-size="8.6" font-weight="bold" text-anchor="end" fill="#000" >1.5</text>
<path d="M196.20 550.40V476.47H214.70V550.40" fill="#fff" stroke="#2a5598" stroke-width="1.8"/>
<line x1="205.45" y1="550.40" x2="205.45" y2="554.70" stroke="#000" stroke-width="1.1700000000000002" />
<line x1="205.45" y1="462.57" x2="205.45" y2="488.44" stroke="#6490d8" stroke-width="1.1" />
<line x1="200.05" y1="462.57" x2="210.85" y2="462.57" stroke="#6490d8" stroke-width="1.1" />
<line x1="200.05" y1="488.44" x2="210.85" y2="488.44" stroke="#6490d8" stroke-width="1.1" />
<circle cx="205.45" cy="454.06" r="1.80" fill="#6490d8"/>
<circle cx="201.95" cy="472.55" r="1.80" fill="#6490d8"/>
<circle cx="208.95" cy="473.14" r="1.80" fill="#6490d8"/>
<circle cx="205.45" cy="476.98" r="1.80" fill="#6490d8"/>
<circle cx="205.45" cy="481.35" r="1.80" fill="#6490d8"/>
<circle cx="205.45" cy="494.06" r="1.80" fill="#6490d8"/>
<text x="205.45" y="563.30" font-size="8.3" font-weight="bold" text-anchor="middle" fill="#000" >WT</text>
<path d="M227.80 550.40V470.70H246.00V550.40" fill="#fff" stroke="#4b2a94" stroke-width="1.8"/>
<line x1="236.90" y1="550.40" x2="236.90" y2="554.70" stroke="#000" stroke-width="1.1700000000000002" />
<line x1="236.90" y1="458.57" x2="236.90" y2="483.86" stroke="#9a7ad8" stroke-width="1.1" />
<line x1="229.90" y1="458.57" x2="243.90" y2="458.57" stroke="#9a7ad8" stroke-width="1.1" />
<line x1="229.90" y1="483.86" x2="243.90" y2="483.86" stroke="#9a7ad8" stroke-width="1.1" />
<circle cx="230.40" cy="458.80" r="1.80" fill="#9a7ad8"/>
<circle cx="243.40" cy="458.80" r="1.80" fill="#9a7ad8"/>
<circle cx="236.90" cy="460.72" r="1.80" fill="#9a7ad8"/>
<circle cx="227.90" cy="469.44" r="1.80" fill="#9a7ad8"/>
<circle cx="233.90" cy="468.56" r="1.80" fill="#9a7ad8"/>
<circle cx="240.40" cy="467.30" r="1.80" fill="#9a7ad8"/>
<circle cx="245.90" cy="469.44" r="1.80" fill="#9a7ad8"/>
<circle cx="240.40" cy="471.07" r="1.80" fill="#9a7ad8"/>
<circle cx="236.90" cy="476.32" r="1.80" fill="#9a7ad8"/>
<circle cx="236.90" cy="504.41" r="1.80" fill="#9a7ad8"/>
<text x="236.90" y="563.30" font-size="8.3" font-weight="bold" text-anchor="middle" fill="#000" >TG</text>
<line x1="183.05" y1="550.40" x2="257.90" y2="550.40" stroke="#000" stroke-width="1.3" />
<text transform="translate(160.00,495.00) rotate(-90)" font-size="9.2" font-weight="bold" text-anchor="middle" fill="#000" textLength="58" lengthAdjust="spacingAndGlyphs">CO II / β-actin</text>
</svg>
</body></html>
